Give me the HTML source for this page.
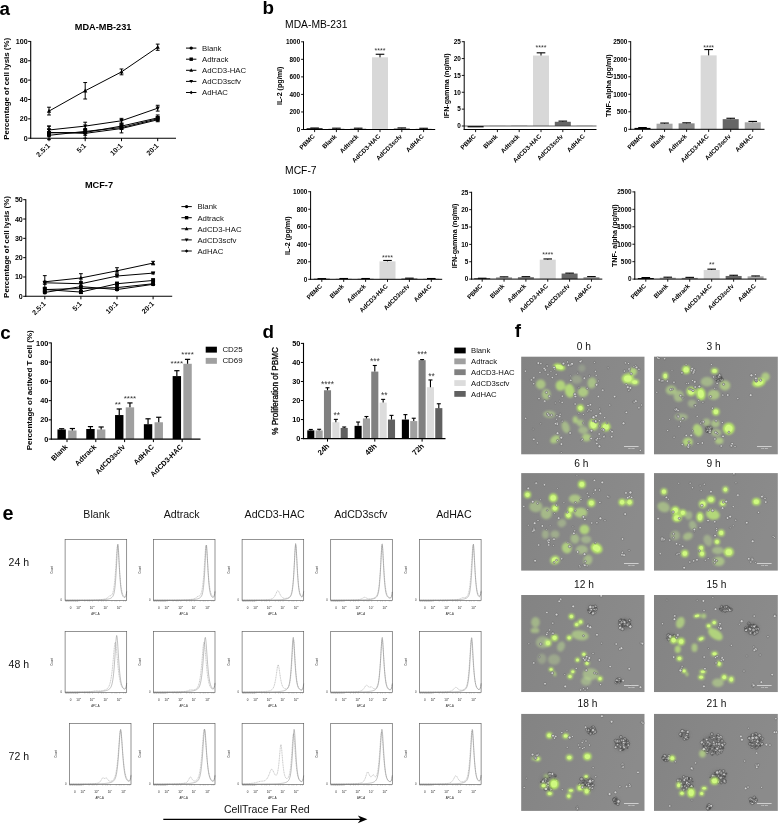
<!DOCTYPE html>
<html lang="en"><head><meta charset="utf-8"><title>Figure</title>
<style>html,body{margin:0;padding:0;background:#fff}body{width:778px;height:824px;overflow:hidden}svg{display:block}text{font-family:"Liberation Sans",Arial,sans-serif}</style>
</head><body>
<svg width="778" height="824" viewBox="0 0 778 824">
<defs>
<filter id="b0" x="-5%" y="-5%" width="110%" height="110%"><feGaussianBlur stdDeviation="0.42"/></filter>
<filter id="b1" x="-5%" y="-5%" width="110%" height="110%"><feGaussianBlur stdDeviation="0.85"/></filter>
<filter id="b3" x="-5%" y="-5%" width="110%" height="110%"><feGaussianBlur stdDeviation="0.55"/></filter>
<filter id="b2" x="-5%" y="-5%" width="110%" height="110%"><feGaussianBlur stdDeviation="1.6"/></filter>
<linearGradient id="bgg" x1="0" y1="0" x2="1" y2="0.3"><stop offset="0" stop-color="#838383"/><stop offset="1" stop-color="#8b8b8b"/></linearGradient>
</defs>
<rect x="0" y="0" width="778" height="824" fill="#fff"/>
<g id="panel-a">
<text x="-0.6" y="15.4" font-size="18.8" font-weight="bold" fill="#000">a</text>
<line x1="30.7" y1="40.9" x2="30.7" y2="138.7" stroke="#000" stroke-width="1.1"/>
<line x1="30.2" y1="138.2" x2="176" y2="138.2" stroke="#000" stroke-width="1.1"/>
<line x1="28.1" y1="138.2" x2="30.7" y2="138.2" stroke="#000" stroke-width="1"/>
<text x="27.6" y="140.7" font-size="7.1" font-weight="bold" text-anchor="end" fill="#000">0</text>
<line x1="28.1" y1="118.84" x2="30.7" y2="118.84" stroke="#000" stroke-width="1"/>
<text x="27.6" y="121.34" font-size="7.1" font-weight="bold" text-anchor="end" fill="#000">20</text>
<line x1="28.1" y1="99.48" x2="30.7" y2="99.48" stroke="#000" stroke-width="1"/>
<text x="27.6" y="101.98" font-size="7.1" font-weight="bold" text-anchor="end" fill="#000">40</text>
<line x1="28.1" y1="80.12" x2="30.7" y2="80.12" stroke="#000" stroke-width="1"/>
<text x="27.6" y="82.62" font-size="7.1" font-weight="bold" text-anchor="end" fill="#000">60</text>
<line x1="28.1" y1="60.76" x2="30.7" y2="60.76" stroke="#000" stroke-width="1"/>
<text x="27.6" y="63.26" font-size="7.1" font-weight="bold" text-anchor="end" fill="#000">80</text>
<line x1="28.1" y1="41.4" x2="30.7" y2="41.4" stroke="#000" stroke-width="1"/>
<text x="27.6" y="43.9" font-size="7.1" font-weight="bold" text-anchor="end" fill="#000">100</text>
<line x1="49" y1="138.2" x2="49" y2="141.2" stroke="#000" stroke-width="1"/>
<text x="0" y="0" transform="translate(50.4,146.2) rotate(-45)" font-size="7" font-weight="bold" text-anchor="end" fill="#000">2.5:1</text>
<line x1="85.2" y1="138.2" x2="85.2" y2="141.2" stroke="#000" stroke-width="1"/>
<text x="0" y="0" transform="translate(86.6,146.2) rotate(-45)" font-size="7" font-weight="bold" text-anchor="end" fill="#000">5:1</text>
<line x1="121.5" y1="138.2" x2="121.5" y2="141.2" stroke="#000" stroke-width="1"/>
<text x="0" y="0" transform="translate(122.9,146.2) rotate(-45)" font-size="7" font-weight="bold" text-anchor="end" fill="#000">10:1</text>
<line x1="157.7" y1="138.2" x2="157.7" y2="141.2" stroke="#000" stroke-width="1"/>
<text x="0" y="0" transform="translate(159.1,146.2) rotate(-45)" font-size="7" font-weight="bold" text-anchor="end" fill="#000">20:1</text>
<text x="103.1" y="30.1" font-size="9.2" font-weight="bold" text-anchor="middle" fill="#000">MDA-MB-231</text>
<text x="0" y="0" transform="translate(8.7,88.8) rotate(-90)" font-size="7.9" font-weight="bold" text-anchor="middle" fill="#000">Percentage of cell lysis (%)</text>
<polyline fill="none" stroke="#000" stroke-width="1" points="49,135.3 85.2,131.42 121.5,127.55 157.7,118.84"/>
<line x1="49" y1="133.84" x2="49" y2="136.75" stroke="#000" stroke-width="1"/>
<line x1="47.1" y1="133.84" x2="50.9" y2="133.84" stroke="#000" stroke-width="1"/>
<line x1="47.1" y1="136.75" x2="50.9" y2="136.75" stroke="#000" stroke-width="1"/>
<circle cx="49" cy="135.3" r="1.95"/>
<line x1="85.2" y1="129.49" x2="85.2" y2="133.36" stroke="#000" stroke-width="1"/>
<line x1="83.3" y1="129.49" x2="87.1" y2="129.49" stroke="#000" stroke-width="1"/>
<line x1="83.3" y1="133.36" x2="87.1" y2="133.36" stroke="#000" stroke-width="1"/>
<circle cx="85.2" cy="131.42" r="1.95"/>
<line x1="121.5" y1="125.62" x2="121.5" y2="129.49" stroke="#000" stroke-width="1"/>
<line x1="119.6" y1="125.62" x2="123.4" y2="125.62" stroke="#000" stroke-width="1"/>
<line x1="119.6" y1="129.49" x2="123.4" y2="129.49" stroke="#000" stroke-width="1"/>
<circle cx="121.5" cy="127.55" r="1.95"/>
<line x1="157.7" y1="116.9" x2="157.7" y2="120.78" stroke="#000" stroke-width="1"/>
<line x1="155.8" y1="116.9" x2="159.6" y2="116.9" stroke="#000" stroke-width="1"/>
<line x1="155.8" y1="120.78" x2="159.6" y2="120.78" stroke="#000" stroke-width="1"/>
<circle cx="157.7" cy="118.84" r="1.95"/>
<polyline fill="none" stroke="#000" stroke-width="1" points="49,132.88 85.2,132.39 121.5,126.1 157.7,117.87"/>
<line x1="49" y1="126.1" x2="49" y2="139.65" stroke="#000" stroke-width="1"/>
<line x1="47.1" y1="126.1" x2="50.9" y2="126.1" stroke="#000" stroke-width="1"/>
<line x1="47.1" y1="139.65" x2="50.9" y2="139.65" stroke="#000" stroke-width="1"/>
<rect x="47.05" y="130.93" width="3.9" height="3.9" fill="#000"/>
<line x1="85.2" y1="129.49" x2="85.2" y2="135.3" stroke="#000" stroke-width="1"/>
<line x1="83.3" y1="129.49" x2="87.1" y2="129.49" stroke="#000" stroke-width="1"/>
<line x1="83.3" y1="135.3" x2="87.1" y2="135.3" stroke="#000" stroke-width="1"/>
<rect x="83.25" y="130.44" width="3.9" height="3.9" fill="#000"/>
<line x1="121.5" y1="123.2" x2="121.5" y2="129" stroke="#000" stroke-width="1"/>
<line x1="119.6" y1="123.2" x2="123.4" y2="123.2" stroke="#000" stroke-width="1"/>
<line x1="119.6" y1="129" x2="123.4" y2="129" stroke="#000" stroke-width="1"/>
<rect x="119.55" y="124.15" width="3.9" height="3.9" fill="#000"/>
<line x1="157.7" y1="114.97" x2="157.7" y2="120.78" stroke="#000" stroke-width="1"/>
<line x1="155.8" y1="114.97" x2="159.6" y2="114.97" stroke="#000" stroke-width="1"/>
<line x1="155.8" y1="120.78" x2="159.6" y2="120.78" stroke="#000" stroke-width="1"/>
<rect x="155.75" y="115.92" width="3.9" height="3.9" fill="#000"/>
<polyline fill="none" stroke="#000" stroke-width="1" points="49,111.1 85.2,90.77 121.5,71.89 157.7,47.21"/>
<line x1="49" y1="107.22" x2="49" y2="114.97" stroke="#000" stroke-width="1"/>
<line x1="47.1" y1="107.22" x2="50.9" y2="107.22" stroke="#000" stroke-width="1"/>
<line x1="47.1" y1="114.97" x2="50.9" y2="114.97" stroke="#000" stroke-width="1"/>
<path d="M49 108.85L51.15 112.75L46.85 112.75Z"/>
<line x1="85.2" y1="82.54" x2="85.2" y2="99" stroke="#000" stroke-width="1"/>
<line x1="83.3" y1="82.54" x2="87.1" y2="82.54" stroke="#000" stroke-width="1"/>
<line x1="83.3" y1="99" x2="87.1" y2="99" stroke="#000" stroke-width="1"/>
<path d="M85.2 88.53L87.34 92.43L83.06 92.43Z"/>
<line x1="121.5" y1="68.99" x2="121.5" y2="74.8" stroke="#000" stroke-width="1"/>
<line x1="119.6" y1="68.99" x2="123.4" y2="68.99" stroke="#000" stroke-width="1"/>
<line x1="119.6" y1="74.8" x2="123.4" y2="74.8" stroke="#000" stroke-width="1"/>
<path d="M121.5 69.65L123.64 73.55L119.36 73.55Z"/>
<line x1="157.7" y1="44.11" x2="157.7" y2="50.31" stroke="#000" stroke-width="1"/>
<line x1="155.8" y1="44.11" x2="159.6" y2="44.11" stroke="#000" stroke-width="1"/>
<line x1="155.8" y1="50.31" x2="159.6" y2="50.31" stroke="#000" stroke-width="1"/>
<path d="M157.7 44.97L159.84 48.87L155.55 48.87Z"/>
<polyline fill="none" stroke="#000" stroke-width="1" points="49,129.97 85.2,126.1 121.5,120.78 157.7,108.19"/>
<line x1="49" y1="126.1" x2="49" y2="133.84" stroke="#000" stroke-width="1"/>
<line x1="47.1" y1="126.1" x2="50.9" y2="126.1" stroke="#000" stroke-width="1"/>
<line x1="47.1" y1="133.84" x2="50.9" y2="133.84" stroke="#000" stroke-width="1"/>
<path d="M49 132.21L51.15 128.31L46.85 128.31Z"/>
<line x1="85.2" y1="122.23" x2="85.2" y2="129.97" stroke="#000" stroke-width="1"/>
<line x1="83.3" y1="122.23" x2="87.1" y2="122.23" stroke="#000" stroke-width="1"/>
<line x1="83.3" y1="129.97" x2="87.1" y2="129.97" stroke="#000" stroke-width="1"/>
<path d="M85.2 128.34L87.34 124.44L83.06 124.44Z"/>
<line x1="121.5" y1="118.36" x2="121.5" y2="123.2" stroke="#000" stroke-width="1"/>
<line x1="119.6" y1="118.36" x2="123.4" y2="118.36" stroke="#000" stroke-width="1"/>
<line x1="119.6" y1="123.2" x2="123.4" y2="123.2" stroke="#000" stroke-width="1"/>
<path d="M121.5 123.02L123.64 119.12L119.36 119.12Z"/>
<line x1="157.7" y1="105.29" x2="157.7" y2="111.1" stroke="#000" stroke-width="1"/>
<line x1="155.8" y1="105.29" x2="159.6" y2="105.29" stroke="#000" stroke-width="1"/>
<line x1="155.8" y1="111.1" x2="159.6" y2="111.1" stroke="#000" stroke-width="1"/>
<path d="M157.7 110.43L159.84 106.53L155.55 106.53Z"/>
<polyline fill="none" stroke="#000" stroke-width="1" points="49,132.39 85.2,133.36 121.5,128.52 157.7,119.81"/>
<line x1="49" y1="129.49" x2="49" y2="135.3" stroke="#000" stroke-width="1"/>
<line x1="47.1" y1="129.49" x2="50.9" y2="129.49" stroke="#000" stroke-width="1"/>
<line x1="47.1" y1="135.3" x2="50.9" y2="135.3" stroke="#000" stroke-width="1"/>
<path d="M49 130.25L50.95 132.39L49 134.54L47.05 132.39Z"/>
<line x1="85.2" y1="128.52" x2="85.2" y2="138.2" stroke="#000" stroke-width="1"/>
<line x1="83.3" y1="128.52" x2="87.1" y2="128.52" stroke="#000" stroke-width="1"/>
<line x1="83.3" y1="138.2" x2="87.1" y2="138.2" stroke="#000" stroke-width="1"/>
<path d="M85.2 131.21L87.15 133.36L85.2 135.5L83.25 133.36Z"/>
<line x1="121.5" y1="124.16" x2="121.5" y2="132.88" stroke="#000" stroke-width="1"/>
<line x1="119.6" y1="124.16" x2="123.4" y2="124.16" stroke="#000" stroke-width="1"/>
<line x1="119.6" y1="132.88" x2="123.4" y2="132.88" stroke="#000" stroke-width="1"/>
<path d="M121.5 126.37L123.45 128.52L121.5 130.66L119.55 128.52Z"/>
<line x1="157.7" y1="117.87" x2="157.7" y2="121.74" stroke="#000" stroke-width="1"/>
<line x1="155.8" y1="117.87" x2="159.6" y2="117.87" stroke="#000" stroke-width="1"/>
<line x1="155.8" y1="121.74" x2="159.6" y2="121.74" stroke="#000" stroke-width="1"/>
<path d="M157.7 117.66L159.65 119.81L157.7 121.95L155.75 119.81Z"/>
<line x1="186" y1="48.1" x2="196.4" y2="48.1" stroke="#000" stroke-width="1"/>
<circle cx="191.2" cy="48.1" r="1.7"/>
<text x="202" y="50.9" font-size="7.8" fill="#111">Blank</text>
<line x1="186" y1="59.2" x2="196.4" y2="59.2" stroke="#000" stroke-width="1"/>
<rect x="189.5" y="57.5" width="3.4" height="3.4" fill="#000"/>
<text x="202" y="62" font-size="7.8" fill="#111">Adtrack</text>
<line x1="186" y1="70.3" x2="196.4" y2="70.3" stroke="#000" stroke-width="1"/>
<path d="M191.2 68.34L193.07 71.74L189.33 71.74Z"/>
<text x="202" y="73.1" font-size="7.8" fill="#111">AdCD3-HAC</text>
<line x1="186" y1="81.4" x2="196.4" y2="81.4" stroke="#000" stroke-width="1"/>
<path d="M191.2 83.36L193.07 79.96L189.33 79.96Z"/>
<text x="202" y="84.2" font-size="7.8" fill="#111">AdCD3scfv</text>
<line x1="186" y1="92.5" x2="196.4" y2="92.5" stroke="#000" stroke-width="1"/>
<path d="M191.2 90.63L192.9 92.5L191.2 94.37L189.5 92.5Z"/>
<text x="202" y="95.3" font-size="7.8" fill="#111">AdHAC</text>
<line x1="25.8" y1="199.2" x2="25.8" y2="296.8" stroke="#000" stroke-width="1.1"/>
<line x1="25.3" y1="296.3" x2="172.2" y2="296.3" stroke="#000" stroke-width="1.1"/>
<line x1="23.2" y1="296.3" x2="25.8" y2="296.3" stroke="#000" stroke-width="1"/>
<text x="22.8" y="298.8" font-size="7.1" font-weight="bold" text-anchor="end" fill="#000">0</text>
<line x1="23.2" y1="276.98" x2="25.8" y2="276.98" stroke="#000" stroke-width="1"/>
<text x="22.8" y="279.48" font-size="7.1" font-weight="bold" text-anchor="end" fill="#000">10</text>
<line x1="23.2" y1="257.66" x2="25.8" y2="257.66" stroke="#000" stroke-width="1"/>
<text x="22.8" y="260.16" font-size="7.1" font-weight="bold" text-anchor="end" fill="#000">20</text>
<line x1="23.2" y1="238.34" x2="25.8" y2="238.34" stroke="#000" stroke-width="1"/>
<text x="22.8" y="240.84" font-size="7.1" font-weight="bold" text-anchor="end" fill="#000">30</text>
<line x1="23.2" y1="219.02" x2="25.8" y2="219.02" stroke="#000" stroke-width="1"/>
<text x="22.8" y="221.52" font-size="7.1" font-weight="bold" text-anchor="end" fill="#000">40</text>
<line x1="23.2" y1="199.7" x2="25.8" y2="199.7" stroke="#000" stroke-width="1"/>
<text x="22.8" y="202.2" font-size="7.1" font-weight="bold" text-anchor="end" fill="#000">50</text>
<line x1="44.8" y1="296.3" x2="44.8" y2="299.3" stroke="#000" stroke-width="1"/>
<text x="0" y="0" transform="translate(46.2,304.3) rotate(-45)" font-size="7" font-weight="bold" text-anchor="end" fill="#000">2.5:1</text>
<line x1="80.9" y1="296.3" x2="80.9" y2="299.3" stroke="#000" stroke-width="1"/>
<text x="0" y="0" transform="translate(82.3,304.3) rotate(-45)" font-size="7" font-weight="bold" text-anchor="end" fill="#000">5:1</text>
<line x1="117" y1="296.3" x2="117" y2="299.3" stroke="#000" stroke-width="1"/>
<text x="0" y="0" transform="translate(118.4,304.3) rotate(-45)" font-size="7" font-weight="bold" text-anchor="end" fill="#000">10:1</text>
<line x1="153.1" y1="296.3" x2="153.1" y2="299.3" stroke="#000" stroke-width="1"/>
<text x="0" y="0" transform="translate(154.5,304.3) rotate(-45)" font-size="7" font-weight="bold" text-anchor="end" fill="#000">20:1</text>
<text x="99" y="188" font-size="9.2" font-weight="bold" text-anchor="middle" fill="#000">MCF-7</text>
<text x="0" y="0" transform="translate(8.7,247) rotate(-90)" font-size="7.9" font-weight="bold" text-anchor="middle" fill="#000">Percentage of cell lysis (%)</text>
<polyline fill="none" stroke="#000" stroke-width="1" points="44.8,292.44 80.9,286.64 117,289.54 153.1,284.32"/>
<line x1="44.8" y1="291.28" x2="44.8" y2="293.6" stroke="#000" stroke-width="1"/>
<line x1="42.9" y1="291.28" x2="46.7" y2="291.28" stroke="#000" stroke-width="1"/>
<line x1="42.9" y1="293.6" x2="46.7" y2="293.6" stroke="#000" stroke-width="1"/>
<circle cx="44.8" cy="292.44" r="1.95"/>
<line x1="80.9" y1="285.09" x2="80.9" y2="288.19" stroke="#000" stroke-width="1"/>
<line x1="79" y1="285.09" x2="82.8" y2="285.09" stroke="#000" stroke-width="1"/>
<line x1="79" y1="288.19" x2="82.8" y2="288.19" stroke="#000" stroke-width="1"/>
<circle cx="80.9" cy="286.64" r="1.95"/>
<line x1="117" y1="288.57" x2="117" y2="290.5" stroke="#000" stroke-width="1"/>
<line x1="115.1" y1="288.57" x2="118.9" y2="288.57" stroke="#000" stroke-width="1"/>
<line x1="115.1" y1="290.5" x2="118.9" y2="290.5" stroke="#000" stroke-width="1"/>
<circle cx="117" cy="289.54" r="1.95"/>
<line x1="153.1" y1="283.36" x2="153.1" y2="285.29" stroke="#000" stroke-width="1"/>
<line x1="151.2" y1="283.36" x2="155" y2="283.36" stroke="#000" stroke-width="1"/>
<line x1="151.2" y1="285.29" x2="155" y2="285.29" stroke="#000" stroke-width="1"/>
<circle cx="153.1" cy="284.32" r="1.95"/>
<polyline fill="none" stroke="#000" stroke-width="1" points="44.8,289.54 80.9,292.05 117,283.74 153.1,280.46"/>
<line x1="44.8" y1="287.22" x2="44.8" y2="291.86" stroke="#000" stroke-width="1"/>
<line x1="42.9" y1="287.22" x2="46.7" y2="287.22" stroke="#000" stroke-width="1"/>
<line x1="42.9" y1="291.86" x2="46.7" y2="291.86" stroke="#000" stroke-width="1"/>
<rect x="42.85" y="287.59" width="3.9" height="3.9" fill="#000"/>
<line x1="80.9" y1="290.5" x2="80.9" y2="293.6" stroke="#000" stroke-width="1"/>
<line x1="79" y1="290.5" x2="82.8" y2="290.5" stroke="#000" stroke-width="1"/>
<line x1="79" y1="293.6" x2="82.8" y2="293.6" stroke="#000" stroke-width="1"/>
<rect x="78.95" y="290.1" width="3.9" height="3.9" fill="#000"/>
<line x1="117" y1="282.2" x2="117" y2="285.29" stroke="#000" stroke-width="1"/>
<line x1="115.1" y1="282.2" x2="118.9" y2="282.2" stroke="#000" stroke-width="1"/>
<line x1="115.1" y1="285.29" x2="118.9" y2="285.29" stroke="#000" stroke-width="1"/>
<rect x="115.05" y="281.79" width="3.9" height="3.9" fill="#000"/>
<line x1="153.1" y1="278.72" x2="153.1" y2="282.2" stroke="#000" stroke-width="1"/>
<line x1="151.2" y1="278.72" x2="155" y2="278.72" stroke="#000" stroke-width="1"/>
<line x1="151.2" y1="282.2" x2="155" y2="282.2" stroke="#000" stroke-width="1"/>
<rect x="151.15" y="278.51" width="3.9" height="3.9" fill="#000"/>
<polyline fill="none" stroke="#000" stroke-width="1" points="44.8,281.81 80.9,277.95 117,270.8 153.1,263.07"/>
<line x1="44.8" y1="275.63" x2="44.8" y2="287.99" stroke="#000" stroke-width="1"/>
<line x1="42.9" y1="275.63" x2="46.7" y2="275.63" stroke="#000" stroke-width="1"/>
<line x1="42.9" y1="287.99" x2="46.7" y2="287.99" stroke="#000" stroke-width="1"/>
<path d="M44.8 279.57L46.95 283.47L42.65 283.47Z"/>
<line x1="80.9" y1="273.7" x2="80.9" y2="282.2" stroke="#000" stroke-width="1"/>
<line x1="79" y1="273.7" x2="82.8" y2="273.7" stroke="#000" stroke-width="1"/>
<line x1="79" y1="282.2" x2="82.8" y2="282.2" stroke="#000" stroke-width="1"/>
<path d="M80.9 275.7L83.05 279.6L78.76 279.6Z"/>
<line x1="117" y1="267.71" x2="117" y2="273.89" stroke="#000" stroke-width="1"/>
<line x1="115.1" y1="267.71" x2="118.9" y2="267.71" stroke="#000" stroke-width="1"/>
<line x1="115.1" y1="273.89" x2="118.9" y2="273.89" stroke="#000" stroke-width="1"/>
<path d="M117 268.56L119.14 272.46L114.86 272.46Z"/>
<line x1="153.1" y1="261.33" x2="153.1" y2="264.81" stroke="#000" stroke-width="1"/>
<line x1="151.2" y1="261.33" x2="155" y2="261.33" stroke="#000" stroke-width="1"/>
<line x1="151.2" y1="264.81" x2="155" y2="264.81" stroke="#000" stroke-width="1"/>
<path d="M153.1 260.83L155.25 264.73L150.95 264.73Z"/>
<polyline fill="none" stroke="#000" stroke-width="1" points="44.8,282.78 80.9,283.74 117,276.01 153.1,273.12"/>
<line x1="44.8" y1="281.23" x2="44.8" y2="284.32" stroke="#000" stroke-width="1"/>
<line x1="42.9" y1="281.23" x2="46.7" y2="281.23" stroke="#000" stroke-width="1"/>
<line x1="42.9" y1="284.32" x2="46.7" y2="284.32" stroke="#000" stroke-width="1"/>
<path d="M44.8 285.02L46.95 281.12L42.65 281.12Z"/>
<line x1="80.9" y1="281.42" x2="80.9" y2="286.06" stroke="#000" stroke-width="1"/>
<line x1="79" y1="281.42" x2="82.8" y2="281.42" stroke="#000" stroke-width="1"/>
<line x1="79" y1="286.06" x2="82.8" y2="286.06" stroke="#000" stroke-width="1"/>
<path d="M80.9 285.98L83.05 282.08L78.76 282.08Z"/>
<line x1="117" y1="275.05" x2="117" y2="276.98" stroke="#000" stroke-width="1"/>
<line x1="115.1" y1="275.05" x2="118.9" y2="275.05" stroke="#000" stroke-width="1"/>
<line x1="115.1" y1="276.98" x2="118.9" y2="276.98" stroke="#000" stroke-width="1"/>
<path d="M117 278.26L119.14 274.36L114.86 274.36Z"/>
<line x1="153.1" y1="272.34" x2="153.1" y2="273.89" stroke="#000" stroke-width="1"/>
<line x1="151.2" y1="272.34" x2="155" y2="272.34" stroke="#000" stroke-width="1"/>
<line x1="151.2" y1="273.89" x2="155" y2="273.89" stroke="#000" stroke-width="1"/>
<path d="M153.1 275.36L155.25 271.46L150.95 271.46Z"/>
<polyline fill="none" stroke="#000" stroke-width="1" points="44.8,289.54 80.9,288.57 117,287.61 153.1,283.74"/>
<line x1="44.8" y1="287.99" x2="44.8" y2="291.08" stroke="#000" stroke-width="1"/>
<line x1="42.9" y1="287.99" x2="46.7" y2="287.99" stroke="#000" stroke-width="1"/>
<line x1="42.9" y1="291.08" x2="46.7" y2="291.08" stroke="#000" stroke-width="1"/>
<path d="M44.8 287.39L46.75 289.54L44.8 291.68L42.85 289.54Z"/>
<line x1="80.9" y1="287.03" x2="80.9" y2="290.12" stroke="#000" stroke-width="1"/>
<line x1="79" y1="287.03" x2="82.8" y2="287.03" stroke="#000" stroke-width="1"/>
<line x1="79" y1="290.12" x2="82.8" y2="290.12" stroke="#000" stroke-width="1"/>
<path d="M80.9 286.43L82.85 288.57L80.9 290.72L78.95 288.57Z"/>
<line x1="117" y1="286.64" x2="117" y2="288.57" stroke="#000" stroke-width="1"/>
<line x1="115.1" y1="286.64" x2="118.9" y2="286.64" stroke="#000" stroke-width="1"/>
<line x1="115.1" y1="288.57" x2="118.9" y2="288.57" stroke="#000" stroke-width="1"/>
<path d="M117 285.46L118.95 287.61L117 289.75L115.05 287.61Z"/>
<line x1="153.1" y1="282.78" x2="153.1" y2="284.71" stroke="#000" stroke-width="1"/>
<line x1="151.2" y1="282.78" x2="155" y2="282.78" stroke="#000" stroke-width="1"/>
<line x1="151.2" y1="284.71" x2="155" y2="284.71" stroke="#000" stroke-width="1"/>
<path d="M153.1 281.6L155.05 283.74L153.1 285.89L151.15 283.74Z"/>
<line x1="181.4" y1="206.6" x2="191.8" y2="206.6" stroke="#000" stroke-width="1"/>
<circle cx="186.6" cy="206.6" r="1.7"/>
<text x="197.4" y="209.4" font-size="7.8" fill="#111">Blank</text>
<line x1="181.4" y1="217.7" x2="191.8" y2="217.7" stroke="#000" stroke-width="1"/>
<rect x="184.9" y="216" width="3.4" height="3.4" fill="#000"/>
<text x="197.4" y="220.5" font-size="7.8" fill="#111">Adtrack</text>
<line x1="181.4" y1="228.8" x2="191.8" y2="228.8" stroke="#000" stroke-width="1"/>
<path d="M186.6 226.84L188.47 230.24L184.73 230.24Z"/>
<text x="197.4" y="231.6" font-size="7.8" fill="#111">AdCD3-HAC</text>
<line x1="181.4" y1="239.9" x2="191.8" y2="239.9" stroke="#000" stroke-width="1"/>
<path d="M186.6 241.85L188.47 238.45L184.73 238.45Z"/>
<text x="197.4" y="242.7" font-size="7.8" fill="#111">AdCD3scfv</text>
<line x1="181.4" y1="251" x2="191.8" y2="251" stroke="#000" stroke-width="1"/>
<path d="M186.6 249.13L188.3 251L186.6 252.87L184.9 251Z"/>
<text x="197.4" y="253.8" font-size="7.8" fill="#111">AdHAC</text>
</g>
<g id="panel-b">
<text x="262.6" y="14.3" font-size="18.8" font-weight="bold" fill="#000">b</text>
<text x="285.1" y="27.7" font-size="10.3" fill="#000">MDA-MB-231</text>
<text x="285.1" y="173.8" font-size="10.3" fill="#000">MCF-7</text>
<rect x="306.6" y="128.27" width="16" height="1.23" fill="#000"/>
<line x1="314.6" y1="128.27" x2="314.6" y2="128.01" stroke="#000" stroke-width="1"/>
<line x1="310.3" y1="128.01" x2="318.9" y2="128.01" stroke="#000" stroke-width="1.1"/>
<rect x="328.4" y="128.62" width="16" height="0.88" fill="#a8a8a8"/>
<line x1="336.4" y1="128.62" x2="336.4" y2="128.18" stroke="#000" stroke-width="1"/>
<line x1="332.1" y1="128.18" x2="340.7" y2="128.18" stroke="#000" stroke-width="1.1"/>
<rect x="350.2" y="128.62" width="16" height="0.88" fill="#8a8a8a"/>
<line x1="358.2" y1="128.62" x2="358.2" y2="128.18" stroke="#000" stroke-width="1"/>
<line x1="353.9" y1="128.18" x2="362.5" y2="128.18" stroke="#000" stroke-width="1.1"/>
<rect x="372" y="57.32" width="16" height="72.18" fill="#d8d8d8"/>
<line x1="380" y1="57.32" x2="380" y2="54.25" stroke="#000" stroke-width="1"/>
<line x1="375.7" y1="54.25" x2="384.3" y2="54.25" stroke="#000" stroke-width="1.1"/>
<text x="380" y="53.05" font-size="7" text-anchor="middle" fill="#333">****</text>
<rect x="393.8" y="128.45" width="16" height="1.05" fill="#666"/>
<line x1="401.8" y1="128.45" x2="401.8" y2="127.92" stroke="#000" stroke-width="1"/>
<line x1="397.5" y1="127.92" x2="406.1" y2="127.92" stroke="#000" stroke-width="1.1"/>
<rect x="415.6" y="128.71" width="16" height="0.79" fill="#a8a8a8"/>
<line x1="423.6" y1="128.71" x2="423.6" y2="128.27" stroke="#000" stroke-width="1"/>
<line x1="419.3" y1="128.27" x2="427.9" y2="128.27" stroke="#000" stroke-width="1.1"/>
<line x1="303.5" y1="41.3" x2="303.5" y2="130" stroke="#000" stroke-width="1"/>
<line x1="303" y1="129.5" x2="435.2" y2="129.5" stroke="#000" stroke-width="1"/>
<line x1="301.1" y1="129.5" x2="303.5" y2="129.5" stroke="#000" stroke-width="0.9"/>
<text x="300.2" y="131.8" font-size="6.4" font-weight="bold" text-anchor="end" fill="#000">0</text>
<line x1="301.1" y1="111.96" x2="303.5" y2="111.96" stroke="#000" stroke-width="0.9"/>
<text x="300.2" y="114.26" font-size="6.4" font-weight="bold" text-anchor="end" fill="#000">200</text>
<line x1="301.1" y1="94.42" x2="303.5" y2="94.42" stroke="#000" stroke-width="0.9"/>
<text x="300.2" y="96.72" font-size="6.4" font-weight="bold" text-anchor="end" fill="#000">400</text>
<line x1="301.1" y1="76.88" x2="303.5" y2="76.88" stroke="#000" stroke-width="0.9"/>
<text x="300.2" y="79.18" font-size="6.4" font-weight="bold" text-anchor="end" fill="#000">600</text>
<line x1="301.1" y1="59.34" x2="303.5" y2="59.34" stroke="#000" stroke-width="0.9"/>
<text x="300.2" y="61.64" font-size="6.4" font-weight="bold" text-anchor="end" fill="#000">800</text>
<line x1="301.1" y1="41.8" x2="303.5" y2="41.8" stroke="#000" stroke-width="0.9"/>
<text x="300.2" y="44.1" font-size="6.4" font-weight="bold" text-anchor="end" fill="#000">1000</text>
<line x1="314.6" y1="129.5" x2="314.6" y2="132.1" stroke="#000" stroke-width="0.9"/>
<text x="0" y="0" transform="translate(315.2,136.9) rotate(-45)" font-size="6.3" font-weight="bold" text-anchor="end" fill="#000">PBMC</text>
<line x1="336.4" y1="129.5" x2="336.4" y2="132.1" stroke="#000" stroke-width="0.9"/>
<text x="0" y="0" transform="translate(337,136.9) rotate(-45)" font-size="6.3" font-weight="bold" text-anchor="end" fill="#000">Blank</text>
<line x1="358.2" y1="129.5" x2="358.2" y2="132.1" stroke="#000" stroke-width="0.9"/>
<text x="0" y="0" transform="translate(358.8,136.9) rotate(-45)" font-size="6.3" font-weight="bold" text-anchor="end" fill="#000">Adtrack</text>
<line x1="380" y1="129.5" x2="380" y2="132.1" stroke="#000" stroke-width="0.9"/>
<text x="0" y="0" transform="translate(380.6,136.9) rotate(-45)" font-size="6.3" font-weight="bold" text-anchor="end" fill="#000">AdCD3-HAC</text>
<line x1="401.8" y1="129.5" x2="401.8" y2="132.1" stroke="#000" stroke-width="0.9"/>
<text x="0" y="0" transform="translate(402.4,136.9) rotate(-45)" font-size="6.3" font-weight="bold" text-anchor="end" fill="#000">AdCD3scfv</text>
<line x1="423.6" y1="129.5" x2="423.6" y2="132.1" stroke="#000" stroke-width="0.9"/>
<text x="0" y="0" transform="translate(424.2,136.9) rotate(-45)" font-size="6.3" font-weight="bold" text-anchor="end" fill="#000">AdHAC</text>
<text x="0" y="0" transform="translate(282.2,85.85) rotate(-90)" font-size="7.15" font-weight="bold" text-anchor="middle" fill="#000">IL-2 (pg/ml)</text>
<rect x="467.6" y="126" width="16" height="1.35" fill="#000"/>
<rect x="489.4" y="125.83" width="16" height="0.17" fill="#a8a8a8"/>
<rect x="511.2" y="125.73" width="16" height="0.27" fill="#8a8a8a"/>
<rect x="533" y="55.53" width="16" height="70.47" fill="#d8d8d8"/>
<line x1="541" y1="55.53" x2="541" y2="52.83" stroke="#000" stroke-width="1"/>
<line x1="536.7" y1="52.83" x2="545.3" y2="52.83" stroke="#000" stroke-width="1.1"/>
<text x="541" y="49.93" font-size="7" text-anchor="middle" fill="#333">****</text>
<rect x="554.8" y="121.78" width="16" height="4.22" fill="#666"/>
<line x1="562.8" y1="121.78" x2="562.8" y2="121.11" stroke="#000" stroke-width="1"/>
<line x1="558.5" y1="121.11" x2="567.1" y2="121.11" stroke="#000" stroke-width="1.1"/>
<rect x="576.6" y="125.73" width="16" height="0.27" fill="#a8a8a8"/>
<line x1="464.2" y1="126" x2="596.5" y2="126" stroke="#3a3a3a" stroke-width="0.8"/>
<line x1="464.2" y1="41.2" x2="464.2" y2="130" stroke="#000" stroke-width="1"/>
<line x1="463.7" y1="129.5" x2="596.5" y2="129.5" stroke="#000" stroke-width="1"/>
<line x1="461.8" y1="126" x2="464.2" y2="126" stroke="#000" stroke-width="0.9"/>
<text x="460.9" y="128.3" font-size="6.4" font-weight="bold" text-anchor="end" fill="#000">0</text>
<line x1="461.8" y1="109.14" x2="464.2" y2="109.14" stroke="#000" stroke-width="0.9"/>
<text x="460.9" y="111.44" font-size="6.4" font-weight="bold" text-anchor="end" fill="#000">5</text>
<line x1="461.8" y1="92.28" x2="464.2" y2="92.28" stroke="#000" stroke-width="0.9"/>
<text x="460.9" y="94.58" font-size="6.4" font-weight="bold" text-anchor="end" fill="#000">10</text>
<line x1="461.8" y1="75.42" x2="464.2" y2="75.42" stroke="#000" stroke-width="0.9"/>
<text x="460.9" y="77.72" font-size="6.4" font-weight="bold" text-anchor="end" fill="#000">15</text>
<line x1="461.8" y1="58.56" x2="464.2" y2="58.56" stroke="#000" stroke-width="0.9"/>
<text x="460.9" y="60.86" font-size="6.4" font-weight="bold" text-anchor="end" fill="#000">20</text>
<line x1="461.8" y1="41.7" x2="464.2" y2="41.7" stroke="#000" stroke-width="0.9"/>
<text x="460.9" y="44" font-size="6.4" font-weight="bold" text-anchor="end" fill="#000">25</text>
<line x1="475.6" y1="129.5" x2="475.6" y2="132.1" stroke="#000" stroke-width="0.9"/>
<text x="0" y="0" transform="translate(476.2,136.9) rotate(-45)" font-size="6.3" font-weight="bold" text-anchor="end" fill="#000">PBMC</text>
<line x1="497.4" y1="129.5" x2="497.4" y2="132.1" stroke="#000" stroke-width="0.9"/>
<text x="0" y="0" transform="translate(498,136.9) rotate(-45)" font-size="6.3" font-weight="bold" text-anchor="end" fill="#000">Blank</text>
<line x1="519.2" y1="129.5" x2="519.2" y2="132.1" stroke="#000" stroke-width="0.9"/>
<text x="0" y="0" transform="translate(519.8,136.9) rotate(-45)" font-size="6.3" font-weight="bold" text-anchor="end" fill="#000">Adtrack</text>
<line x1="541" y1="129.5" x2="541" y2="132.1" stroke="#000" stroke-width="0.9"/>
<text x="0" y="0" transform="translate(541.6,136.9) rotate(-45)" font-size="6.3" font-weight="bold" text-anchor="end" fill="#000">AdCD3-HAC</text>
<line x1="562.8" y1="129.5" x2="562.8" y2="132.1" stroke="#000" stroke-width="0.9"/>
<text x="0" y="0" transform="translate(563.4,136.9) rotate(-45)" font-size="6.3" font-weight="bold" text-anchor="end" fill="#000">AdCD3scfv</text>
<line x1="584.6" y1="129.5" x2="584.6" y2="132.1" stroke="#000" stroke-width="0.9"/>
<text x="0" y="0" transform="translate(585.2,136.9) rotate(-45)" font-size="6.3" font-weight="bold" text-anchor="end" fill="#000">AdHAC</text>
<text x="0" y="0" transform="translate(449.3,85.8) rotate(-90)" font-size="7.15" font-weight="bold" text-anchor="middle" fill="#000">IFN-gamma (ng/ml)</text>
<rect x="634.5" y="127.9" width="16" height="1.4" fill="#000"/>
<line x1="642.5" y1="127.9" x2="642.5" y2="127.55" stroke="#000" stroke-width="1"/>
<line x1="638.2" y1="127.55" x2="646.8" y2="127.55" stroke="#000" stroke-width="1.1"/>
<rect x="656.55" y="123.69" width="16" height="5.61" fill="#a8a8a8"/>
<line x1="664.55" y1="123.69" x2="664.55" y2="123.06" stroke="#000" stroke-width="1"/>
<line x1="660.25" y1="123.06" x2="668.85" y2="123.06" stroke="#000" stroke-width="1.1"/>
<rect x="678.6" y="123.34" width="16" height="5.96" fill="#8a8a8a"/>
<line x1="686.6" y1="123.34" x2="686.6" y2="122.82" stroke="#000" stroke-width="1"/>
<line x1="682.3" y1="122.82" x2="690.9" y2="122.82" stroke="#000" stroke-width="1.1"/>
<rect x="700.65" y="55.37" width="16" height="73.93" fill="#d8d8d8"/>
<line x1="708.65" y1="55.37" x2="708.65" y2="49.58" stroke="#000" stroke-width="1"/>
<line x1="704.35" y1="49.58" x2="712.95" y2="49.58" stroke="#000" stroke-width="1.1"/>
<text x="708.65" y="49.88" font-size="7" text-anchor="middle" fill="#333">****</text>
<rect x="722.7" y="119.14" width="16" height="10.16" fill="#666"/>
<line x1="730.7" y1="119.14" x2="730.7" y2="118.26" stroke="#000" stroke-width="1"/>
<line x1="726.4" y1="118.26" x2="735" y2="118.26" stroke="#000" stroke-width="1.1"/>
<rect x="744.75" y="122.29" width="16" height="7.01" fill="#a8a8a8"/>
<line x1="752.75" y1="122.29" x2="752.75" y2="121.42" stroke="#000" stroke-width="1"/>
<line x1="748.45" y1="121.42" x2="757.05" y2="121.42" stroke="#000" stroke-width="1.1"/>
<line x1="630.7" y1="41.2" x2="630.7" y2="129.8" stroke="#000" stroke-width="1"/>
<line x1="630.2" y1="129.3" x2="764.5" y2="129.3" stroke="#000" stroke-width="1"/>
<line x1="628.3" y1="129.3" x2="630.7" y2="129.3" stroke="#000" stroke-width="0.9"/>
<text x="627.4" y="131.6" font-size="6.4" font-weight="bold" text-anchor="end" fill="#000">0</text>
<line x1="628.3" y1="111.78" x2="630.7" y2="111.78" stroke="#000" stroke-width="0.9"/>
<text x="627.4" y="114.08" font-size="6.4" font-weight="bold" text-anchor="end" fill="#000">500</text>
<line x1="628.3" y1="94.26" x2="630.7" y2="94.26" stroke="#000" stroke-width="0.9"/>
<text x="627.4" y="96.56" font-size="6.4" font-weight="bold" text-anchor="end" fill="#000">1000</text>
<line x1="628.3" y1="76.74" x2="630.7" y2="76.74" stroke="#000" stroke-width="0.9"/>
<text x="627.4" y="79.04" font-size="6.4" font-weight="bold" text-anchor="end" fill="#000">1500</text>
<line x1="628.3" y1="59.22" x2="630.7" y2="59.22" stroke="#000" stroke-width="0.9"/>
<text x="627.4" y="61.52" font-size="6.4" font-weight="bold" text-anchor="end" fill="#000">2000</text>
<line x1="628.3" y1="41.7" x2="630.7" y2="41.7" stroke="#000" stroke-width="0.9"/>
<text x="627.4" y="44" font-size="6.4" font-weight="bold" text-anchor="end" fill="#000">2500</text>
<line x1="642.5" y1="129.3" x2="642.5" y2="131.9" stroke="#000" stroke-width="0.9"/>
<text x="0" y="0" transform="translate(643.1,136.7) rotate(-45)" font-size="6.3" font-weight="bold" text-anchor="end" fill="#000">PBMC</text>
<line x1="664.55" y1="129.3" x2="664.55" y2="131.9" stroke="#000" stroke-width="0.9"/>
<text x="0" y="0" transform="translate(665.15,136.7) rotate(-45)" font-size="6.3" font-weight="bold" text-anchor="end" fill="#000">Blank</text>
<line x1="686.6" y1="129.3" x2="686.6" y2="131.9" stroke="#000" stroke-width="0.9"/>
<text x="0" y="0" transform="translate(687.2,136.7) rotate(-45)" font-size="6.3" font-weight="bold" text-anchor="end" fill="#000">Adtrack</text>
<line x1="708.65" y1="129.3" x2="708.65" y2="131.9" stroke="#000" stroke-width="0.9"/>
<text x="0" y="0" transform="translate(709.25,136.7) rotate(-45)" font-size="6.3" font-weight="bold" text-anchor="end" fill="#000">AdCD3-HAC</text>
<line x1="730.7" y1="129.3" x2="730.7" y2="131.9" stroke="#000" stroke-width="0.9"/>
<text x="0" y="0" transform="translate(731.3,136.7) rotate(-45)" font-size="6.3" font-weight="bold" text-anchor="end" fill="#000">AdCD3scfv</text>
<line x1="752.75" y1="129.3" x2="752.75" y2="131.9" stroke="#000" stroke-width="0.9"/>
<text x="0" y="0" transform="translate(753.35,136.7) rotate(-45)" font-size="6.3" font-weight="bold" text-anchor="end" fill="#000">AdHAC</text>
<text x="0" y="0" transform="translate(610.8,85.7) rotate(-90)" font-size="7.15" font-weight="bold" text-anchor="middle" fill="#000">TNF- alpha (pg/ml)</text>
<rect x="313.8" y="278.77" width="16" height="0.53" fill="#000"/>
<line x1="321.8" y1="278.77" x2="321.8" y2="278.6" stroke="#000" stroke-width="1"/>
<line x1="317.5" y1="278.6" x2="326.1" y2="278.6" stroke="#000" stroke-width="1.1"/>
<rect x="335.7" y="278.69" width="16" height="0.61" fill="#a8a8a8"/>
<line x1="343.7" y1="278.69" x2="343.7" y2="278.51" stroke="#000" stroke-width="1"/>
<line x1="339.4" y1="278.51" x2="348" y2="278.51" stroke="#000" stroke-width="1.1"/>
<rect x="357.6" y="278.69" width="16" height="0.61" fill="#8a8a8a"/>
<line x1="365.6" y1="278.69" x2="365.6" y2="278.51" stroke="#000" stroke-width="1"/>
<line x1="361.3" y1="278.51" x2="369.9" y2="278.51" stroke="#000" stroke-width="1.1"/>
<rect x="379.5" y="261.34" width="16" height="17.96" fill="#d8d8d8"/>
<line x1="387.5" y1="261.34" x2="387.5" y2="260.47" stroke="#000" stroke-width="1"/>
<line x1="383.2" y1="260.47" x2="391.8" y2="260.47" stroke="#000" stroke-width="1.1"/>
<text x="387.5" y="260.17" font-size="7" text-anchor="middle" fill="#333">****</text>
<rect x="401.4" y="278.42" width="16" height="0.88" fill="#666"/>
<line x1="409.4" y1="278.42" x2="409.4" y2="278.16" stroke="#000" stroke-width="1"/>
<line x1="405.1" y1="278.16" x2="413.7" y2="278.16" stroke="#000" stroke-width="1.1"/>
<rect x="423.3" y="278.69" width="16" height="0.61" fill="#a8a8a8"/>
<line x1="431.3" y1="278.69" x2="431.3" y2="278.51" stroke="#000" stroke-width="1"/>
<line x1="427" y1="278.51" x2="435.6" y2="278.51" stroke="#000" stroke-width="1.1"/>
<line x1="310.6" y1="191.2" x2="310.6" y2="279.8" stroke="#000" stroke-width="1"/>
<line x1="310.1" y1="279.3" x2="442.2" y2="279.3" stroke="#000" stroke-width="1"/>
<line x1="308.2" y1="279.3" x2="310.6" y2="279.3" stroke="#000" stroke-width="0.9"/>
<text x="307.3" y="281.6" font-size="6.4" font-weight="bold" text-anchor="end" fill="#000">0</text>
<line x1="308.2" y1="261.78" x2="310.6" y2="261.78" stroke="#000" stroke-width="0.9"/>
<text x="307.3" y="264.08" font-size="6.4" font-weight="bold" text-anchor="end" fill="#000">200</text>
<line x1="308.2" y1="244.26" x2="310.6" y2="244.26" stroke="#000" stroke-width="0.9"/>
<text x="307.3" y="246.56" font-size="6.4" font-weight="bold" text-anchor="end" fill="#000">400</text>
<line x1="308.2" y1="226.74" x2="310.6" y2="226.74" stroke="#000" stroke-width="0.9"/>
<text x="307.3" y="229.04" font-size="6.4" font-weight="bold" text-anchor="end" fill="#000">600</text>
<line x1="308.2" y1="209.22" x2="310.6" y2="209.22" stroke="#000" stroke-width="0.9"/>
<text x="307.3" y="211.52" font-size="6.4" font-weight="bold" text-anchor="end" fill="#000">800</text>
<line x1="308.2" y1="191.7" x2="310.6" y2="191.7" stroke="#000" stroke-width="0.9"/>
<text x="307.3" y="194" font-size="6.4" font-weight="bold" text-anchor="end" fill="#000">1000</text>
<line x1="321.8" y1="279.3" x2="321.8" y2="281.9" stroke="#000" stroke-width="0.9"/>
<text x="0" y="0" transform="translate(322.4,286.7) rotate(-45)" font-size="6.3" font-weight="bold" text-anchor="end" fill="#000">PBMC</text>
<line x1="343.7" y1="279.3" x2="343.7" y2="281.9" stroke="#000" stroke-width="0.9"/>
<text x="0" y="0" transform="translate(344.3,286.7) rotate(-45)" font-size="6.3" font-weight="bold" text-anchor="end" fill="#000">Blank</text>
<line x1="365.6" y1="279.3" x2="365.6" y2="281.9" stroke="#000" stroke-width="0.9"/>
<text x="0" y="0" transform="translate(366.2,286.7) rotate(-45)" font-size="6.3" font-weight="bold" text-anchor="end" fill="#000">Adtrack</text>
<line x1="387.5" y1="279.3" x2="387.5" y2="281.9" stroke="#000" stroke-width="0.9"/>
<text x="0" y="0" transform="translate(388.1,286.7) rotate(-45)" font-size="6.3" font-weight="bold" text-anchor="end" fill="#000">AdCD3-HAC</text>
<line x1="409.4" y1="279.3" x2="409.4" y2="281.9" stroke="#000" stroke-width="0.9"/>
<text x="0" y="0" transform="translate(410,286.7) rotate(-45)" font-size="6.3" font-weight="bold" text-anchor="end" fill="#000">AdCD3scfv</text>
<line x1="431.3" y1="279.3" x2="431.3" y2="281.9" stroke="#000" stroke-width="0.9"/>
<text x="0" y="0" transform="translate(431.9,286.7) rotate(-45)" font-size="6.3" font-weight="bold" text-anchor="end" fill="#000">AdHAC</text>
<text x="0" y="0" transform="translate(290,235.7) rotate(-90)" font-size="7.15" font-weight="bold" text-anchor="middle" fill="#000">IL-2 (pg/ml)</text>
<rect x="474.2" y="278.41" width="16" height="0.69" fill="#000"/>
<line x1="482.2" y1="278.41" x2="482.2" y2="278.23" stroke="#000" stroke-width="1"/>
<line x1="477.9" y1="278.23" x2="486.5" y2="278.23" stroke="#000" stroke-width="1.1"/>
<rect x="496.05" y="277.19" width="16" height="1.91" fill="#a8a8a8"/>
<line x1="504.05" y1="277.19" x2="504.05" y2="276.84" stroke="#000" stroke-width="1"/>
<line x1="499.75" y1="276.84" x2="508.35" y2="276.84" stroke="#000" stroke-width="1.1"/>
<rect x="517.9" y="277.02" width="16" height="2.08" fill="#8a8a8a"/>
<line x1="525.9" y1="277.02" x2="525.9" y2="276.67" stroke="#000" stroke-width="1"/>
<line x1="521.6" y1="276.67" x2="530.2" y2="276.67" stroke="#000" stroke-width="1.1"/>
<rect x="539.75" y="259.66" width="16" height="19.44" fill="#d8d8d8"/>
<line x1="547.75" y1="259.66" x2="547.75" y2="258.96" stroke="#000" stroke-width="1"/>
<line x1="543.45" y1="258.96" x2="552.05" y2="258.96" stroke="#000" stroke-width="1.1"/>
<text x="547.75" y="256.56" font-size="7" text-anchor="middle" fill="#333">****</text>
<rect x="561.6" y="273.54" width="16" height="5.56" fill="#666"/>
<line x1="569.6" y1="273.54" x2="569.6" y2="273.13" stroke="#000" stroke-width="1"/>
<line x1="565.3" y1="273.13" x2="573.9" y2="273.13" stroke="#000" stroke-width="1.1"/>
<rect x="583.45" y="277.02" width="16" height="2.08" fill="#a8a8a8"/>
<line x1="591.45" y1="277.02" x2="591.45" y2="276.6" stroke="#000" stroke-width="1"/>
<line x1="587.15" y1="276.6" x2="595.75" y2="276.6" stroke="#000" stroke-width="1.1"/>
<line x1="471.6" y1="191.8" x2="471.6" y2="279.6" stroke="#000" stroke-width="1"/>
<line x1="471.1" y1="279.1" x2="602.3" y2="279.1" stroke="#000" stroke-width="1"/>
<line x1="469.2" y1="279.1" x2="471.6" y2="279.1" stroke="#000" stroke-width="0.9"/>
<text x="468.3" y="281.4" font-size="6.4" font-weight="bold" text-anchor="end" fill="#000">0</text>
<line x1="469.2" y1="261.74" x2="471.6" y2="261.74" stroke="#000" stroke-width="0.9"/>
<text x="468.3" y="264.04" font-size="6.4" font-weight="bold" text-anchor="end" fill="#000">5</text>
<line x1="469.2" y1="244.38" x2="471.6" y2="244.38" stroke="#000" stroke-width="0.9"/>
<text x="468.3" y="246.68" font-size="6.4" font-weight="bold" text-anchor="end" fill="#000">10</text>
<line x1="469.2" y1="227.02" x2="471.6" y2="227.02" stroke="#000" stroke-width="0.9"/>
<text x="468.3" y="229.32" font-size="6.4" font-weight="bold" text-anchor="end" fill="#000">15</text>
<line x1="469.2" y1="209.66" x2="471.6" y2="209.66" stroke="#000" stroke-width="0.9"/>
<text x="468.3" y="211.96" font-size="6.4" font-weight="bold" text-anchor="end" fill="#000">20</text>
<line x1="469.2" y1="192.3" x2="471.6" y2="192.3" stroke="#000" stroke-width="0.9"/>
<text x="468.3" y="194.6" font-size="6.4" font-weight="bold" text-anchor="end" fill="#000">25</text>
<line x1="482.2" y1="279.1" x2="482.2" y2="281.7" stroke="#000" stroke-width="0.9"/>
<text x="0" y="0" transform="translate(482.8,286.5) rotate(-45)" font-size="6.3" font-weight="bold" text-anchor="end" fill="#000">PBMC</text>
<line x1="504.05" y1="279.1" x2="504.05" y2="281.7" stroke="#000" stroke-width="0.9"/>
<text x="0" y="0" transform="translate(504.65,286.5) rotate(-45)" font-size="6.3" font-weight="bold" text-anchor="end" fill="#000">Blank</text>
<line x1="525.9" y1="279.1" x2="525.9" y2="281.7" stroke="#000" stroke-width="0.9"/>
<text x="0" y="0" transform="translate(526.5,286.5) rotate(-45)" font-size="6.3" font-weight="bold" text-anchor="end" fill="#000">Adtrack</text>
<line x1="547.75" y1="279.1" x2="547.75" y2="281.7" stroke="#000" stroke-width="0.9"/>
<text x="0" y="0" transform="translate(548.35,286.5) rotate(-45)" font-size="6.3" font-weight="bold" text-anchor="end" fill="#000">AdCD3-HAC</text>
<line x1="569.6" y1="279.1" x2="569.6" y2="281.7" stroke="#000" stroke-width="0.9"/>
<text x="0" y="0" transform="translate(570.2,286.5) rotate(-45)" font-size="6.3" font-weight="bold" text-anchor="end" fill="#000">AdCD3scfv</text>
<line x1="591.45" y1="279.1" x2="591.45" y2="281.7" stroke="#000" stroke-width="0.9"/>
<text x="0" y="0" transform="translate(592.05,286.5) rotate(-45)" font-size="6.3" font-weight="bold" text-anchor="end" fill="#000">AdHAC</text>
<text x="0" y="0" transform="translate(457.3,235.9) rotate(-90)" font-size="7.15" font-weight="bold" text-anchor="middle" fill="#000">IFN-gamma (ng/ml)</text>
<rect x="637.8" y="278.05" width="16" height="1.05" fill="#000"/>
<line x1="645.8" y1="278.05" x2="645.8" y2="277.53" stroke="#000" stroke-width="1"/>
<line x1="641.5" y1="277.53" x2="650.1" y2="277.53" stroke="#000" stroke-width="1.1"/>
<rect x="659.76" y="277.7" width="16" height="1.4" fill="#a8a8a8"/>
<line x1="667.76" y1="277.7" x2="667.76" y2="277.18" stroke="#000" stroke-width="1"/>
<line x1="663.46" y1="277.18" x2="672.06" y2="277.18" stroke="#000" stroke-width="1.1"/>
<rect x="681.72" y="277.88" width="16" height="1.22" fill="#8a8a8a"/>
<line x1="689.72" y1="277.88" x2="689.72" y2="277.36" stroke="#000" stroke-width="1"/>
<line x1="685.42" y1="277.36" x2="694.02" y2="277.36" stroke="#000" stroke-width="1.1"/>
<rect x="703.68" y="270.03" width="16" height="9.07" fill="#d8d8d8"/>
<line x1="711.68" y1="270.03" x2="711.68" y2="269.16" stroke="#000" stroke-width="1"/>
<line x1="707.38" y1="269.16" x2="715.98" y2="269.16" stroke="#000" stroke-width="1.1"/>
<text x="711.68" y="267.26" font-size="7" text-anchor="middle" fill="#333">**</text>
<rect x="725.64" y="275.96" width="16" height="3.14" fill="#666"/>
<line x1="733.64" y1="275.96" x2="733.64" y2="275.26" stroke="#000" stroke-width="1"/>
<line x1="729.34" y1="275.26" x2="737.94" y2="275.26" stroke="#000" stroke-width="1.1"/>
<rect x="747.6" y="276.31" width="16" height="2.79" fill="#a8a8a8"/>
<line x1="755.6" y1="276.31" x2="755.6" y2="275.96" stroke="#000" stroke-width="1"/>
<line x1="751.3" y1="275.96" x2="759.9" y2="275.96" stroke="#000" stroke-width="1.1"/>
<line x1="634.8" y1="191.4" x2="634.8" y2="279.6" stroke="#000" stroke-width="1"/>
<line x1="634.3" y1="279.1" x2="766.5" y2="279.1" stroke="#000" stroke-width="1"/>
<line x1="632.4" y1="279.1" x2="634.8" y2="279.1" stroke="#000" stroke-width="0.9"/>
<text x="631.5" y="281.4" font-size="6.4" font-weight="bold" text-anchor="end" fill="#000">0</text>
<line x1="632.4" y1="261.66" x2="634.8" y2="261.66" stroke="#000" stroke-width="0.9"/>
<text x="631.5" y="263.96" font-size="6.4" font-weight="bold" text-anchor="end" fill="#000">500</text>
<line x1="632.4" y1="244.22" x2="634.8" y2="244.22" stroke="#000" stroke-width="0.9"/>
<text x="631.5" y="246.52" font-size="6.4" font-weight="bold" text-anchor="end" fill="#000">1000</text>
<line x1="632.4" y1="226.78" x2="634.8" y2="226.78" stroke="#000" stroke-width="0.9"/>
<text x="631.5" y="229.08" font-size="6.4" font-weight="bold" text-anchor="end" fill="#000">1500</text>
<line x1="632.4" y1="209.34" x2="634.8" y2="209.34" stroke="#000" stroke-width="0.9"/>
<text x="631.5" y="211.64" font-size="6.4" font-weight="bold" text-anchor="end" fill="#000">2000</text>
<line x1="632.4" y1="191.9" x2="634.8" y2="191.9" stroke="#000" stroke-width="0.9"/>
<text x="631.5" y="194.2" font-size="6.4" font-weight="bold" text-anchor="end" fill="#000">2500</text>
<line x1="645.8" y1="279.1" x2="645.8" y2="281.7" stroke="#000" stroke-width="0.9"/>
<text x="0" y="0" transform="translate(646.4,286.5) rotate(-45)" font-size="6.3" font-weight="bold" text-anchor="end" fill="#000">PBMC</text>
<line x1="667.76" y1="279.1" x2="667.76" y2="281.7" stroke="#000" stroke-width="0.9"/>
<text x="0" y="0" transform="translate(668.36,286.5) rotate(-45)" font-size="6.3" font-weight="bold" text-anchor="end" fill="#000">Blank</text>
<line x1="689.72" y1="279.1" x2="689.72" y2="281.7" stroke="#000" stroke-width="0.9"/>
<text x="0" y="0" transform="translate(690.32,286.5) rotate(-45)" font-size="6.3" font-weight="bold" text-anchor="end" fill="#000">Adtrack</text>
<line x1="711.68" y1="279.1" x2="711.68" y2="281.7" stroke="#000" stroke-width="0.9"/>
<text x="0" y="0" transform="translate(712.28,286.5) rotate(-45)" font-size="6.3" font-weight="bold" text-anchor="end" fill="#000">AdCD3-HAC</text>
<line x1="733.64" y1="279.1" x2="733.64" y2="281.7" stroke="#000" stroke-width="0.9"/>
<text x="0" y="0" transform="translate(734.24,286.5) rotate(-45)" font-size="6.3" font-weight="bold" text-anchor="end" fill="#000">AdCD3scfv</text>
<line x1="755.6" y1="279.1" x2="755.6" y2="281.7" stroke="#000" stroke-width="0.9"/>
<text x="0" y="0" transform="translate(756.2,286.5) rotate(-45)" font-size="6.3" font-weight="bold" text-anchor="end" fill="#000">AdHAC</text>
<text x="0" y="0" transform="translate(617.2,235.7) rotate(-90)" font-size="7.15" font-weight="bold" text-anchor="middle" fill="#000">TNF- alpha (pg/ml)</text>
</g>
<g id="panel-c">
<text x="0.3" y="338.5" font-size="18.8" font-weight="bold" fill="#000">c</text>
<rect x="57.45" y="429.48" width="8.4" height="9.62" fill="#000"/>
<line x1="61.65" y1="429.48" x2="61.65" y2="428.71" stroke="#000" stroke-width="1.2"/>
<line x1="59.05" y1="428.71" x2="64.25" y2="428.71" stroke="#000" stroke-width="1.2"/>
<rect x="68.15" y="430.44" width="8.4" height="8.66" fill="#a0a0a0"/>
<line x1="72.35" y1="430.44" x2="72.35" y2="428.52" stroke="#000" stroke-width="1.2"/>
<line x1="69.75" y1="428.52" x2="74.95" y2="428.52" stroke="#000" stroke-width="1.2"/>
<line x1="67" y1="439.1" x2="67" y2="442.1" stroke="#000" stroke-width="1"/>
<text x="0" y="0" transform="translate(68,447.3) rotate(-45)" font-size="7.25" font-weight="bold" text-anchor="end" fill="#000">Blank</text>
<rect x="86.25" y="429" width="8.4" height="10.1" fill="#000"/>
<line x1="90.45" y1="429" x2="90.45" y2="426.59" stroke="#000" stroke-width="1.2"/>
<line x1="87.85" y1="426.59" x2="93.05" y2="426.59" stroke="#000" stroke-width="1.2"/>
<rect x="96.95" y="429.48" width="8.4" height="9.62" fill="#a0a0a0"/>
<line x1="101.15" y1="429.48" x2="101.15" y2="426.98" stroke="#000" stroke-width="1.2"/>
<line x1="98.55" y1="426.98" x2="103.75" y2="426.98" stroke="#000" stroke-width="1.2"/>
<line x1="95.8" y1="439.1" x2="95.8" y2="442.1" stroke="#000" stroke-width="1"/>
<text x="0" y="0" transform="translate(96.8,447.3) rotate(-45)" font-size="7.25" font-weight="bold" text-anchor="end" fill="#000">Adtrack</text>
<rect x="115.05" y="415.05" width="8.4" height="24.05" fill="#000"/>
<line x1="119.25" y1="415.05" x2="119.25" y2="408.99" stroke="#000" stroke-width="1.2"/>
<line x1="116.65" y1="408.99" x2="121.85" y2="408.99" stroke="#000" stroke-width="1.2"/>
<text x="117.75" y="407.09" font-size="8" text-anchor="middle" fill="#333">**</text>
<rect x="125.75" y="407.35" width="8.4" height="31.75" fill="#a0a0a0"/>
<line x1="129.95" y1="407.35" x2="129.95" y2="402.93" stroke="#000" stroke-width="1.2"/>
<line x1="127.35" y1="402.93" x2="132.55" y2="402.93" stroke="#000" stroke-width="1.2"/>
<text x="129.95" y="401.03" font-size="8" text-anchor="middle" fill="#333">****</text>
<line x1="124.6" y1="439.1" x2="124.6" y2="442.1" stroke="#000" stroke-width="1"/>
<text x="0" y="0" transform="translate(125.6,447.3) rotate(-45)" font-size="7.25" font-weight="bold" text-anchor="end" fill="#000">AdCD3scfv</text>
<rect x="143.85" y="424.19" width="8.4" height="14.91" fill="#000"/>
<line x1="148.05" y1="424.19" x2="148.05" y2="418.8" stroke="#000" stroke-width="1.2"/>
<line x1="145.45" y1="418.8" x2="150.65" y2="418.8" stroke="#000" stroke-width="1.2"/>
<rect x="154.55" y="422.26" width="8.4" height="16.84" fill="#a0a0a0"/>
<line x1="158.75" y1="422.26" x2="158.75" y2="417.26" stroke="#000" stroke-width="1.2"/>
<line x1="156.15" y1="417.26" x2="161.35" y2="417.26" stroke="#000" stroke-width="1.2"/>
<line x1="153.4" y1="439.1" x2="153.4" y2="442.1" stroke="#000" stroke-width="1"/>
<text x="0" y="0" transform="translate(154.4,447.3) rotate(-45)" font-size="7.25" font-weight="bold" text-anchor="end" fill="#000">AdHAC</text>
<rect x="172.65" y="376.09" width="8.4" height="63.01" fill="#000"/>
<line x1="176.85" y1="376.09" x2="176.85" y2="370.7" stroke="#000" stroke-width="1.2"/>
<line x1="174.25" y1="370.7" x2="179.45" y2="370.7" stroke="#000" stroke-width="1.2"/>
<text x="176.85" y="366.1" font-size="8" text-anchor="middle" fill="#333">****</text>
<rect x="183.35" y="363.78" width="8.4" height="75.32" fill="#a0a0a0"/>
<line x1="187.55" y1="363.78" x2="187.55" y2="359.35" stroke="#000" stroke-width="1.2"/>
<line x1="184.95" y1="359.35" x2="190.15" y2="359.35" stroke="#000" stroke-width="1.2"/>
<text x="187.55" y="357.45" font-size="8" text-anchor="middle" fill="#333">****</text>
<line x1="182.2" y1="439.1" x2="182.2" y2="442.1" stroke="#000" stroke-width="1"/>
<text x="0" y="0" transform="translate(183.2,447.3) rotate(-45)" font-size="7.25" font-weight="bold" text-anchor="end" fill="#000">AdCD3-HAC</text>
<line x1="51.3" y1="342.4" x2="51.3" y2="439.6" stroke="#000" stroke-width="1.1"/>
<line x1="50.8" y1="439.1" x2="200.5" y2="439.1" stroke="#000" stroke-width="1.1"/>
<line x1="48.7" y1="439.1" x2="51.3" y2="439.1" stroke="#000" stroke-width="1"/>
<text x="48.3" y="441.7" font-size="7.3" font-weight="bold" text-anchor="end" fill="#000">0</text>
<line x1="48.7" y1="419.86" x2="51.3" y2="419.86" stroke="#000" stroke-width="1"/>
<text x="48.3" y="422.46" font-size="7.3" font-weight="bold" text-anchor="end" fill="#000">20</text>
<line x1="48.7" y1="400.62" x2="51.3" y2="400.62" stroke="#000" stroke-width="1"/>
<text x="48.3" y="403.22" font-size="7.3" font-weight="bold" text-anchor="end" fill="#000">40</text>
<line x1="48.7" y1="381.38" x2="51.3" y2="381.38" stroke="#000" stroke-width="1"/>
<text x="48.3" y="383.98" font-size="7.3" font-weight="bold" text-anchor="end" fill="#000">60</text>
<line x1="48.7" y1="362.14" x2="51.3" y2="362.14" stroke="#000" stroke-width="1"/>
<text x="48.3" y="364.74" font-size="7.3" font-weight="bold" text-anchor="end" fill="#000">80</text>
<line x1="48.7" y1="342.9" x2="51.3" y2="342.9" stroke="#000" stroke-width="1"/>
<text x="48.3" y="345.5" font-size="7.3" font-weight="bold" text-anchor="end" fill="#000">100</text>
<text x="0" y="0" transform="translate(31.6,390.3) rotate(-90)" font-size="8" font-weight="bold" text-anchor="middle" fill="#000">Percentage of actived T cell (%)</text>
<rect x="205.7" y="346.7" width="11.2" height="5.9" fill="#000"/>
<rect x="205.7" y="357.9" width="11.2" height="5.9" fill="#a0a0a0"/>
<text x="222.4" y="351.9" font-size="7.9" fill="#111">CD25</text>
<text x="222.4" y="363.1" font-size="7.9" fill="#111">CD69</text>
</g>
<g id="panel-d">
<text x="262.6" y="338.2" font-size="18.8" font-weight="bold" fill="#000">d</text>
<rect x="307.25" y="430.41" width="7.1" height="8.19" fill="#000"/>
<line x1="310.8" y1="430.41" x2="310.8" y2="429.46" stroke="#000" stroke-width="1.1"/>
<line x1="308.8" y1="429.46" x2="312.8" y2="429.46" stroke="#000" stroke-width="1.1"/>
<rect x="315.6" y="430.41" width="7.1" height="8.19" fill="#a0a0a0"/>
<line x1="319.15" y1="430.41" x2="319.15" y2="429.27" stroke="#000" stroke-width="1.1"/>
<line x1="317.15" y1="429.27" x2="321.15" y2="429.27" stroke="#000" stroke-width="1.1"/>
<rect x="323.95" y="390.24" width="7.1" height="48.36" fill="#808080"/>
<line x1="327.5" y1="390.24" x2="327.5" y2="387.76" stroke="#000" stroke-width="1.1"/>
<line x1="325.5" y1="387.76" x2="329.5" y2="387.76" stroke="#000" stroke-width="1.1"/>
<text x="327.5" y="386.56" font-size="8.4" text-anchor="middle" fill="#333">****</text>
<rect x="332.3" y="422.23" width="7.1" height="16.37" fill="#dcdcdc"/>
<line x1="335.85" y1="422.23" x2="335.85" y2="419.37" stroke="#000" stroke-width="1.1"/>
<line x1="333.85" y1="419.37" x2="337.85" y2="419.37" stroke="#000" stroke-width="1.1"/>
<text x="336.85" y="418.17" font-size="8.4" text-anchor="middle" fill="#333">**</text>
<rect x="340.65" y="427.94" width="7.1" height="10.66" fill="#606060"/>
<line x1="344.2" y1="427.94" x2="344.2" y2="426.99" stroke="#000" stroke-width="1.1"/>
<line x1="342.2" y1="426.99" x2="346.2" y2="426.99" stroke="#000" stroke-width="1.1"/>
<line x1="327.5" y1="438.6" x2="327.5" y2="441.6" stroke="#000" stroke-width="1"/>
<text x="0" y="0" transform="translate(329.9,446.6) rotate(-45)" font-size="7.6" font-weight="bold" text-anchor="end" fill="#000">24h</text>
<rect x="354.55" y="425.84" width="7.1" height="12.76" fill="#000"/>
<line x1="358.1" y1="425.84" x2="358.1" y2="422.04" stroke="#000" stroke-width="1.1"/>
<line x1="356.1" y1="422.04" x2="360.1" y2="422.04" stroke="#000" stroke-width="1.1"/>
<rect x="362.9" y="418.42" width="7.1" height="20.18" fill="#a0a0a0"/>
<line x1="366.45" y1="418.42" x2="366.45" y2="416.51" stroke="#000" stroke-width="1.1"/>
<line x1="364.45" y1="416.51" x2="368.45" y2="416.51" stroke="#000" stroke-width="1.1"/>
<rect x="371.25" y="371.58" width="7.1" height="67.02" fill="#808080"/>
<line x1="374.8" y1="371.58" x2="374.8" y2="365.49" stroke="#000" stroke-width="1.1"/>
<line x1="372.8" y1="365.49" x2="376.8" y2="365.49" stroke="#000" stroke-width="1.1"/>
<text x="374.8" y="364.29" font-size="8.4" text-anchor="middle" fill="#333">***</text>
<rect x="379.6" y="402.61" width="7.1" height="35.99" fill="#dcdcdc"/>
<line x1="383.15" y1="402.61" x2="383.15" y2="399.38" stroke="#000" stroke-width="1.1"/>
<line x1="381.15" y1="399.38" x2="385.15" y2="399.38" stroke="#000" stroke-width="1.1"/>
<text x="384.15" y="398.18" font-size="8.4" text-anchor="middle" fill="#333">**</text>
<rect x="387.95" y="419.56" width="7.1" height="19.04" fill="#606060"/>
<line x1="391.5" y1="419.56" x2="391.5" y2="415.37" stroke="#000" stroke-width="1.1"/>
<line x1="389.5" y1="415.37" x2="393.5" y2="415.37" stroke="#000" stroke-width="1.1"/>
<line x1="374.8" y1="438.6" x2="374.8" y2="441.6" stroke="#000" stroke-width="1"/>
<text x="0" y="0" transform="translate(377.2,446.6) rotate(-45)" font-size="7.6" font-weight="bold" text-anchor="end" fill="#000">48h</text>
<rect x="401.85" y="419.56" width="7.1" height="19.04" fill="#000"/>
<line x1="405.4" y1="419.56" x2="405.4" y2="414.61" stroke="#000" stroke-width="1.1"/>
<line x1="403.4" y1="414.61" x2="407.4" y2="414.61" stroke="#000" stroke-width="1.1"/>
<rect x="410.2" y="421.08" width="7.1" height="17.52" fill="#a0a0a0"/>
<line x1="413.75" y1="421.08" x2="413.75" y2="418.23" stroke="#000" stroke-width="1.1"/>
<line x1="411.75" y1="418.23" x2="415.75" y2="418.23" stroke="#000" stroke-width="1.1"/>
<rect x="418.55" y="360.16" width="7.1" height="78.44" fill="#808080"/>
<line x1="422.1" y1="360.16" x2="422.1" y2="359.58" stroke="#000" stroke-width="1.1"/>
<line x1="420.1" y1="359.58" x2="424.1" y2="359.58" stroke="#000" stroke-width="1.1"/>
<text x="422.1" y="356.78" font-size="8.4" text-anchor="middle" fill="#333">***</text>
<rect x="426.9" y="387.19" width="7.1" height="51.41" fill="#dcdcdc"/>
<line x1="430.45" y1="387.19" x2="430.45" y2="379.96" stroke="#000" stroke-width="1.1"/>
<line x1="428.45" y1="379.96" x2="432.45" y2="379.96" stroke="#000" stroke-width="1.1"/>
<text x="431.45" y="378.76" font-size="8.4" text-anchor="middle" fill="#333">**</text>
<rect x="435.25" y="408.14" width="7.1" height="30.46" fill="#606060"/>
<line x1="438.8" y1="408.14" x2="438.8" y2="403.76" stroke="#000" stroke-width="1.1"/>
<line x1="436.8" y1="403.76" x2="440.8" y2="403.76" stroke="#000" stroke-width="1.1"/>
<line x1="422.1" y1="438.6" x2="422.1" y2="441.6" stroke="#000" stroke-width="1"/>
<text x="0" y="0" transform="translate(424.5,446.6) rotate(-45)" font-size="7.6" font-weight="bold" text-anchor="end" fill="#000">72h</text>
<line x1="303.5" y1="342.9" x2="303.5" y2="439.1" stroke="#000" stroke-width="1.1"/>
<line x1="303" y1="438.6" x2="445.5" y2="438.6" stroke="#000" stroke-width="1.1"/>
<line x1="300.9" y1="438.6" x2="303.5" y2="438.6" stroke="#000" stroke-width="1"/>
<text x="300.3" y="441.2" font-size="7.3" font-weight="bold" text-anchor="end" fill="#000">0</text>
<line x1="300.9" y1="419.56" x2="303.5" y2="419.56" stroke="#000" stroke-width="1"/>
<text x="300.3" y="422.16" font-size="7.3" font-weight="bold" text-anchor="end" fill="#000">10</text>
<line x1="300.9" y1="400.52" x2="303.5" y2="400.52" stroke="#000" stroke-width="1"/>
<text x="300.3" y="403.12" font-size="7.3" font-weight="bold" text-anchor="end" fill="#000">20</text>
<line x1="300.9" y1="381.48" x2="303.5" y2="381.48" stroke="#000" stroke-width="1"/>
<text x="300.3" y="384.08" font-size="7.3" font-weight="bold" text-anchor="end" fill="#000">30</text>
<line x1="300.9" y1="362.44" x2="303.5" y2="362.44" stroke="#000" stroke-width="1"/>
<text x="300.3" y="365.04" font-size="7.3" font-weight="bold" text-anchor="end" fill="#000">40</text>
<line x1="300.9" y1="343.4" x2="303.5" y2="343.4" stroke="#000" stroke-width="1"/>
<text x="300.3" y="346" font-size="7.3" font-weight="bold" text-anchor="end" fill="#000">50</text>
<text x="0" y="0" transform="translate(278.4,391) rotate(-90)" font-size="8.15" text-anchor="middle" fill="#000" stroke="#000" stroke-width="0.3">% Proliferation of PBMC</text>
<rect x="454.3" y="347.6" width="11.4" height="5.8" fill="#000"/>
<text x="471" y="353.2" font-size="7.7" fill="#111">Blank</text>
<rect x="454.3" y="358.45" width="11.4" height="5.8" fill="#a0a0a0"/>
<text x="471" y="364.05" font-size="7.7" fill="#111">Adtrack</text>
<rect x="454.3" y="369.3" width="11.4" height="5.8" fill="#808080"/>
<text x="471" y="374.9" font-size="7.7" fill="#111">AdCD3-HAC</text>
<rect x="454.3" y="380.15" width="11.4" height="5.8" fill="#dcdcdc"/>
<text x="471" y="385.75" font-size="7.7" fill="#111">AdCD3scfv</text>
<rect x="454.3" y="391" width="11.4" height="5.8" fill="#606060"/>
<text x="471" y="396.6" font-size="7.7" fill="#111">AdHAC</text>
</g>
<g id="panel-e">
<text x="2.4" y="520.1" font-size="19.8" font-weight="bold" fill="#000">e</text>
<text x="96.6" y="517.7" font-size="10.6" text-anchor="middle" fill="#111">Blank</text>
<text x="181.7" y="517.7" font-size="10.6" text-anchor="middle" fill="#111">Adtrack</text>
<text x="274.6" y="517.7" font-size="10.6" text-anchor="middle" fill="#111">AdCD3-HAC</text>
<text x="360.7" y="517.7" font-size="10.6" text-anchor="middle" fill="#111">AdCD3scfv</text>
<text x="453.9" y="517.7" font-size="10.6" text-anchor="middle" fill="#111">AdHAC</text>
<text x="8.6" y="565.6" font-size="10.5" fill="#111">24 h</text>
<text x="8.6" y="667.6" font-size="10.5" fill="#111">48 h</text>
<text x="8.6" y="759.7" font-size="10.5" fill="#111">72 h</text>
<path d="M65.1 600.1L65.48 600.09L65.87 600.09L66.25 600.09L66.64 600.09L67.02 600.09L67.41 600.09L67.79 600.09L68.18 600.09L68.56 600.09L68.95 600.09L69.33 600.08L69.72 600.08L70.1 600.08L70.49 600.08L70.88 600.08L71.26 600.08L71.64 600.08L72.03 600.08L72.41 600.07L72.8 600.07L73.19 600.07L73.57 600.07L73.95 600.07L74.34 600.07L74.72 600.07L75.11 600.06L75.49 600.06L75.88 600.06L76.26 600.06L76.65 600.06L77.03 600.05L77.42 600.05L77.8 600.05L78.19 600.05L78.57 600.05L78.96 600.04L79.34 600.04L79.73 600.04L80.11 600.04L80.5 600.03L80.88 600.03L81.27 600.03L81.66 600.03L82.04 600.02L82.42 600.02L82.81 600.02L83.19 600.01L83.58 600.01L83.97 600.01L84.35 600L84.73 600L85.12 600L85.5 599.99L85.89 599.99L86.27 599.99L86.66 599.98L87.04 599.98L87.43 599.97L87.81 599.97L88.2 599.96L88.58 599.96L88.97 599.95L89.35 599.95L89.74 599.94L90.12 599.93L90.51 599.93L90.89 599.92L91.28 599.91L91.66 599.91L92.05 599.9L92.44 599.89L92.82 599.88L93.2 599.87L93.59 599.86L93.97 599.85L94.36 599.84L94.75 599.83L95.13 599.82L95.52 599.81L95.9 599.8L96.28 599.78L96.67 599.77L97.05 599.75L97.44 599.74L97.82 599.72L98.21 599.7L98.59 599.68L98.98 599.66L99.36 599.64L99.75 599.61L100.13 599.59L100.52 599.56L100.91 599.53L101.29 599.5L101.67 599.47L102.06 599.43L102.44 599.39L102.83 599.34L103.22 599.29L103.6 599.23L103.98 599.17L104.37 599.1L104.75 599.01L105.14 598.91L105.53 598.8L105.91 598.65L106.29 598.49L106.68 598.28L107.06 598.04L107.45 597.76L107.83 597.44L108.22 597.09L108.6 596.71L108.99 596.36L109.38 596.09L109.76 595.91L110.14 595.81L110.53 595.73L110.91 595.6L111.3 595.37L111.69 595.01L112.07 594.47L112.45 593.7L112.84 592.65L113.22 591.25L113.61 589.41L113.99 587.05L114.38 584.09L114.76 580.45L115.15 576.07L115.53 570.95L115.92 565.15L116.31 558.93L116.69 552.86L117.07 547.93L117.46 545.36L117.84 545.95L118.23 549.52L118.61 555.01L119 561.24L119.38 567.37L119.77 572.95L120.16 577.83L120.54 581.96L120.92 585.38L121.31 588.15L121.69 590.36L122.08 592.1L122.47 593.45L122.85 594.49L123.23 595.28L123.62 595.87L124 596.3L124.39 596.58L124.78 596.7L125.16 596.61L125.54 596.23L125.93 595.39L126.31 593.8L126.7 590.99" fill="none" stroke="#959595" stroke-width="0.5" stroke-dasharray="1.2 0.5"/>
<path d="M65.1 600.12L65.48 600.12L65.87 600.12L66.25 600.12L66.64 600.12L67.02 600.12L67.41 600.11L67.79 600.11L68.18 600.11L68.56 600.11L68.95 600.11L69.33 600.11L69.72 600.11L70.1 600.11L70.49 600.11L70.88 600.11L71.26 600.11L71.64 600.11L72.03 600.11L72.41 600.11L72.8 600.1L73.19 600.1L73.57 600.1L73.95 600.1L74.34 600.1L74.72 600.1L75.11 600.1L75.49 600.1L75.88 600.1L76.26 600.1L76.65 600.09L77.03 600.09L77.42 600.09L77.8 600.09L78.19 600.09L78.57 600.09L78.96 600.09L79.34 600.09L79.73 600.08L80.11 600.08L80.5 600.08L80.88 600.08L81.27 600.08L81.66 600.08L82.04 600.07L82.42 600.07L82.81 600.07L83.19 600.07L83.58 600.07L83.97 600.07L84.35 600.06L84.73 600.06L85.12 600.06L85.5 600.06L85.89 600.05L86.27 600.05L86.66 600.05L87.04 600.05L87.43 600.04L87.81 600.04L88.2 600.04L88.58 600.03L88.97 600.03L89.35 600.03L89.74 600.02L90.12 600.02L90.51 600.02L90.89 600.01L91.28 600.01L91.66 600L92.05 600L92.44 600L92.82 599.99L93.2 599.98L93.59 599.98L93.97 599.97L94.36 599.97L94.75 599.96L95.13 599.95L95.52 599.95L95.9 599.94L96.28 599.93L96.67 599.92L97.05 599.92L97.44 599.91L97.82 599.9L98.21 599.89L98.59 599.88L98.98 599.87L99.36 599.85L99.75 599.84L100.13 599.83L100.52 599.81L100.91 599.8L101.29 599.78L101.67 599.76L102.06 599.74L102.44 599.72L102.83 599.7L103.22 599.68L103.6 599.65L103.98 599.62L104.37 599.59L104.75 599.56L105.14 599.52L105.53 599.48L105.91 599.44L106.29 599.39L106.68 599.34L107.06 599.28L107.45 599.22L107.83 599.15L108.22 599.07L108.6 598.98L108.99 598.88L109.38 598.76L109.76 598.63L110.14 598.49L110.53 598.31L110.91 598.11L111.3 597.88L111.69 597.6L112.07 597.26L112.45 596.84L112.84 596.3L113.22 595.59L113.61 594.63L113.99 593.31L114.38 591.51L114.76 589.05L115.15 585.76L115.53 581.47L115.92 576.05L116.31 569.45L116.69 561.83L117.07 553.87L117.46 547.18L117.84 544.07L118.23 546.02L118.61 552.07L119 559.91L119.38 567.7L119.77 574.58L120.16 580.28L120.54 584.83L120.92 588.34L121.31 590.98L121.69 592.92L122.08 594.34L122.47 595.36L122.85 596.11L123.23 596.66L123.62 597.06L124 597.34L124.39 597.5L124.78 597.52L125.16 597.36L125.54 596.91L125.93 596.02L126.31 594.39L126.7 591.53" fill="none" stroke="#828282" stroke-width="0.5"/>
<rect x="65.1" y="539.4" width="61.6" height="61" fill="none" stroke="#5a5a5a" stroke-width="0.65"/>
<path d="M66.33 600.4v1.1M68.18 600.4v1.1M70.03 600.4v1.1M71.88 600.4v1.1M73.72 600.4v1.1M75.57 600.4v1.1M77.42 600.4v1.1M78.96 600.4v1.1M84.81 600.4v1.1M87.89 600.4v1.1M89.74 600.4v1.1M92.51 600.4v1.1M98.36 600.4v1.1M101.44 600.4v1.1M103.29 600.4v1.1M106.06 600.4v1.1M111.92 600.4v1.1M115 600.4v1.1M116.84 600.4v1.1M119.62 600.4v1.1M123.62 600.4v1.1M125.47 600.4v1.1" stroke="#777" stroke-width="0.4" fill="none"/>
<line x1="65.1" y1="601.1" x2="78.1" y2="601.1" stroke="#888" stroke-width="0.7" stroke-dasharray="0.6 0.5"/>
<text x="70.5" y="608.6" font-size="3" text-anchor="middle" fill="#222">0</text>
<text x="78.56" y="608.6" font-size="3" text-anchor="middle" fill="#222">10<tspan dy="-1.2" font-size="2.2">2</tspan></text>
<text x="92.11" y="608.6" font-size="3" text-anchor="middle" fill="#222">10<tspan dy="-1.2" font-size="2.2">3</tspan></text>
<text x="105.66" y="608.6" font-size="3" text-anchor="middle" fill="#222">10<tspan dy="-1.2" font-size="2.2">4</tspan></text>
<text x="119.22" y="608.6" font-size="3" text-anchor="middle" fill="#222">10<tspan dy="-1.2" font-size="2.2">5</tspan></text>
<text x="95.4" y="615.4" font-size="2.7" text-anchor="middle" fill="#222">APC-A</text>
<text x="0" y="0" transform="translate(52.7,569.9) rotate(-90)" font-size="2.7" text-anchor="middle" fill="#222">Count</text>
<text x="62.1" y="601" font-size="2.7" text-anchor="end" fill="#222">0</text>
<path d="M153.4 600.1L153.78 600.1L154.17 600.09L154.56 600.09L154.94 600.09L155.33 600.09L155.71 600.09L156.09 600.09L156.48 600.09L156.87 600.09L157.25 600.09L157.64 600.09L158.02 600.08L158.41 600.08L158.79 600.08L159.18 600.08L159.56 600.08L159.94 600.08L160.33 600.08L160.72 600.08L161.1 600.07L161.49 600.07L161.87 600.07L162.25 600.07L162.64 600.07L163.03 600.07L163.41 600.07L163.8 600.06L164.18 600.06L164.56 600.06L164.95 600.06L165.34 600.06L165.72 600.05L166.11 600.05L166.49 600.05L166.88 600.05L167.26 600.05L167.65 600.04L168.03 600.04L168.42 600.04L168.8 600.04L169.19 600.03L169.57 600.03L169.96 600.03L170.34 600.03L170.72 600.02L171.11 600.02L171.5 600.02L171.88 600.01L172.27 600.01L172.65 600.01L173.03 600L173.42 600L173.81 600L174.19 599.99L174.58 599.99L174.96 599.98L175.34 599.98L175.73 599.98L176.12 599.97L176.5 599.97L176.88 599.96L177.27 599.96L177.66 599.95L178.04 599.94L178.43 599.94L178.81 599.93L179.19 599.93L179.58 599.92L179.97 599.91L180.35 599.9L180.74 599.9L181.12 599.89L181.5 599.88L181.89 599.87L182.28 599.86L182.66 599.85L183.05 599.84L183.43 599.83L183.81 599.82L184.2 599.8L184.59 599.79L184.97 599.78L185.36 599.76L185.74 599.75L186.12 599.73L186.51 599.71L186.9 599.7L187.28 599.68L187.67 599.65L188.05 599.63L188.44 599.61L188.82 599.58L189.21 599.55L189.59 599.52L189.98 599.49L190.36 599.46L190.75 599.42L191.13 599.37L191.52 599.33L191.9 599.28L192.28 599.22L192.67 599.15L193.06 599.07L193.44 598.98L193.83 598.88L194.21 598.75L194.59 598.6L194.98 598.42L195.37 598.21L195.75 597.96L196.13 597.68L196.52 597.37L196.91 597.05L197.29 596.74L197.68 596.49L198.06 596.32L198.44 596.21L198.83 596.11L199.22 595.98L199.6 595.76L199.99 595.42L200.37 594.93L200.75 594.25L201.14 593.31L201.53 592.06L201.91 590.42L202.3 588.31L202.68 585.63L203.06 582.32L203.45 578.3L203.84 573.53L204.22 568.03L204.61 561.96L204.99 555.72L205.38 550.09L205.76 546.24L206.15 545.27L206.53 547.5L206.92 552.22L207.3 558.23L207.69 564.48L208.07 570.36L208.46 575.59L208.84 580.07L209.23 583.83L209.61 586.9L210 589.37L210.38 591.32L210.77 592.85L211.15 594.02L211.53 594.92L211.92 595.59L212.31 596.08L212.69 596.4L213.08 596.55L213.46 596.49L213.84 596.12L214.23 595.29L214.62 593.72L215 590.92" fill="none" stroke="#959595" stroke-width="0.5" stroke-dasharray="1.2 0.5"/>
<path d="M153.4 600.12L153.78 600.12L154.17 600.12L154.56 600.12L154.94 600.12L155.33 600.12L155.71 600.12L156.09 600.12L156.48 600.11L156.87 600.11L157.25 600.11L157.64 600.11L158.02 600.11L158.41 600.11L158.79 600.11L159.18 600.11L159.56 600.11L159.94 600.11L160.33 600.11L160.72 600.11L161.1 600.11L161.49 600.1L161.87 600.1L162.25 600.1L162.64 600.1L163.03 600.1L163.41 600.1L163.8 600.1L164.18 600.1L164.56 600.1L164.95 600.1L165.34 600.09L165.72 600.09L166.11 600.09L166.49 600.09L166.88 600.09L167.26 600.09L167.65 600.09L168.03 600.09L168.42 600.08L168.8 600.08L169.19 600.08L169.57 600.08L169.96 600.08L170.34 600.08L170.72 600.07L171.11 600.07L171.5 600.07L171.88 600.07L172.27 600.07L172.65 600.07L173.03 600.06L173.42 600.06L173.81 600.06L174.19 600.06L174.58 600.05L174.96 600.05L175.34 600.05L175.73 600.05L176.12 600.04L176.5 600.04L176.88 600.04L177.27 600.03L177.66 600.03L178.04 600.03L178.43 600.02L178.81 600.02L179.19 600.02L179.58 600.01L179.97 600.01L180.35 600L180.74 600L181.12 599.99L181.5 599.99L181.89 599.98L182.28 599.98L182.66 599.97L183.05 599.97L183.43 599.96L183.81 599.95L184.2 599.95L184.59 599.94L184.97 599.93L185.36 599.92L185.74 599.91L186.12 599.91L186.51 599.9L186.9 599.89L187.28 599.87L187.67 599.86L188.05 599.85L188.44 599.84L188.82 599.82L189.21 599.81L189.59 599.79L189.98 599.77L190.36 599.76L190.75 599.74L191.13 599.72L191.52 599.69L191.9 599.67L192.28 599.64L192.67 599.61L193.06 599.58L193.44 599.55L193.83 599.51L194.21 599.47L194.59 599.42L194.98 599.37L195.37 599.32L195.75 599.26L196.13 599.19L196.52 599.12L196.91 599.03L197.29 598.94L197.68 598.83L198.06 598.71L198.44 598.58L198.83 598.42L199.22 598.24L199.6 598.02L199.99 597.77L200.37 597.46L200.75 597.09L201.14 596.62L201.53 596L201.91 595.18L202.3 594.06L202.68 592.53L203.06 590.43L203.45 587.59L203.84 583.85L204.22 579.04L204.61 573.06L204.99 565.96L205.38 558.12L205.76 550.63L206.15 545.57L206.53 545.06L206.92 549.35L207.3 556.54L207.69 564.43L208.07 571.73L208.46 577.93L208.84 582.97L209.23 586.92L209.61 589.92L210 592.15L210.38 593.78L210.77 594.96L211.15 595.82L211.53 596.44L211.92 596.89L212.31 597.2L212.69 597.39L213.08 597.43L213.46 597.28L213.84 596.85L214.23 595.96L214.62 594.34L215 591.49" fill="none" stroke="#828282" stroke-width="0.5"/>
<rect x="153.4" y="539.4" width="61.6" height="61" fill="none" stroke="#5a5a5a" stroke-width="0.65"/>
<path d="M154.63 600.4v1.1M156.48 600.4v1.1M158.33 600.4v1.1M160.18 600.4v1.1M162.02 600.4v1.1M163.87 600.4v1.1M165.72 600.4v1.1M167.26 600.4v1.1M173.11 600.4v1.1M176.19 600.4v1.1M178.04 600.4v1.1M180.81 600.4v1.1M186.66 600.4v1.1M189.74 600.4v1.1M191.59 600.4v1.1M194.36 600.4v1.1M200.22 600.4v1.1M203.3 600.4v1.1M205.14 600.4v1.1M207.92 600.4v1.1M211.92 600.4v1.1M213.77 600.4v1.1" stroke="#777" stroke-width="0.4" fill="none"/>
<line x1="153.4" y1="601.1" x2="166.4" y2="601.1" stroke="#888" stroke-width="0.7" stroke-dasharray="0.6 0.5"/>
<text x="158.8" y="608.6" font-size="3" text-anchor="middle" fill="#222">0</text>
<text x="166.86" y="608.6" font-size="3" text-anchor="middle" fill="#222">10<tspan dy="-1.2" font-size="2.2">2</tspan></text>
<text x="180.41" y="608.6" font-size="3" text-anchor="middle" fill="#222">10<tspan dy="-1.2" font-size="2.2">3</tspan></text>
<text x="193.96" y="608.6" font-size="3" text-anchor="middle" fill="#222">10<tspan dy="-1.2" font-size="2.2">4</tspan></text>
<text x="207.52" y="608.6" font-size="3" text-anchor="middle" fill="#222">10<tspan dy="-1.2" font-size="2.2">5</tspan></text>
<text x="183.7" y="615.4" font-size="2.7" text-anchor="middle" fill="#222">APC-A</text>
<text x="0" y="0" transform="translate(141,569.9) rotate(-90)" font-size="2.7" text-anchor="middle" fill="#222">Count</text>
<text x="150.4" y="601" font-size="2.7" text-anchor="end" fill="#222">0</text>
<path d="M242.1 600.08L242.48 600.08L242.87 600.08L243.25 600.08L243.64 600.08L244.03 600.08L244.41 600.07L244.79 600.07L245.18 600.07L245.56 600.07L245.95 600.07L246.34 600.07L246.72 600.06L247.1 600.06L247.49 600.06L247.88 600.06L248.26 600.06L248.64 600.05L249.03 600.05L249.41 600.05L249.8 600.05L250.19 600.05L250.57 600.04L250.95 600.04L251.34 600.04L251.72 600.04L252.11 600.03L252.5 600.03L252.88 600.03L253.26 600.02L253.65 600.02L254.03 600.02L254.42 600.01L254.81 600.01L255.19 600.01L255.57 600L255.96 600L256.34 599.99L256.73 599.99L257.12 599.98L257.5 599.98L257.88 599.97L258.27 599.97L258.65 599.96L259.04 599.96L259.43 599.95L259.81 599.94L260.19 599.94L260.58 599.93L260.96 599.92L261.35 599.91L261.74 599.9L262.12 599.89L262.5 599.88L262.89 599.87L263.27 599.86L263.66 599.85L264.05 599.83L264.43 599.82L264.81 599.8L265.2 599.79L265.58 599.77L265.97 599.75L266.36 599.73L266.74 599.71L267.12 599.68L267.51 599.65L267.89 599.62L268.28 599.59L268.67 599.55L269.05 599.51L269.44 599.46L269.82 599.4L270.2 599.34L270.59 599.26L270.98 599.16L271.36 599.05L271.75 598.91L272.13 598.74L272.51 598.52L272.9 598.27L273.28 597.95L273.67 597.58L274.06 597.13L274.44 596.6L274.82 595.99L275.21 595.29L275.59 594.51L275.98 593.67L276.37 592.79L276.75 591.94L277.13 591.23L277.52 590.75L277.9 590.63L278.29 590.87L278.68 591.42L279.06 592.17L279.44 593L279.83 593.84L280.21 594.62L280.6 595.33L280.99 595.96L281.37 596.5L281.75 596.95L282.14 597.32L282.52 597.63L282.91 597.87L283.3 598.05L283.68 598.19L284.06 598.28L284.45 598.35L284.83 598.38L285.22 598.39L285.61 598.37L285.99 598.34L286.38 598.28L286.76 598.21L287.14 598.11L287.53 597.99L287.92 597.85L288.3 597.67L288.69 597.47L289.07 597.21L289.45 596.9L289.84 596.51L290.23 596.01L290.61 595.36L291 594.5L291.38 593.35L291.76 591.81L292.15 589.76L292.53 587.08L292.92 583.63L293.31 579.3L293.69 574.03L294.07 567.81L294.46 560.87L294.84 553.85L295.23 548.05L295.62 545.22L296 546.48L296.38 551.31L296.77 558.05L297.15 565.14L297.54 571.69L297.93 577.37L298.31 582.07L298.69 585.87L299.08 588.85L299.46 591.14L299.85 592.87L300.24 594.15L300.62 595.08L301 595.75L301.39 596.19L301.77 596.41L302.16 596.4L302.55 596.08L302.93 595.28L303.31 593.73L303.7 590.94" fill="none" stroke="#959595" stroke-width="0.5" stroke-dasharray="1.2 0.5"/>
<path d="M242.1 600.12L242.48 600.12L242.87 600.12L243.25 600.12L243.64 600.12L244.03 600.12L244.41 600.12L244.79 600.12L245.18 600.11L245.56 600.11L245.95 600.11L246.34 600.11L246.72 600.11L247.1 600.11L247.49 600.11L247.88 600.11L248.26 600.11L248.64 600.11L249.03 600.11L249.41 600.11L249.8 600.11L250.19 600.1L250.57 600.1L250.95 600.1L251.34 600.1L251.72 600.1L252.11 600.1L252.5 600.1L252.88 600.1L253.26 600.1L253.65 600.1L254.03 600.1L254.42 600.09L254.81 600.09L255.19 600.09L255.57 600.09L255.96 600.09L256.34 600.09L256.73 600.09L257.12 600.09L257.5 600.08L257.88 600.08L258.27 600.08L258.65 600.08L259.04 600.08L259.43 600.08L259.81 600.07L260.19 600.07L260.58 600.07L260.96 600.07L261.35 600.07L261.74 600.06L262.12 600.06L262.5 600.06L262.89 600.06L263.27 600.06L263.66 600.05L264.05 600.05L264.43 600.05L264.81 600.05L265.2 600.04L265.58 600.04L265.97 600.04L266.36 600.03L266.74 600.03L267.12 600.03L267.51 600.02L267.89 600.02L268.28 600.02L268.67 600.01L269.05 600.01L269.44 600L269.82 600L270.2 599.99L270.59 599.99L270.98 599.98L271.36 599.98L271.75 599.97L272.13 599.97L272.51 599.96L272.9 599.95L273.28 599.95L273.67 599.94L274.06 599.93L274.44 599.92L274.82 599.91L275.21 599.91L275.59 599.9L275.98 599.89L276.37 599.87L276.75 599.86L277.13 599.85L277.52 599.84L277.9 599.82L278.29 599.81L278.68 599.79L279.06 599.78L279.44 599.76L279.83 599.74L280.21 599.72L280.6 599.7L280.99 599.67L281.37 599.65L281.75 599.62L282.14 599.59L282.52 599.55L282.91 599.52L283.3 599.48L283.68 599.44L284.06 599.39L284.45 599.34L284.83 599.28L285.22 599.21L285.61 599.14L285.99 599.06L286.38 598.97L286.76 598.87L287.14 598.76L287.53 598.63L287.92 598.48L288.3 598.31L288.69 598.11L289.07 597.88L289.45 597.6L289.84 597.26L290.23 596.84L290.61 596.31L291 595.61L291.38 594.66L291.76 593.36L292.15 591.58L292.53 589.16L292.92 585.91L293.31 581.66L293.69 576.27L294.07 569.69L294.46 562.05L294.84 553.99L295.23 547.04L295.62 543.53L296 545.09L296.38 550.96L296.77 558.82L297.15 566.74L297.54 573.78L297.93 579.64L298.31 584.33L298.69 587.96L299.08 590.68L299.46 592.69L299.85 594.15L300.24 595.19L300.62 595.94L301 596.45L301.39 596.78L301.77 596.93L302.16 596.86L302.55 596.49L302.93 595.65L303.31 594.07L303.7 591.25" fill="none" stroke="#828282" stroke-width="0.5"/>
<rect x="242.1" y="539.4" width="61.6" height="61" fill="none" stroke="#5a5a5a" stroke-width="0.65"/>
<path d="M243.33 600.4v1.1M245.18 600.4v1.1M247.03 600.4v1.1M248.88 600.4v1.1M250.72 600.4v1.1M252.57 600.4v1.1M254.42 600.4v1.1M255.96 600.4v1.1M261.81 600.4v1.1M264.89 600.4v1.1M266.74 600.4v1.1M269.51 600.4v1.1M275.36 600.4v1.1M278.44 600.4v1.1M280.29 600.4v1.1M283.06 600.4v1.1M288.92 600.4v1.1M292 600.4v1.1M293.84 600.4v1.1M296.62 600.4v1.1M300.62 600.4v1.1M302.47 600.4v1.1" stroke="#777" stroke-width="0.4" fill="none"/>
<line x1="242.1" y1="601.1" x2="255.1" y2="601.1" stroke="#888" stroke-width="0.7" stroke-dasharray="0.6 0.5"/>
<text x="247.5" y="608.6" font-size="3" text-anchor="middle" fill="#222">0</text>
<text x="255.56" y="608.6" font-size="3" text-anchor="middle" fill="#222">10<tspan dy="-1.2" font-size="2.2">2</tspan></text>
<text x="269.11" y="608.6" font-size="3" text-anchor="middle" fill="#222">10<tspan dy="-1.2" font-size="2.2">3</tspan></text>
<text x="282.66" y="608.6" font-size="3" text-anchor="middle" fill="#222">10<tspan dy="-1.2" font-size="2.2">4</tspan></text>
<text x="296.22" y="608.6" font-size="3" text-anchor="middle" fill="#222">10<tspan dy="-1.2" font-size="2.2">5</tspan></text>
<text x="272.4" y="615.4" font-size="2.7" text-anchor="middle" fill="#222">APC-A</text>
<text x="0" y="0" transform="translate(229.7,569.9) rotate(-90)" font-size="2.7" text-anchor="middle" fill="#222">Count</text>
<text x="239.1" y="601" font-size="2.7" text-anchor="end" fill="#222">0</text>
<path d="M330.7 600.1L331.08 600.09L331.47 600.09L331.85 600.09L332.24 600.09L332.62 600.09L333.01 600.09L333.39 600.09L333.78 600.09L334.16 600.09L334.55 600.08L334.94 600.08L335.32 600.08L335.7 600.08L336.09 600.08L336.47 600.08L336.86 600.08L337.25 600.08L337.63 600.07L338.01 600.07L338.4 600.07L338.78 600.07L339.17 600.07L339.56 600.07L339.94 600.06L340.32 600.06L340.71 600.06L341.09 600.06L341.48 600.06L341.87 600.05L342.25 600.05L342.63 600.05L343.02 600.05L343.4 600.04L343.79 600.04L344.18 600.04L344.56 600.03L344.94 600.03L345.33 600.03L345.71 600.03L346.1 600.02L346.49 600.02L346.87 600.01L347.25 600.01L347.64 600.01L348.02 600L348.41 600L348.8 599.99L349.18 599.99L349.56 599.98L349.95 599.98L350.33 599.97L350.72 599.97L351.11 599.96L351.49 599.95L351.88 599.95L352.26 599.94L352.64 599.93L353.03 599.92L353.41 599.91L353.8 599.9L354.19 599.89L354.57 599.88L354.95 599.87L355.34 599.85L355.72 599.84L356.11 599.82L356.5 599.8L356.88 599.78L357.26 599.76L357.65 599.73L358.03 599.69L358.42 599.65L358.81 599.6L359.19 599.54L359.57 599.47L359.96 599.38L360.34 599.27L360.73 599.15L361.12 599.01L361.5 598.84L361.88 598.65L362.27 598.44L362.65 598.2L363.04 597.96L363.43 597.72L363.81 597.5L364.19 597.35L364.58 597.28L364.96 597.31L365.35 597.43L365.74 597.6L366.12 597.8L366.5 598.01L366.89 598.2L367.27 598.37L367.66 598.52L368.04 598.64L368.43 598.74L368.81 598.81L369.2 598.86L369.58 598.89L369.97 598.9L370.36 598.89L370.74 598.87L371.12 598.84L371.51 598.79L371.89 598.72L372.28 598.65L372.66 598.55L373.05 598.45L373.44 598.32L373.82 598.18L374.2 598.01L374.59 597.81L374.97 597.58L375.36 597.31L375.75 596.97L376.13 596.56L376.51 596.04L376.9 595.38L377.28 594.5L377.67 593.35L378.06 591.84L378.44 589.85L378.82 587.28L379.21 584.01L379.59 579.95L379.98 575.02L380.37 569.23L380.75 562.7L381.13 555.91L381.52 549.82L381.9 545.92L382.29 545.54L382.68 548.82L383.06 554.6L383.44 561.35L383.83 567.98L384.21 573.95L384.6 579.06L384.99 583.29L385.37 586.71L385.75 589.42L386.14 591.51L386.52 593.12L386.91 594.33L387.29 595.26L387.68 595.96L388.06 596.5L388.45 596.92L388.83 597.24L389.22 597.49L389.61 597.66L389.99 597.74L390.38 597.7L390.76 597.49L391.14 597.01L391.53 596.08L391.91 594.43L392.3 591.55" fill="none" stroke="#959595" stroke-width="0.5" stroke-dasharray="1.2 0.5"/>
<path d="M330.7 600.12L331.08 600.12L331.47 600.11L331.85 600.11L332.24 600.11L332.62 600.11L333.01 600.11L333.39 600.11L333.78 600.11L334.16 600.11L334.55 600.11L334.94 600.11L335.32 600.11L335.7 600.11L336.09 600.11L336.47 600.11L336.86 600.1L337.25 600.1L337.63 600.1L338.01 600.1L338.4 600.1L338.78 600.1L339.17 600.1L339.56 600.1L339.94 600.1L340.32 600.1L340.71 600.09L341.09 600.09L341.48 600.09L341.87 600.09L342.25 600.09L342.63 600.09L343.02 600.09L343.4 600.09L343.79 600.08L344.18 600.08L344.56 600.08L344.94 600.08L345.33 600.08L345.71 600.08L346.1 600.07L346.49 600.07L346.87 600.07L347.25 600.07L347.64 600.07L348.02 600.07L348.41 600.06L348.8 600.06L349.18 600.06L349.56 600.06L349.95 600.05L350.33 600.05L350.72 600.05L351.11 600.05L351.49 600.04L351.88 600.04L352.26 600.04L352.64 600.03L353.03 600.03L353.41 600.03L353.8 600.02L354.19 600.02L354.57 600.02L354.95 600.01L355.34 600.01L355.72 600L356.11 600L356.5 600L356.88 599.99L357.26 599.99L357.65 599.98L358.03 599.97L358.42 599.97L358.81 599.96L359.19 599.96L359.57 599.95L359.96 599.94L360.34 599.93L360.73 599.93L361.12 599.92L361.5 599.91L361.88 599.9L362.27 599.89L362.65 599.88L363.04 599.87L363.43 599.86L363.81 599.84L364.19 599.83L364.58 599.82L364.96 599.8L365.35 599.78L365.74 599.77L366.12 599.75L366.5 599.73L366.89 599.71L367.27 599.68L367.66 599.66L368.04 599.63L368.43 599.6L368.81 599.57L369.2 599.53L369.58 599.5L369.97 599.45L370.36 599.41L370.74 599.36L371.12 599.3L371.51 599.24L371.89 599.17L372.28 599.1L372.66 599.01L373.05 598.91L373.44 598.81L373.82 598.68L374.2 598.54L374.59 598.38L374.97 598.19L375.36 597.97L375.75 597.72L376.13 597.4L376.51 597.02L376.9 596.54L377.28 595.91L377.67 595.07L378.06 593.93L378.44 592.36L378.82 590.22L379.21 587.32L379.59 583.49L379.98 578.57L380.37 572.47L380.75 565.21L381.13 557.19L381.52 549.55L381.9 544.38L382.29 543.85L382.68 548.23L383.06 555.58L383.44 563.65L383.83 571.1L384.21 577.45L384.6 582.6L384.99 586.63L385.37 589.7L385.75 591.98L386.14 593.65L386.52 594.87L386.91 595.76L387.29 596.42L387.68 596.92L388.06 597.31L388.45 597.62L388.83 597.86L389.22 598.04L389.61 598.15L389.99 598.19L390.38 598.11L390.76 597.87L391.14 597.36L391.53 596.41L391.91 594.73L392.3 591.84" fill="none" stroke="#828282" stroke-width="0.5"/>
<rect x="330.7" y="539.4" width="61.6" height="61" fill="none" stroke="#5a5a5a" stroke-width="0.65"/>
<path d="M331.93 600.4v1.1M333.78 600.4v1.1M335.63 600.4v1.1M337.48 600.4v1.1M339.32 600.4v1.1M341.17 600.4v1.1M343.02 600.4v1.1M344.56 600.4v1.1M350.41 600.4v1.1M353.49 600.4v1.1M355.34 600.4v1.1M358.11 600.4v1.1M363.96 600.4v1.1M367.04 600.4v1.1M368.89 600.4v1.1M371.66 600.4v1.1M377.52 600.4v1.1M380.6 600.4v1.1M382.44 600.4v1.1M385.22 600.4v1.1M389.22 600.4v1.1M391.07 600.4v1.1" stroke="#777" stroke-width="0.4" fill="none"/>
<line x1="330.7" y1="601.1" x2="343.7" y2="601.1" stroke="#888" stroke-width="0.7" stroke-dasharray="0.6 0.5"/>
<text x="336.1" y="608.6" font-size="3" text-anchor="middle" fill="#222">0</text>
<text x="344.16" y="608.6" font-size="3" text-anchor="middle" fill="#222">10<tspan dy="-1.2" font-size="2.2">2</tspan></text>
<text x="357.71" y="608.6" font-size="3" text-anchor="middle" fill="#222">10<tspan dy="-1.2" font-size="2.2">3</tspan></text>
<text x="371.26" y="608.6" font-size="3" text-anchor="middle" fill="#222">10<tspan dy="-1.2" font-size="2.2">4</tspan></text>
<text x="384.82" y="608.6" font-size="3" text-anchor="middle" fill="#222">10<tspan dy="-1.2" font-size="2.2">5</tspan></text>
<text x="361" y="615.4" font-size="2.7" text-anchor="middle" fill="#222">APC-A</text>
<text x="0" y="0" transform="translate(318.3,569.9) rotate(-90)" font-size="2.7" text-anchor="middle" fill="#222">Count</text>
<text x="327.7" y="601" font-size="2.7" text-anchor="end" fill="#222">0</text>
<path d="M419.5 600.1L419.88 600.1L420.27 600.1L420.65 600.1L421.04 600.1L421.43 600.1L421.81 600.1L422.19 600.1L422.58 600.1L422.96 600.1L423.35 600.09L423.74 600.09L424.12 600.09L424.5 600.09L424.89 600.09L425.27 600.09L425.66 600.09L426.05 600.09L426.43 600.09L426.81 600.08L427.2 600.08L427.58 600.08L427.97 600.08L428.36 600.08L428.74 600.08L429.12 600.08L429.51 600.08L429.89 600.07L430.28 600.07L430.67 600.07L431.05 600.07L431.44 600.07L431.82 600.07L432.2 600.06L432.59 600.06L432.98 600.06L433.36 600.06L433.75 600.06L434.13 600.06L434.51 600.05L434.9 600.05L435.29 600.05L435.67 600.05L436.06 600.04L436.44 600.04L436.82 600.04L437.21 600.04L437.6 600.03L437.98 600.03L438.37 600.03L438.75 600.03L439.13 600.02L439.52 600.02L439.9 600.02L440.29 600.01L440.68 600.01L441.06 600.01L441.44 600L441.83 600L442.22 599.99L442.6 599.99L442.99 599.99L443.37 599.98L443.75 599.98L444.14 599.97L444.52 599.97L444.91 599.96L445.3 599.96L445.68 599.95L446.06 599.94L446.45 599.94L446.83 599.93L447.22 599.92L447.61 599.92L447.99 599.91L448.38 599.9L448.76 599.89L449.14 599.88L449.53 599.88L449.92 599.87L450.3 599.86L450.69 599.84L451.07 599.83L451.45 599.82L451.84 599.81L452.23 599.79L452.61 599.78L453 599.76L453.38 599.75L453.76 599.73L454.15 599.71L454.53 599.69L454.92 599.67L455.31 599.64L455.69 599.62L456.07 599.59L456.46 599.56L456.85 599.52L457.23 599.48L457.62 599.44L458 599.39L458.38 599.32L458.77 599.25L459.15 599.16L459.54 599.05L459.93 598.92L460.31 598.77L460.69 598.6L461.08 598.4L461.47 598.18L461.85 597.96L462.24 597.77L462.62 597.64L463 597.58L463.39 597.59L463.77 597.61L464.16 597.63L464.55 597.61L464.93 597.56L465.31 597.46L465.7 597.3L466.08 597.09L466.47 596.81L466.86 596.44L467.24 595.96L467.62 595.34L468.01 594.52L468.39 593.45L468.78 592.05L469.17 590.23L469.55 587.89L469.94 584.93L470.32 581.26L470.7 576.81L471.09 571.55L471.48 565.55L471.86 559.07L472.25 552.75L472.63 547.7L473.01 545.3L473.4 546.36L473.78 550.51L474.17 556.48L474.56 563L474.94 569.25L475.32 574.82L475.71 579.6L476.1 583.57L476.48 586.81L476.87 589.38L477.25 591.39L477.63 592.93L478.02 594.09L478.4 594.94L478.79 595.52L479.18 595.86L479.56 595.94L479.94 595.67L480.33 594.92L480.72 593.41L481.1 590.65" fill="none" stroke="#959595" stroke-width="0.5" stroke-dasharray="1.2 0.5"/>
<path d="M419.5 600.12L419.88 600.12L420.27 600.12L420.65 600.12L421.04 600.12L421.43 600.12L421.81 600.12L422.19 600.12L422.58 600.12L422.96 600.11L423.35 600.11L423.74 600.11L424.12 600.11L424.5 600.11L424.89 600.11L425.27 600.11L425.66 600.11L426.05 600.11L426.43 600.11L426.81 600.11L427.2 600.11L427.58 600.11L427.97 600.11L428.36 600.1L428.74 600.1L429.12 600.1L429.51 600.1L429.89 600.1L430.28 600.1L430.67 600.1L431.05 600.1L431.44 600.1L431.82 600.1L432.2 600.09L432.59 600.09L432.98 600.09L433.36 600.09L433.75 600.09L434.13 600.09L434.51 600.09L434.9 600.09L435.29 600.08L435.67 600.08L436.06 600.08L436.44 600.08L436.82 600.08L437.21 600.08L437.6 600.07L437.98 600.07L438.37 600.07L438.75 600.07L439.13 600.07L439.52 600.07L439.9 600.06L440.29 600.06L440.68 600.06L441.06 600.06L441.44 600.05L441.83 600.05L442.22 600.05L442.6 600.05L442.99 600.04L443.37 600.04L443.75 600.04L444.14 600.03L444.52 600.03L444.91 600.03L445.3 600.02L445.68 600.02L446.06 600.02L446.45 600.01L446.83 600.01L447.22 600L447.61 600L447.99 599.99L448.38 599.99L448.76 599.98L449.14 599.98L449.53 599.97L449.92 599.97L450.3 599.96L450.69 599.95L451.07 599.95L451.45 599.94L451.84 599.93L452.23 599.92L452.61 599.92L453 599.91L453.38 599.9L453.76 599.89L454.15 599.88L454.53 599.86L454.92 599.85L455.31 599.84L455.69 599.83L456.07 599.81L456.46 599.79L456.85 599.78L457.23 599.76L457.62 599.74L458 599.72L458.38 599.7L458.77 599.67L459.15 599.65L459.54 599.62L459.93 599.59L460.31 599.55L460.69 599.52L461.08 599.48L461.47 599.43L461.85 599.39L462.24 599.33L462.62 599.28L463 599.21L463.39 599.14L463.77 599.06L464.16 598.97L464.55 598.86L464.93 598.75L465.31 598.62L465.7 598.47L466.08 598.29L466.47 598.09L466.86 597.85L467.24 597.56L467.62 597.22L468.01 596.78L468.39 596.23L468.78 595.49L469.17 594.49L469.55 593.13L469.94 591.25L470.32 588.7L470.7 585.3L471.09 580.89L471.48 575.32L471.86 568.58L472.25 560.87L472.63 552.96L473.01 546.57L473.4 544.04L473.78 546.57L474.17 552.96L474.56 560.87L474.94 568.58L475.32 575.32L475.71 580.88L476.1 585.29L476.48 588.69L476.87 591.23L477.25 593.09L477.63 594.43L478.02 595.38L478.4 596.03L478.79 596.46L479.18 596.68L479.56 596.65L479.94 596.32L480.33 595.51L480.72 593.94L481.1 591.15" fill="none" stroke="#828282" stroke-width="0.5"/>
<rect x="419.5" y="539.4" width="61.6" height="61" fill="none" stroke="#5a5a5a" stroke-width="0.65"/>
<path d="M420.73 600.4v1.1M422.58 600.4v1.1M424.43 600.4v1.1M426.28 600.4v1.1M428.12 600.4v1.1M429.97 600.4v1.1M431.82 600.4v1.1M433.36 600.4v1.1M439.21 600.4v1.1M442.29 600.4v1.1M444.14 600.4v1.1M446.91 600.4v1.1M452.76 600.4v1.1M455.84 600.4v1.1M457.69 600.4v1.1M460.46 600.4v1.1M466.32 600.4v1.1M469.4 600.4v1.1M471.24 600.4v1.1M474.02 600.4v1.1M478.02 600.4v1.1M479.87 600.4v1.1" stroke="#777" stroke-width="0.4" fill="none"/>
<line x1="419.5" y1="601.1" x2="432.5" y2="601.1" stroke="#888" stroke-width="0.7" stroke-dasharray="0.6 0.5"/>
<text x="424.9" y="608.6" font-size="3" text-anchor="middle" fill="#222">0</text>
<text x="432.96" y="608.6" font-size="3" text-anchor="middle" fill="#222">10<tspan dy="-1.2" font-size="2.2">2</tspan></text>
<text x="446.51" y="608.6" font-size="3" text-anchor="middle" fill="#222">10<tspan dy="-1.2" font-size="2.2">3</tspan></text>
<text x="460.06" y="608.6" font-size="3" text-anchor="middle" fill="#222">10<tspan dy="-1.2" font-size="2.2">4</tspan></text>
<text x="473.62" y="608.6" font-size="3" text-anchor="middle" fill="#222">10<tspan dy="-1.2" font-size="2.2">5</tspan></text>
<text x="449.8" y="615.4" font-size="2.7" text-anchor="middle" fill="#222">APC-A</text>
<text x="0" y="0" transform="translate(407.1,569.9) rotate(-90)" font-size="2.7" text-anchor="middle" fill="#222">Count</text>
<text x="416.5" y="601" font-size="2.7" text-anchor="end" fill="#222">0</text>
<path d="M65.1 692.06L65.48 692.05L65.87 692.05L66.25 692.05L66.64 692.05L67.02 692.05L67.41 692.05L67.79 692.04L68.18 692.04L68.56 692.04L68.95 692.04L69.33 692.04L69.72 692.03L70.1 692.03L70.49 692.03L70.88 692.03L71.26 692.03L71.64 692.02L72.03 692.02L72.41 692.02L72.8 692.02L73.19 692.01L73.57 692.01L73.95 692.01L74.34 692L74.72 692L75.11 692L75.49 691.99L75.88 691.99L76.26 691.99L76.65 691.98L77.03 691.98L77.42 691.98L77.8 691.97L78.19 691.97L78.57 691.96L78.96 691.96L79.34 691.96L79.73 691.95L80.11 691.95L80.5 691.94L80.88 691.93L81.27 691.93L81.66 691.92L82.04 691.92L82.42 691.91L82.81 691.9L83.19 691.9L83.58 691.89L83.97 691.88L84.35 691.87L84.73 691.87L85.12 691.86L85.5 691.85L85.89 691.84L86.27 691.83L86.66 691.81L87.04 691.8L87.43 691.79L87.81 691.77L88.2 691.75L88.58 691.73L88.97 691.71L89.35 691.69L89.74 691.66L90.12 691.63L90.51 691.6L90.89 691.56L91.28 691.52L91.66 691.47L92.05 691.42L92.44 691.36L92.82 691.3L93.2 691.23L93.59 691.16L93.97 691.09L94.36 691.02L94.75 690.95L95.13 690.88L95.52 690.83L95.9 690.8L96.28 690.79L96.67 690.79L97.05 690.8L97.44 690.82L97.82 690.84L98.21 690.86L98.59 690.88L98.98 690.89L99.36 690.9L99.75 690.9L100.13 690.89L100.52 690.87L100.91 690.84L101.29 690.81L101.67 690.76L102.06 690.71L102.44 690.65L102.83 690.58L103.22 690.5L103.6 690.41L103.98 690.31L104.37 690.2L104.75 690.07L105.14 689.93L105.53 689.76L105.91 689.57L106.29 689.36L106.68 689.11L107.06 688.82L107.45 688.47L107.83 688.06L108.22 687.56L108.6 686.95L108.99 686.21L109.38 685.3L109.76 684.19L110.14 682.86L110.53 681.24L110.91 679.32L111.3 677.05L111.69 674.4L112.07 671.34L112.45 667.87L112.84 664L113.22 659.78L113.61 655.34L113.99 650.92L114.38 646.93L114.76 643.87L115.15 642.27L115.53 642.45L115.92 644.38L116.31 647.67L116.69 651.79L117.07 656.24L117.46 660.65L117.84 664.81L118.23 668.61L118.61 672L119 674.97L119.38 677.55L119.77 679.75L120.16 681.6L120.54 683.16L120.92 684.45L121.31 685.51L121.69 686.38L122.08 687.09L122.47 687.66L122.85 688.13L123.23 688.51L123.62 688.8L124 689.01L124.39 689.12L124.78 689.11L125.16 688.93L125.54 688.47L125.93 687.57L126.31 685.94L126.7 683.08" fill="none" stroke="#959595" stroke-width="0.5" stroke-dasharray="1.2 0.5"/>
<path d="M65.1 692.09L65.48 692.09L65.87 692.09L66.25 692.09L66.64 692.08L67.02 692.08L67.41 692.08L67.79 692.08L68.18 692.08L68.56 692.08L68.95 692.08L69.33 692.08L69.72 692.08L70.1 692.07L70.49 692.07L70.88 692.07L71.26 692.07L71.64 692.07L72.03 692.07L72.41 692.07L72.8 692.06L73.19 692.06L73.57 692.06L73.95 692.06L74.34 692.06L74.72 692.05L75.11 692.05L75.49 692.05L75.88 692.05L76.26 692.05L76.65 692.04L77.03 692.04L77.42 692.04L77.8 692.04L78.19 692.04L78.57 692.03L78.96 692.03L79.34 692.03L79.73 692.03L80.11 692.02L80.5 692.02L80.88 692.02L81.27 692.01L81.66 692.01L82.04 692.01L82.42 692L82.81 692L83.19 692L83.58 691.99L83.97 691.99L84.35 691.99L84.73 691.98L85.12 691.98L85.5 691.97L85.89 691.97L86.27 691.96L86.66 691.96L87.04 691.95L87.43 691.95L87.81 691.94L88.2 691.94L88.58 691.93L88.97 691.93L89.35 691.92L89.74 691.91L90.12 691.9L90.51 691.9L90.89 691.89L91.28 691.88L91.66 691.87L92.05 691.86L92.44 691.86L92.82 691.85L93.2 691.84L93.59 691.82L93.97 691.81L94.36 691.8L94.75 691.79L95.13 691.78L95.52 691.76L95.9 691.75L96.28 691.73L96.67 691.72L97.05 691.7L97.44 691.68L97.82 691.66L98.21 691.64L98.59 691.62L98.98 691.6L99.36 691.57L99.75 691.54L100.13 691.52L100.52 691.49L100.91 691.45L101.29 691.42L101.67 691.38L102.06 691.34L102.44 691.3L102.83 691.25L103.22 691.2L103.6 691.14L103.98 691.08L104.37 691.02L104.75 690.95L105.14 690.87L105.53 690.78L105.91 690.68L106.29 690.58L106.68 690.46L107.06 690.33L107.45 690.18L107.83 690.01L108.22 689.82L108.6 689.6L108.99 689.35L109.38 689.05L109.76 688.7L110.14 688.27L110.53 687.74L110.91 687.07L111.3 686.23L111.69 685.15L112.07 683.77L112.45 682.02L112.84 679.82L113.22 677.08L113.61 673.73L113.99 669.71L114.38 664.98L114.76 659.55L115.15 653.56L115.53 647.33L115.92 641.55L116.31 637.22L116.69 635.44L117.07 636.74L117.46 640.72L117.84 646.36L118.23 652.57L118.61 658.63L119 664.16L119.38 669L119.77 673.14L120.16 676.59L120.54 679.42L120.92 681.7L121.31 683.51L121.69 684.94L122.08 686.06L122.47 686.93L122.85 687.6L123.23 688.13L123.62 688.52L124 688.81L124.39 688.99L124.78 689.02L125.16 688.88L125.54 688.45L125.93 687.57L126.31 685.95L126.7 683.12" fill="none" stroke="#828282" stroke-width="0.5"/>
<rect x="65.1" y="631.4" width="61.6" height="61" fill="none" stroke="#5a5a5a" stroke-width="0.65"/>
<path d="M66.33 692.4v1.1M68.18 692.4v1.1M70.03 692.4v1.1M71.88 692.4v1.1M73.72 692.4v1.1M75.57 692.4v1.1M77.42 692.4v1.1M78.96 692.4v1.1M84.81 692.4v1.1M87.89 692.4v1.1M89.74 692.4v1.1M92.51 692.4v1.1M98.36 692.4v1.1M101.44 692.4v1.1M103.29 692.4v1.1M106.06 692.4v1.1M111.92 692.4v1.1M115 692.4v1.1M116.84 692.4v1.1M119.62 692.4v1.1M123.62 692.4v1.1M125.47 692.4v1.1" stroke="#777" stroke-width="0.4" fill="none"/>
<line x1="65.1" y1="693.1" x2="78.1" y2="693.1" stroke="#888" stroke-width="0.7" stroke-dasharray="0.6 0.5"/>
<text x="70.5" y="700.6" font-size="3" text-anchor="middle" fill="#222">0</text>
<text x="78.56" y="700.6" font-size="3" text-anchor="middle" fill="#222">10<tspan dy="-1.2" font-size="2.2">2</tspan></text>
<text x="92.11" y="700.6" font-size="3" text-anchor="middle" fill="#222">10<tspan dy="-1.2" font-size="2.2">3</tspan></text>
<text x="105.66" y="700.6" font-size="3" text-anchor="middle" fill="#222">10<tspan dy="-1.2" font-size="2.2">4</tspan></text>
<text x="119.22" y="700.6" font-size="3" text-anchor="middle" fill="#222">10<tspan dy="-1.2" font-size="2.2">5</tspan></text>
<text x="95.4" y="707.4" font-size="2.7" text-anchor="middle" fill="#222">APC-A</text>
<text x="0" y="0" transform="translate(52.7,661.9) rotate(-90)" font-size="2.7" text-anchor="middle" fill="#222">Count</text>
<text x="62.1" y="693" font-size="2.7" text-anchor="end" fill="#222">0</text>
<path d="M153.4 692.07L153.78 692.07L154.17 692.07L154.56 692.07L154.94 692.07L155.33 692.06L155.71 692.06L156.09 692.06L156.48 692.06L156.87 692.06L157.25 692.06L157.64 692.05L158.02 692.05L158.41 692.05L158.79 692.05L159.18 692.05L159.56 692.04L159.94 692.04L160.33 692.04L160.72 692.04L161.1 692.04L161.49 692.03L161.87 692.03L162.25 692.03L162.64 692.03L163.03 692.02L163.41 692.02L163.8 692.02L164.18 692.02L164.56 692.01L164.95 692.01L165.34 692.01L165.72 692.01L166.11 692L166.49 692L166.88 692L167.26 691.99L167.65 691.99L168.03 691.98L168.42 691.98L168.8 691.98L169.19 691.97L169.57 691.97L169.96 691.96L170.34 691.96L170.72 691.95L171.11 691.95L171.5 691.94L171.88 691.94L172.27 691.93L172.65 691.93L173.03 691.92L173.42 691.92L173.81 691.91L174.19 691.9L174.58 691.9L174.96 691.89L175.34 691.88L175.73 691.87L176.12 691.86L176.5 691.86L176.88 691.85L177.27 691.84L177.66 691.83L178.04 691.82L178.43 691.8L178.81 691.79L179.19 691.78L179.58 691.77L179.97 691.75L180.35 691.74L180.74 691.72L181.12 691.7L181.5 691.69L181.89 691.67L182.28 691.64L182.66 691.62L183.05 691.59L183.43 691.57L183.81 691.53L184.2 691.5L184.59 691.45L184.97 691.41L185.36 691.35L185.74 691.29L186.12 691.21L186.51 691.13L186.9 691.03L187.28 690.92L187.67 690.8L188.05 690.66L188.44 690.51L188.82 690.36L189.21 690.2L189.59 690.05L189.98 689.93L190.36 689.85L190.75 689.81L191.13 689.81L191.52 689.84L191.9 689.87L192.28 689.9L192.67 689.91L193.06 689.91L193.44 689.88L193.83 689.83L194.21 689.75L194.59 689.64L194.98 689.5L195.37 689.33L195.75 689.11L196.13 688.85L196.52 688.53L196.91 688.13L197.29 687.64L197.68 687.03L198.06 686.28L198.44 685.34L198.83 684.18L199.22 682.75L199.6 681.01L199.99 678.91L200.37 676.41L200.75 673.46L201.14 670.05L201.53 666.17L201.91 661.85L202.3 657.2L202.68 652.44L203.06 647.99L203.45 644.42L203.84 642.39L204.22 642.35L204.61 644.31L204.99 647.83L205.38 652.27L205.76 657.02L206.15 661.69L206.53 666.03L206.92 669.93L207.3 673.36L207.69 676.33L208.07 678.85L208.46 680.97L208.84 682.73L209.23 684.18L209.61 685.35L210 686.3L210.38 687.07L210.77 687.68L211.15 688.18L211.53 688.57L211.92 688.87L212.31 689.08L212.69 689.2L213.08 689.19L213.46 689.01L213.84 688.55L214.23 687.65L214.62 686.02L215 683.16" fill="none" stroke="#959595" stroke-width="0.5" stroke-dasharray="1.2 0.5"/>
<path d="M153.4 692.08L153.78 692.08L154.17 692.08L154.56 692.08L154.94 692.08L155.33 692.08L155.71 692.07L156.09 692.07L156.48 692.07L156.87 692.07L157.25 692.07L157.64 692.07L158.02 692.07L158.41 692.06L158.79 692.06L159.18 692.06L159.56 692.06L159.94 692.06L160.33 692.06L160.72 692.06L161.1 692.05L161.49 692.05L161.87 692.05L162.25 692.05L162.64 692.05L163.03 692.04L163.41 692.04L163.8 692.04L164.18 692.04L164.56 692.04L164.95 692.03L165.34 692.03L165.72 692.03L166.11 692.03L166.49 692.02L166.88 692.02L167.26 692.02L167.65 692.01L168.03 692.01L168.42 692.01L168.8 692.01L169.19 692L169.57 692L169.96 692L170.34 691.99L170.72 691.99L171.11 691.98L171.5 691.98L171.88 691.98L172.27 691.97L172.65 691.97L173.03 691.96L173.42 691.96L173.81 691.95L174.19 691.95L174.58 691.94L174.96 691.94L175.34 691.93L175.73 691.93L176.12 691.92L176.5 691.91L176.88 691.91L177.27 691.9L177.66 691.89L178.04 691.89L178.43 691.88L178.81 691.87L179.19 691.86L179.58 691.85L179.97 691.85L180.35 691.84L180.74 691.83L181.12 691.81L181.5 691.8L181.89 691.79L182.28 691.78L182.66 691.77L183.05 691.75L183.43 691.74L183.81 691.72L184.2 691.71L184.59 691.69L184.97 691.67L185.36 691.66L185.74 691.64L186.12 691.62L186.51 691.59L186.9 691.57L187.28 691.55L187.67 691.52L188.05 691.49L188.44 691.46L188.82 691.43L189.21 691.39L189.59 691.36L189.98 691.32L190.36 691.27L190.75 691.23L191.13 691.18L191.52 691.12L191.9 691.06L192.28 691L192.67 690.93L193.06 690.86L193.44 690.77L193.83 690.68L194.21 690.58L194.59 690.47L194.98 690.35L195.37 690.21L195.75 690.06L196.13 689.89L196.52 689.69L196.91 689.46L197.29 689.2L197.68 688.9L198.06 688.53L198.44 688.09L198.83 687.54L199.22 686.87L199.6 686.02L199.99 684.96L200.37 683.63L200.75 681.96L201.14 679.91L201.53 677.41L201.91 674.39L202.3 670.81L202.68 666.63L203.06 661.88L203.45 656.61L203.84 651.03L204.22 645.57L204.61 640.91L204.99 637.93L205.38 637.36L205.76 639.34L206.15 643.37L206.53 648.58L206.92 654.17L207.3 659.61L207.69 664.61L208.07 669.04L208.46 672.88L208.84 676.14L209.23 678.87L209.61 681.11L210 682.93L210.38 684.39L210.77 685.56L211.15 686.48L211.53 687.2L211.92 687.75L212.31 688.16L212.69 688.42L213.08 688.53L213.46 688.44L213.84 688.06L214.23 687.22L214.62 685.64L215 682.83" fill="none" stroke="#828282" stroke-width="0.5"/>
<rect x="153.4" y="631.4" width="61.6" height="61" fill="none" stroke="#5a5a5a" stroke-width="0.65"/>
<path d="M154.63 692.4v1.1M156.48 692.4v1.1M158.33 692.4v1.1M160.18 692.4v1.1M162.02 692.4v1.1M163.87 692.4v1.1M165.72 692.4v1.1M167.26 692.4v1.1M173.11 692.4v1.1M176.19 692.4v1.1M178.04 692.4v1.1M180.81 692.4v1.1M186.66 692.4v1.1M189.74 692.4v1.1M191.59 692.4v1.1M194.36 692.4v1.1M200.22 692.4v1.1M203.3 692.4v1.1M205.14 692.4v1.1M207.92 692.4v1.1M211.92 692.4v1.1M213.77 692.4v1.1" stroke="#777" stroke-width="0.4" fill="none"/>
<line x1="153.4" y1="693.1" x2="166.4" y2="693.1" stroke="#888" stroke-width="0.7" stroke-dasharray="0.6 0.5"/>
<text x="158.8" y="700.6" font-size="3" text-anchor="middle" fill="#222">0</text>
<text x="166.86" y="700.6" font-size="3" text-anchor="middle" fill="#222">10<tspan dy="-1.2" font-size="2.2">2</tspan></text>
<text x="180.41" y="700.6" font-size="3" text-anchor="middle" fill="#222">10<tspan dy="-1.2" font-size="2.2">3</tspan></text>
<text x="193.96" y="700.6" font-size="3" text-anchor="middle" fill="#222">10<tspan dy="-1.2" font-size="2.2">4</tspan></text>
<text x="207.52" y="700.6" font-size="3" text-anchor="middle" fill="#222">10<tspan dy="-1.2" font-size="2.2">5</tspan></text>
<text x="183.7" y="707.4" font-size="2.7" text-anchor="middle" fill="#222">APC-A</text>
<text x="0" y="0" transform="translate(141,661.9) rotate(-90)" font-size="2.7" text-anchor="middle" fill="#222">Count</text>
<text x="150.4" y="693" font-size="2.7" text-anchor="end" fill="#222">0</text>
<path d="M242.1 692.04L242.48 692.04L242.87 692.04L243.25 692.03L243.64 692.03L244.03 692.03L244.41 692.03L244.79 692.02L245.18 692.02L245.56 692.02L245.95 692.02L246.34 692.01L246.72 692.01L247.1 692.01L247.49 692L247.88 692L248.26 692L248.64 691.99L249.03 691.99L249.41 691.98L249.8 691.98L250.19 691.98L250.57 691.97L250.95 691.97L251.34 691.96L251.72 691.96L252.11 691.95L252.5 691.95L252.88 691.94L253.26 691.93L253.65 691.93L254.03 691.92L254.42 691.92L254.81 691.91L255.19 691.9L255.57 691.89L255.96 691.89L256.34 691.88L256.73 691.87L257.12 691.86L257.5 691.85L257.88 691.84L258.27 691.83L258.65 691.82L259.04 691.81L259.43 691.79L259.81 691.78L260.19 691.77L260.58 691.75L260.96 691.74L261.35 691.72L261.74 691.7L262.12 691.68L262.5 691.66L262.89 691.64L263.27 691.62L263.66 691.59L264.05 691.57L264.43 691.54L264.81 691.51L265.2 691.47L265.58 691.44L265.97 691.4L266.36 691.35L266.74 691.31L267.12 691.25L267.51 691.2L267.89 691.14L268.28 691.07L268.67 690.99L269.05 690.9L269.44 690.8L269.82 690.69L270.2 690.56L270.59 690.41L270.98 690.24L271.36 690.02L271.75 689.76L272.13 689.44L272.51 689.04L272.9 688.53L273.28 687.89L273.67 687.08L274.06 686.08L274.44 684.85L274.82 683.36L275.21 681.58L275.59 679.49L275.98 677.1L276.37 674.43L276.75 671.61L277.13 668.84L277.52 666.51L277.9 665.08L278.29 664.92L278.68 666.07L279.06 668.21L279.44 670.87L279.83 673.66L280.21 676.31L280.6 678.71L280.99 680.8L281.37 682.58L281.75 684.07L282.14 685.28L282.52 686.25L282.91 687.01L283.3 687.59L283.68 688.03L284.06 688.35L284.45 688.57L284.83 688.72L285.22 688.79L285.61 688.81L285.99 688.78L286.38 688.7L286.76 688.56L287.14 688.37L287.53 688.09L287.92 687.72L288.3 687.21L288.69 686.53L289.07 685.59L289.45 684.32L289.84 682.6L290.23 680.32L290.61 677.36L291 673.6L291.38 668.95L291.76 663.38L292.15 657L292.53 650.23L292.92 644.05L293.31 640.03L293.69 639.65L294.07 643.07L294.46 649L294.84 655.79L295.23 662.33L295.62 668.12L296 672.99L296.38 676.97L296.77 680.13L297.15 682.58L297.54 684.45L297.93 685.86L298.31 686.92L298.69 687.71L299.08 688.31L299.46 688.78L299.85 689.14L300.24 689.42L300.62 689.64L301 689.78L301.39 689.84L301.77 689.79L302.16 689.56L302.55 689.06L302.93 688.13L303.31 686.47L303.7 683.58" fill="none" stroke="#959595" stroke-width="0.5" stroke-dasharray="1.2 0.5"/>
<path d="M242.1 692.11L242.48 692.11L242.87 692.11L243.25 692.11L243.64 692.11L244.03 692.1L244.41 692.1L244.79 692.1L245.18 692.1L245.56 692.1L245.95 692.1L246.34 692.1L246.72 692.1L247.1 692.1L247.49 692.1L247.88 692.1L248.26 692.09L248.64 692.09L249.03 692.09L249.41 692.09L249.8 692.09L250.19 692.09L250.57 692.09L250.95 692.09L251.34 692.09L251.72 692.08L252.11 692.08L252.5 692.08L252.88 692.08L253.26 692.08L253.65 692.08L254.03 692.08L254.42 692.07L254.81 692.07L255.19 692.07L255.57 692.07L255.96 692.07L256.34 692.07L256.73 692.06L257.12 692.06L257.5 692.06L257.88 692.06L258.27 692.05L258.65 692.05L259.04 692.05L259.43 692.05L259.81 692.05L260.19 692.04L260.58 692.04L260.96 692.04L261.35 692.03L261.74 692.03L262.12 692.03L262.5 692.03L262.89 692.02L263.27 692.02L263.66 692.01L264.05 692.01L264.43 692.01L264.81 692L265.2 692L265.58 691.99L265.97 691.99L266.36 691.99L266.74 691.98L267.12 691.98L267.51 691.97L267.89 691.96L268.28 691.96L268.67 691.95L269.05 691.95L269.44 691.94L269.82 691.93L270.2 691.92L270.59 691.92L270.98 691.91L271.36 691.9L271.75 691.89L272.13 691.88L272.51 691.87L272.9 691.86L273.28 691.85L273.67 691.83L274.06 691.82L274.44 691.81L274.82 691.79L275.21 691.78L275.59 691.76L275.98 691.74L276.37 691.73L276.75 691.71L277.13 691.68L277.52 691.66L277.9 691.64L278.29 691.61L278.68 691.58L279.06 691.55L279.44 691.51L279.83 691.48L280.21 691.44L280.6 691.39L280.99 691.35L281.37 691.29L281.75 691.24L282.14 691.17L282.52 691.1L282.91 691.03L283.3 690.94L283.68 690.84L284.06 690.73L284.45 690.61L284.83 690.47L285.22 690.32L285.61 690.13L285.99 689.92L286.38 689.68L286.76 689.38L287.14 689.02L287.53 688.58L287.92 688.01L288.3 687.27L288.69 686.29L289.07 684.99L289.45 683.25L289.84 680.95L290.23 677.97L290.61 674.17L291 669.46L291.38 663.79L291.76 657.24L292.15 650.15L292.53 643.42L292.92 638.59L293.31 637.34L293.69 640.18L294.07 645.98L294.46 653.01L294.84 659.95L295.23 666.18L295.62 671.46L296 675.79L296.38 679.25L296.77 681.94L297.15 684L297.54 685.55L297.93 686.71L298.31 687.59L298.69 688.25L299.08 688.75L299.46 689.15L299.85 689.47L300.24 689.71L300.62 689.9L301 690.02L301.39 690.06L301.77 689.99L302.16 689.75L302.55 689.25L302.93 688.3L303.31 686.63L303.7 683.74" fill="none" stroke="#828282" stroke-width="0.5"/>
<rect x="242.1" y="631.4" width="61.6" height="61" fill="none" stroke="#5a5a5a" stroke-width="0.65"/>
<path d="M243.33 692.4v1.1M245.18 692.4v1.1M247.03 692.4v1.1M248.88 692.4v1.1M250.72 692.4v1.1M252.57 692.4v1.1M254.42 692.4v1.1M255.96 692.4v1.1M261.81 692.4v1.1M264.89 692.4v1.1M266.74 692.4v1.1M269.51 692.4v1.1M275.36 692.4v1.1M278.44 692.4v1.1M280.29 692.4v1.1M283.06 692.4v1.1M288.92 692.4v1.1M292 692.4v1.1M293.84 692.4v1.1M296.62 692.4v1.1M300.62 692.4v1.1M302.47 692.4v1.1" stroke="#777" stroke-width="0.4" fill="none"/>
<line x1="242.1" y1="693.1" x2="255.1" y2="693.1" stroke="#888" stroke-width="0.7" stroke-dasharray="0.6 0.5"/>
<text x="247.5" y="700.6" font-size="3" text-anchor="middle" fill="#222">0</text>
<text x="255.56" y="700.6" font-size="3" text-anchor="middle" fill="#222">10<tspan dy="-1.2" font-size="2.2">2</tspan></text>
<text x="269.11" y="700.6" font-size="3" text-anchor="middle" fill="#222">10<tspan dy="-1.2" font-size="2.2">3</tspan></text>
<text x="282.66" y="700.6" font-size="3" text-anchor="middle" fill="#222">10<tspan dy="-1.2" font-size="2.2">4</tspan></text>
<text x="296.22" y="700.6" font-size="3" text-anchor="middle" fill="#222">10<tspan dy="-1.2" font-size="2.2">5</tspan></text>
<text x="272.4" y="707.4" font-size="2.7" text-anchor="middle" fill="#222">APC-A</text>
<text x="0" y="0" transform="translate(229.7,661.9) rotate(-90)" font-size="2.7" text-anchor="middle" fill="#222">Count</text>
<text x="239.1" y="693" font-size="2.7" text-anchor="end" fill="#222">0</text>
<path d="M330.7 692.08L331.08 692.08L331.47 692.08L331.85 692.07L332.24 692.07L332.62 692.07L333.01 692.07L333.39 692.07L333.78 692.07L334.16 692.07L334.55 692.06L334.94 692.06L335.32 692.06L335.7 692.06L336.09 692.06L336.47 692.05L336.86 692.05L337.25 692.05L337.63 692.05L338.01 692.05L338.4 692.04L338.78 692.04L339.17 692.04L339.56 692.04L339.94 692.03L340.32 692.03L340.71 692.03L341.09 692.02L341.48 692.02L341.87 692.02L342.25 692.02L342.63 692.01L343.02 692.01L343.4 692L343.79 692L344.18 692L344.56 691.99L344.94 691.99L345.33 691.98L345.71 691.98L346.1 691.97L346.49 691.97L346.87 691.96L347.25 691.96L347.64 691.95L348.02 691.95L348.41 691.94L348.8 691.93L349.18 691.93L349.56 691.92L349.95 691.91L350.33 691.9L350.72 691.89L351.11 691.89L351.49 691.88L351.88 691.87L352.26 691.85L352.64 691.84L353.03 691.83L353.41 691.82L353.8 691.8L354.19 691.79L354.57 691.77L354.95 691.75L355.34 691.73L355.72 691.71L356.11 691.69L356.5 691.66L356.88 691.64L357.26 691.6L357.65 691.57L358.03 691.53L358.42 691.49L358.81 691.44L359.19 691.38L359.57 691.3L359.96 691.22L360.34 691.12L360.73 690.99L361.12 690.84L361.5 690.66L361.88 690.43L362.27 690.17L362.65 689.86L363.04 689.49L363.43 689.06L363.81 688.58L364.19 688.03L364.58 687.44L364.96 686.83L365.35 686.23L365.74 685.71L366.12 685.35L366.5 685.2L366.89 685.28L367.27 685.55L367.66 685.92L368.04 686.31L368.43 686.67L368.81 686.94L369.2 687.12L369.58 687.18L369.97 687.14L370.36 687.02L370.74 686.88L371.12 686.81L371.51 686.9L371.89 687.15L372.28 687.51L372.66 687.88L373.05 688.22L373.44 688.48L373.82 688.66L374.2 688.76L374.59 688.78L374.97 688.71L375.36 688.57L375.75 688.33L376.13 687.99L376.51 687.52L376.9 686.88L377.28 686.04L377.67 684.91L378.06 683.43L378.44 681.5L378.82 679.03L379.21 675.93L379.59 672.12L379.98 667.54L380.37 662.2L380.75 656.23L381.13 650.01L381.52 644.36L381.9 640.5L382.29 639.64L382.68 642.06L383.06 646.97L383.44 653.04L383.83 659.23L384.21 664.95L384.6 669.95L384.99 674.18L385.37 677.67L385.75 680.48L386.14 682.71L386.52 684.44L386.91 685.78L387.29 686.8L387.68 687.59L388.06 688.19L388.45 688.66L388.83 689.02L389.22 689.29L389.61 689.48L389.99 689.58L390.38 689.55L390.76 689.35L391.14 688.88L391.53 687.96L391.91 686.32L392.3 683.45" fill="none" stroke="#959595" stroke-width="0.5" stroke-dasharray="1.2 0.5"/>
<path d="M330.7 692.11L331.08 692.11L331.47 692.11L331.85 692.11L332.24 692.11L332.62 692.11L333.01 692.1L333.39 692.1L333.78 692.1L334.16 692.1L334.55 692.1L334.94 692.1L335.32 692.1L335.7 692.1L336.09 692.1L336.47 692.1L336.86 692.1L337.25 692.09L337.63 692.09L338.01 692.09L338.4 692.09L338.78 692.09L339.17 692.09L339.56 692.09L339.94 692.09L340.32 692.09L340.71 692.08L341.09 692.08L341.48 692.08L341.87 692.08L342.25 692.08L342.63 692.08L343.02 692.08L343.4 692.07L343.79 692.07L344.18 692.07L344.56 692.07L344.94 692.07L345.33 692.07L345.71 692.06L346.1 692.06L346.49 692.06L346.87 692.06L347.25 692.05L347.64 692.05L348.02 692.05L348.41 692.05L348.8 692.05L349.18 692.04L349.56 692.04L349.95 692.04L350.33 692.03L350.72 692.03L351.11 692.03L351.49 692.03L351.88 692.02L352.26 692.02L352.64 692.01L353.03 692.01L353.41 692.01L353.8 692L354.19 692L354.57 691.99L354.95 691.99L355.34 691.98L355.72 691.98L356.11 691.97L356.5 691.97L356.88 691.96L357.26 691.96L357.65 691.95L358.03 691.94L358.42 691.94L358.81 691.93L359.19 691.92L359.57 691.92L359.96 691.91L360.34 691.9L360.73 691.89L361.12 691.88L361.5 691.87L361.88 691.86L362.27 691.85L362.65 691.83L363.04 691.82L363.43 691.81L363.81 691.79L364.19 691.78L364.58 691.76L364.96 691.74L365.35 691.72L365.74 691.7L366.12 691.68L366.5 691.66L366.89 691.63L367.27 691.61L367.66 691.58L368.04 691.55L368.43 691.51L368.81 691.48L369.2 691.44L369.58 691.39L369.97 691.34L370.36 691.29L370.74 691.23L371.12 691.17L371.51 691.1L371.89 691.02L372.28 690.94L372.66 690.84L373.05 690.73L373.44 690.61L373.82 690.47L374.2 690.31L374.59 690.13L374.97 689.91L375.36 689.66L375.75 689.37L376.13 689.01L376.51 688.56L376.9 687.98L377.28 687.24L377.67 686.25L378.06 684.93L378.44 683.17L378.82 680.85L379.21 677.83L379.59 674L379.98 669.25L380.37 663.55L380.75 656.96L381.13 649.87L381.52 643.18L381.9 638.47L382.29 637.38L382.68 640.36L383.06 646.25L383.44 653.3L383.83 660.22L384.21 666.41L384.6 671.65L384.99 675.95L385.37 679.37L385.75 682.04L386.14 684.07L386.52 685.61L386.91 686.75L387.29 687.61L387.68 688.26L388.06 688.76L388.45 689.15L388.83 689.45L389.22 689.68L389.61 689.83L389.99 689.9L390.38 689.85L390.76 689.63L391.14 689.13L391.53 688.2L391.91 686.54L392.3 683.66" fill="none" stroke="#828282" stroke-width="0.5"/>
<rect x="330.7" y="631.4" width="61.6" height="61" fill="none" stroke="#5a5a5a" stroke-width="0.65"/>
<path d="M331.93 692.4v1.1M333.78 692.4v1.1M335.63 692.4v1.1M337.48 692.4v1.1M339.32 692.4v1.1M341.17 692.4v1.1M343.02 692.4v1.1M344.56 692.4v1.1M350.41 692.4v1.1M353.49 692.4v1.1M355.34 692.4v1.1M358.11 692.4v1.1M363.96 692.4v1.1M367.04 692.4v1.1M368.89 692.4v1.1M371.66 692.4v1.1M377.52 692.4v1.1M380.6 692.4v1.1M382.44 692.4v1.1M385.22 692.4v1.1M389.22 692.4v1.1M391.07 692.4v1.1" stroke="#777" stroke-width="0.4" fill="none"/>
<line x1="330.7" y1="693.1" x2="343.7" y2="693.1" stroke="#888" stroke-width="0.7" stroke-dasharray="0.6 0.5"/>
<text x="336.1" y="700.6" font-size="3" text-anchor="middle" fill="#222">0</text>
<text x="344.16" y="700.6" font-size="3" text-anchor="middle" fill="#222">10<tspan dy="-1.2" font-size="2.2">2</tspan></text>
<text x="357.71" y="700.6" font-size="3" text-anchor="middle" fill="#222">10<tspan dy="-1.2" font-size="2.2">3</tspan></text>
<text x="371.26" y="700.6" font-size="3" text-anchor="middle" fill="#222">10<tspan dy="-1.2" font-size="2.2">4</tspan></text>
<text x="384.82" y="700.6" font-size="3" text-anchor="middle" fill="#222">10<tspan dy="-1.2" font-size="2.2">5</tspan></text>
<text x="361" y="707.4" font-size="2.7" text-anchor="middle" fill="#222">APC-A</text>
<text x="0" y="0" transform="translate(318.3,661.9) rotate(-90)" font-size="2.7" text-anchor="middle" fill="#222">Count</text>
<text x="327.7" y="693" font-size="2.7" text-anchor="end" fill="#222">0</text>
<path d="M419.5 692.09L419.88 692.09L420.27 692.09L420.65 692.09L421.04 692.09L421.43 692.08L421.81 692.08L422.19 692.08L422.58 692.08L422.96 692.08L423.35 692.08L423.74 692.08L424.12 692.08L424.5 692.07L424.89 692.07L425.27 692.07L425.66 692.07L426.05 692.07L426.43 692.07L426.81 692.06L427.2 692.06L427.58 692.06L427.97 692.06L428.36 692.06L428.74 692.05L429.12 692.05L429.51 692.05L429.89 692.05L430.28 692.05L430.67 692.04L431.05 692.04L431.44 692.04L431.82 692.04L432.2 692.03L432.59 692.03L432.98 692.03L433.36 692.02L433.75 692.02L434.13 692.02L434.51 692.01L434.9 692.01L435.29 692.01L435.67 692L436.06 692L436.44 691.99L436.82 691.99L437.21 691.98L437.6 691.98L437.98 691.97L438.37 691.97L438.75 691.96L439.13 691.96L439.52 691.95L439.9 691.94L440.29 691.94L440.68 691.93L441.06 691.92L441.44 691.91L441.83 691.91L442.22 691.9L442.6 691.89L442.99 691.88L443.37 691.86L443.75 691.85L444.14 691.84L444.52 691.83L444.91 691.81L445.3 691.8L445.68 691.78L446.06 691.76L446.45 691.74L446.83 691.71L447.22 691.69L447.61 691.66L447.99 691.62L448.38 691.59L448.76 691.54L449.14 691.48L449.53 691.42L449.92 691.34L450.3 691.25L450.69 691.13L451.07 690.99L451.45 690.83L451.84 690.63L452.23 690.39L452.61 690.12L453 689.81L453.38 689.45L453.76 689.06L454.15 688.65L454.53 688.22L454.92 687.83L455.31 687.51L455.69 687.34L456.07 687.32L456.46 687.48L456.85 687.75L457.23 688.1L457.62 688.47L458 688.82L458.38 689.14L458.77 689.42L459.15 689.65L459.54 689.84L459.93 689.99L460.31 690.09L460.69 690.16L461.08 690.2L461.47 690.2L461.85 690.17L462.24 690.11L462.62 690.02L463 689.91L463.39 689.76L463.77 689.59L464.16 689.37L464.55 689.1L464.93 688.77L465.31 688.35L465.7 687.82L466.08 687.14L466.47 686.25L466.86 685.08L467.24 683.56L467.62 681.59L468.01 679.09L468.39 675.95L468.78 672.09L469.17 667.47L469.55 662.09L469.94 656.09L470.32 649.87L470.7 644.26L471.09 640.5L471.48 639.76L471.86 642.3L472.25 647.27L472.63 653.37L473.01 659.54L473.4 665.23L473.78 670.2L474.17 674.4L474.56 677.85L474.94 680.64L475.32 682.84L475.71 684.55L476.1 685.87L476.48 686.88L476.87 687.65L477.25 688.24L477.63 688.69L478.02 689.03L478.4 689.26L478.79 689.4L479.18 689.4L479.56 689.22L479.94 688.77L480.33 687.87L480.72 686.23L481.1 683.38" fill="none" stroke="#959595" stroke-width="0.5" stroke-dasharray="1.2 0.5"/>
<path d="M419.5 692.11L419.88 692.11L420.27 692.11L420.65 692.11L421.04 692.11L421.43 692.11L421.81 692.11L422.19 692.11L422.58 692.1L422.96 692.1L423.35 692.1L423.74 692.1L424.12 692.1L424.5 692.1L424.89 692.1L425.27 692.1L425.66 692.1L426.05 692.1L426.43 692.1L426.81 692.09L427.2 692.09L427.58 692.09L427.97 692.09L428.36 692.09L428.74 692.09L429.12 692.09L429.51 692.09L429.89 692.09L430.28 692.08L430.67 692.08L431.05 692.08L431.44 692.08L431.82 692.08L432.2 692.08L432.59 692.08L432.98 692.07L433.36 692.07L433.75 692.07L434.13 692.07L434.51 692.07L434.9 692.06L435.29 692.06L435.67 692.06L436.06 692.06L436.44 692.06L436.82 692.05L437.21 692.05L437.6 692.05L437.98 692.05L438.37 692.04L438.75 692.04L439.13 692.04L439.52 692.04L439.9 692.03L440.29 692.03L440.68 692.03L441.06 692.02L441.44 692.02L441.83 692.02L442.22 692.01L442.6 692.01L442.99 692.01L443.37 692L443.75 692L444.14 691.99L444.52 691.99L444.91 691.98L445.3 691.98L445.68 691.97L446.06 691.97L446.45 691.96L446.83 691.96L447.22 691.95L447.61 691.94L447.99 691.94L448.38 691.93L448.76 691.92L449.14 691.91L449.53 691.9L449.92 691.9L450.3 691.89L450.69 691.88L451.07 691.87L451.45 691.86L451.84 691.84L452.23 691.83L452.61 691.82L453 691.8L453.38 691.79L453.76 691.77L454.15 691.76L454.53 691.74L454.92 691.72L455.31 691.7L455.69 691.68L456.07 691.65L456.46 691.63L456.85 691.6L457.23 691.57L457.62 691.54L458 691.5L458.38 691.47L458.77 691.43L459.15 691.38L459.54 691.33L459.93 691.28L460.31 691.22L460.69 691.16L461.08 691.08L461.47 691L461.85 690.91L462.24 690.81L462.62 690.7L463 690.58L463.39 690.43L463.77 690.27L464.16 690.08L464.55 689.86L464.93 689.6L465.31 689.29L465.7 688.91L466.08 688.43L466.47 687.82L466.86 687.02L467.24 685.96L467.62 684.55L468.01 682.67L468.39 680.19L468.78 676.99L469.17 672.95L469.55 667.97L469.94 662.04L470.32 655.28L470.7 648.18L471.09 641.8L471.48 637.83L471.86 637.75L472.25 641.58L472.63 647.9L473.01 655L473.4 661.78L473.78 667.75L474.17 672.77L474.56 676.84L474.94 680.08L475.32 682.58L475.71 684.48L476.1 685.91L476.48 686.97L476.87 687.77L477.25 688.37L477.63 688.82L478.02 689.16L478.4 689.4L478.79 689.53L479.18 689.53L479.56 689.35L479.94 688.89L480.33 687.99L480.72 686.35L481.1 683.49" fill="none" stroke="#828282" stroke-width="0.5"/>
<rect x="419.5" y="631.4" width="61.6" height="61" fill="none" stroke="#5a5a5a" stroke-width="0.65"/>
<path d="M420.73 692.4v1.1M422.58 692.4v1.1M424.43 692.4v1.1M426.28 692.4v1.1M428.12 692.4v1.1M429.97 692.4v1.1M431.82 692.4v1.1M433.36 692.4v1.1M439.21 692.4v1.1M442.29 692.4v1.1M444.14 692.4v1.1M446.91 692.4v1.1M452.76 692.4v1.1M455.84 692.4v1.1M457.69 692.4v1.1M460.46 692.4v1.1M466.32 692.4v1.1M469.4 692.4v1.1M471.24 692.4v1.1M474.02 692.4v1.1M478.02 692.4v1.1M479.87 692.4v1.1" stroke="#777" stroke-width="0.4" fill="none"/>
<line x1="419.5" y1="693.1" x2="432.5" y2="693.1" stroke="#888" stroke-width="0.7" stroke-dasharray="0.6 0.5"/>
<text x="424.9" y="700.6" font-size="3" text-anchor="middle" fill="#222">0</text>
<text x="432.96" y="700.6" font-size="3" text-anchor="middle" fill="#222">10<tspan dy="-1.2" font-size="2.2">2</tspan></text>
<text x="446.51" y="700.6" font-size="3" text-anchor="middle" fill="#222">10<tspan dy="-1.2" font-size="2.2">3</tspan></text>
<text x="460.06" y="700.6" font-size="3" text-anchor="middle" fill="#222">10<tspan dy="-1.2" font-size="2.2">4</tspan></text>
<text x="473.62" y="700.6" font-size="3" text-anchor="middle" fill="#222">10<tspan dy="-1.2" font-size="2.2">5</tspan></text>
<text x="449.8" y="707.4" font-size="2.7" text-anchor="middle" fill="#222">APC-A</text>
<text x="0" y="0" transform="translate(407.1,661.9) rotate(-90)" font-size="2.7" text-anchor="middle" fill="#222">Count</text>
<text x="416.5" y="693" font-size="2.7" text-anchor="end" fill="#222">0</text>
<path d="M69.4 784.05L69.79 784.05L70.17 784.05L70.56 784.05L70.94 784.04L71.33 784.04L71.71 784.04L72.09 784.04L72.48 784.04L72.87 784.03L73.25 784.03L73.64 784.03L74.02 784.03L74.41 784.03L74.79 784.02L75.18 784.02L75.56 784.02L75.95 784.02L76.33 784.01L76.72 784.01L77.1 784.01L77.49 784L77.87 784L78.26 784L78.64 783.99L79.03 783.99L79.41 783.99L79.8 783.98L80.18 783.98L80.56 783.98L80.95 783.97L81.34 783.97L81.72 783.96L82.11 783.96L82.49 783.95L82.88 783.95L83.26 783.94L83.65 783.94L84.03 783.93L84.42 783.93L84.8 783.92L85.19 783.92L85.57 783.91L85.96 783.9L86.34 783.9L86.73 783.89L87.11 783.88L87.5 783.87L87.88 783.86L88.27 783.85L88.65 783.85L89.03 783.83L89.42 783.82L89.81 783.81L90.19 783.8L90.58 783.79L90.96 783.77L91.34 783.76L91.73 783.74L92.12 783.73L92.5 783.71L92.89 783.69L93.27 783.67L93.66 783.65L94.04 783.62L94.43 783.59L94.81 783.56L95.2 783.53L95.58 783.49L95.97 783.45L96.35 783.4L96.74 783.34L97.12 783.28L97.51 783.19L97.89 783.09L98.28 782.96L98.66 782.79L99.05 782.57L99.43 782.3L99.82 781.96L100.2 781.54L100.59 781.03L100.97 780.43L101.36 779.75L101.74 779.04L102.12 778.38L102.51 777.92L102.9 777.75L103.28 777.84L103.67 778.08L104.05 778.3L104.44 778.42L104.82 778.41L105.21 778.27L105.59 778.06L105.98 777.9L106.36 777.91L106.75 778.18L107.13 778.64L107.52 779.19L107.9 779.72L108.28 780.19L108.67 780.56L109.06 780.85L109.44 781.06L109.83 781.19L110.21 781.25L110.59 781.25L110.98 781.2L111.37 781.1L111.75 780.95L112.14 780.75L112.52 780.5L112.91 780.18L113.29 779.79L113.68 779.31L114.06 778.7L114.45 777.95L114.83 777.01L115.22 775.85L115.6 774.41L115.99 772.65L116.37 770.51L116.76 767.96L117.14 764.94L117.53 761.43L117.91 757.41L118.3 752.9L118.68 747.99L119.06 742.89L119.45 737.96L119.84 733.8L120.22 731.1L120.61 730.44L120.99 731.97L121.38 735.35L121.76 739.91L122.15 744.97L122.53 750.04L122.92 754.81L123.3 759.14L123.69 762.97L124.07 766.29L124.46 769.13L124.84 771.52L125.23 773.51L125.61 775.15L126 776.49L126.38 777.57L126.77 778.44L127.15 779.14L127.53 779.69L127.92 780.12L128.31 780.43L128.69 780.63L129.08 780.69L129.46 780.56L129.84 780.15L130.23 779.28L130.62 777.68L131 774.86" fill="none" stroke="#959595" stroke-width="0.5" stroke-dasharray="1.2 0.5"/>
<path d="M69.4 784.09L69.79 784.09L70.17 784.09L70.56 784.09L70.94 784.09L71.33 784.09L71.71 784.08L72.09 784.08L72.48 784.08L72.87 784.08L73.25 784.08L73.64 784.08L74.02 784.08L74.41 784.08L74.79 784.07L75.18 784.07L75.56 784.07L75.95 784.07L76.33 784.07L76.72 784.07L77.1 784.06L77.49 784.06L77.87 784.06L78.26 784.06L78.64 784.06L79.03 784.06L79.41 784.05L79.8 784.05L80.18 784.05L80.56 784.05L80.95 784.05L81.34 784.04L81.72 784.04L82.11 784.04L82.49 784.04L82.88 784.04L83.26 784.03L83.65 784.03L84.03 784.03L84.42 784.02L84.8 784.02L85.19 784.02L85.57 784.02L85.96 784.01L86.34 784.01L86.73 784.01L87.11 784L87.5 784L87.88 784L88.27 783.99L88.65 783.99L89.03 783.98L89.42 783.98L89.81 783.97L90.19 783.97L90.58 783.97L90.96 783.96L91.34 783.96L91.73 783.95L92.12 783.94L92.5 783.94L92.89 783.93L93.27 783.93L93.66 783.92L94.04 783.91L94.43 783.91L94.81 783.9L95.2 783.89L95.58 783.88L95.97 783.87L96.35 783.87L96.74 783.86L97.12 783.85L97.51 783.84L97.89 783.82L98.28 783.81L98.66 783.8L99.05 783.79L99.43 783.78L99.82 783.76L100.2 783.75L100.59 783.73L100.97 783.71L101.36 783.7L101.74 783.68L102.12 783.66L102.51 783.64L102.9 783.61L103.28 783.59L103.67 783.57L104.05 783.54L104.44 783.51L104.82 783.48L105.21 783.44L105.59 783.41L105.98 783.37L106.36 783.33L106.75 783.28L107.13 783.23L107.52 783.18L107.9 783.12L108.28 783.06L108.67 782.99L109.06 782.91L109.44 782.83L109.83 782.73L110.21 782.63L110.59 782.52L110.98 782.39L111.37 782.25L111.75 782.09L112.14 781.9L112.52 781.69L112.91 781.45L113.29 781.17L113.68 780.83L114.06 780.41L114.45 779.9L114.83 779.27L115.22 778.46L115.6 777.42L115.99 776.1L116.37 774.42L116.76 772.31L117.14 769.68L117.53 766.47L117.91 762.6L118.3 758.05L118.68 752.83L119.06 747.04L119.45 741.02L119.84 735.38L120.22 731.12L120.61 729.28L120.99 730.42L121.38 734.19L121.76 739.6L122.15 745.6L122.53 751.48L122.92 756.86L123.3 761.57L123.69 765.6L124.07 768.97L124.46 771.73L124.84 773.96L125.23 775.73L125.61 777.13L126 778.22L126.38 779.07L126.77 779.74L127.15 780.26L127.53 780.67L127.92 780.98L128.31 781.2L128.69 781.32L129.08 781.31L129.46 781.13L129.84 780.68L130.23 779.77L130.62 778.14L131 775.29" fill="none" stroke="#828282" stroke-width="0.5"/>
<rect x="69.4" y="723.4" width="61.6" height="61" fill="none" stroke="#5a5a5a" stroke-width="0.65"/>
<path d="M70.63 784.4v1.1M72.48 784.4v1.1M74.33 784.4v1.1M76.18 784.4v1.1M78.02 784.4v1.1M79.87 784.4v1.1M81.72 784.4v1.1M83.26 784.4v1.1M89.11 784.4v1.1M92.19 784.4v1.1M94.04 784.4v1.1M96.81 784.4v1.1M102.66 784.4v1.1M105.74 784.4v1.1M107.59 784.4v1.1M110.36 784.4v1.1M116.22 784.4v1.1M119.3 784.4v1.1M121.14 784.4v1.1M123.92 784.4v1.1M127.92 784.4v1.1M129.77 784.4v1.1" stroke="#777" stroke-width="0.4" fill="none"/>
<line x1="69.4" y1="785.1" x2="82.4" y2="785.1" stroke="#888" stroke-width="0.7" stroke-dasharray="0.6 0.5"/>
<text x="74.8" y="792.6" font-size="3" text-anchor="middle" fill="#222">0</text>
<text x="82.86" y="792.6" font-size="3" text-anchor="middle" fill="#222">10<tspan dy="-1.2" font-size="2.2">2</tspan></text>
<text x="96.41" y="792.6" font-size="3" text-anchor="middle" fill="#222">10<tspan dy="-1.2" font-size="2.2">3</tspan></text>
<text x="109.96" y="792.6" font-size="3" text-anchor="middle" fill="#222">10<tspan dy="-1.2" font-size="2.2">4</tspan></text>
<text x="123.52" y="792.6" font-size="3" text-anchor="middle" fill="#222">10<tspan dy="-1.2" font-size="2.2">5</tspan></text>
<text x="99.7" y="799.4" font-size="2.7" text-anchor="middle" fill="#222">APC-A</text>
<text x="0" y="0" transform="translate(57,753.9) rotate(-90)" font-size="2.7" text-anchor="middle" fill="#222">Count</text>
<text x="66.4" y="785" font-size="2.7" text-anchor="end" fill="#222">0</text>
<path d="M153.4 784.06L153.78 784.05L154.17 784.05L154.56 784.05L154.94 784.05L155.33 784.05L155.71 784.05L156.09 784.04L156.48 784.04L156.87 784.04L157.25 784.04L157.64 784.04L158.02 784.03L158.41 784.03L158.79 784.03L159.18 784.03L159.56 784.03L159.94 784.02L160.33 784.02L160.72 784.02L161.1 784.02L161.49 784.01L161.87 784.01L162.25 784.01L162.64 784L163.03 784L163.41 784L163.8 783.99L164.18 783.99L164.56 783.99L164.95 783.98L165.34 783.98L165.72 783.98L166.11 783.97L166.49 783.97L166.88 783.97L167.26 783.96L167.65 783.96L168.03 783.95L168.42 783.95L168.8 783.94L169.19 783.94L169.57 783.93L169.96 783.93L170.34 783.92L170.72 783.91L171.11 783.91L171.5 783.9L171.88 783.89L172.27 783.89L172.65 783.88L173.03 783.87L173.42 783.86L173.81 783.86L174.19 783.85L174.58 783.84L174.96 783.83L175.34 783.82L175.73 783.81L176.12 783.8L176.5 783.78L176.88 783.77L177.27 783.76L177.66 783.74L178.04 783.73L178.43 783.71L178.81 783.7L179.19 783.68L179.58 783.66L179.97 783.64L180.35 783.62L180.74 783.59L181.12 783.56L181.5 783.54L181.89 783.51L182.28 783.47L182.66 783.43L183.05 783.39L183.43 783.35L183.81 783.29L184.2 783.23L184.59 783.16L184.97 783.07L185.36 782.96L185.74 782.82L186.12 782.65L186.51 782.43L186.9 782.14L187.28 781.78L187.67 781.34L188.05 780.79L188.44 780.14L188.82 779.4L189.21 778.58L189.59 777.79L189.98 777.17L190.36 776.89L190.75 777.04L191.13 777.54L191.52 778.2L191.9 778.88L192.28 779.49L192.67 780L193.06 780.39L193.44 780.68L193.83 780.87L194.21 780.97L194.59 781L194.98 780.95L195.37 780.84L195.75 780.68L196.13 780.45L196.52 780.15L196.91 779.78L197.29 779.31L197.68 778.72L198.06 777.98L198.44 777.07L198.83 775.93L199.22 774.52L199.6 772.79L199.99 770.69L200.37 768.16L200.75 765.17L201.14 761.68L201.53 757.68L201.91 753.16L202.3 748.21L202.68 743.01L203.06 737.9L203.45 733.43L203.84 730.31L204.22 729.18L204.61 730.31L204.99 733.44L205.38 737.92L205.76 743.04L206.15 748.26L206.53 753.21L206.92 757.74L207.3 761.76L207.69 765.26L208.07 768.26L208.46 770.79L208.84 772.91L209.23 774.65L209.61 776.08L210 777.23L210.38 778.17L210.77 778.92L211.15 779.52L211.53 779.99L211.92 780.36L212.31 780.64L212.69 780.8L213.08 780.83L213.46 780.68L213.84 780.25L214.23 779.37L214.62 777.76L215 774.93" fill="none" stroke="#959595" stroke-width="0.5" stroke-dasharray="1.2 0.5"/>
<path d="M153.4 784.09L153.78 784.09L154.17 784.09L154.56 784.09L154.94 784.09L155.33 784.09L155.71 784.08L156.09 784.08L156.48 784.08L156.87 784.08L157.25 784.08L157.64 784.08L158.02 784.08L158.41 784.08L158.79 784.07L159.18 784.07L159.56 784.07L159.94 784.07L160.33 784.07L160.72 784.07L161.1 784.06L161.49 784.06L161.87 784.06L162.25 784.06L162.64 784.06L163.03 784.06L163.41 784.05L163.8 784.05L164.18 784.05L164.56 784.05L164.95 784.05L165.34 784.04L165.72 784.04L166.11 784.04L166.49 784.04L166.88 784.04L167.26 784.03L167.65 784.03L168.03 784.03L168.42 784.02L168.8 784.02L169.19 784.02L169.57 784.02L169.96 784.01L170.34 784.01L170.72 784.01L171.11 784L171.5 784L171.88 784L172.27 783.99L172.65 783.99L173.03 783.98L173.42 783.98L173.81 783.97L174.19 783.97L174.58 783.97L174.96 783.96L175.34 783.96L175.73 783.95L176.12 783.94L176.5 783.94L176.88 783.93L177.27 783.93L177.66 783.92L178.04 783.91L178.43 783.91L178.81 783.9L179.19 783.89L179.58 783.88L179.97 783.87L180.35 783.87L180.74 783.86L181.12 783.85L181.5 783.84L181.89 783.82L182.28 783.81L182.66 783.8L183.05 783.79L183.43 783.78L183.81 783.76L184.2 783.75L184.59 783.73L184.97 783.71L185.36 783.7L185.74 783.68L186.12 783.66L186.51 783.64L186.9 783.61L187.28 783.59L187.67 783.57L188.05 783.54L188.44 783.51L188.82 783.48L189.21 783.44L189.59 783.41L189.98 783.37L190.36 783.33L190.75 783.28L191.13 783.23L191.52 783.18L191.9 783.12L192.28 783.06L192.67 782.99L193.06 782.91L193.44 782.83L193.83 782.73L194.21 782.63L194.59 782.52L194.98 782.39L195.37 782.25L195.75 782.09L196.13 781.9L196.52 781.69L196.91 781.45L197.29 781.17L197.68 780.83L198.06 780.41L198.44 779.9L198.83 779.27L199.22 778.46L199.6 777.42L199.99 776.1L200.37 774.42L200.75 772.31L201.14 769.68L201.53 766.47L201.91 762.6L202.3 758.05L202.68 752.83L203.06 747.04L203.45 741.02L203.84 735.38L204.22 731.12L204.61 729.28L204.99 730.42L205.38 734.19L205.76 739.6L206.15 745.6L206.53 751.48L206.92 756.86L207.3 761.57L207.69 765.6L208.07 768.97L208.46 771.73L208.84 773.96L209.23 775.73L209.61 777.13L210 778.22L210.38 779.07L210.77 779.74L211.15 780.26L211.53 780.67L211.92 780.98L212.31 781.2L212.69 781.32L213.08 781.31L213.46 781.13L213.84 780.68L214.23 779.77L214.62 778.14L215 775.29" fill="none" stroke="#828282" stroke-width="0.5"/>
<rect x="153.4" y="723.4" width="61.6" height="61" fill="none" stroke="#5a5a5a" stroke-width="0.65"/>
<path d="M154.63 784.4v1.1M156.48 784.4v1.1M158.33 784.4v1.1M160.18 784.4v1.1M162.02 784.4v1.1M163.87 784.4v1.1M165.72 784.4v1.1M167.26 784.4v1.1M173.11 784.4v1.1M176.19 784.4v1.1M178.04 784.4v1.1M180.81 784.4v1.1M186.66 784.4v1.1M189.74 784.4v1.1M191.59 784.4v1.1M194.36 784.4v1.1M200.22 784.4v1.1M203.3 784.4v1.1M205.14 784.4v1.1M207.92 784.4v1.1M211.92 784.4v1.1M213.77 784.4v1.1" stroke="#777" stroke-width="0.4" fill="none"/>
<line x1="153.4" y1="785.1" x2="166.4" y2="785.1" stroke="#888" stroke-width="0.7" stroke-dasharray="0.6 0.5"/>
<text x="158.8" y="792.6" font-size="3" text-anchor="middle" fill="#222">0</text>
<text x="166.86" y="792.6" font-size="3" text-anchor="middle" fill="#222">10<tspan dy="-1.2" font-size="2.2">2</tspan></text>
<text x="180.41" y="792.6" font-size="3" text-anchor="middle" fill="#222">10<tspan dy="-1.2" font-size="2.2">3</tspan></text>
<text x="193.96" y="792.6" font-size="3" text-anchor="middle" fill="#222">10<tspan dy="-1.2" font-size="2.2">4</tspan></text>
<text x="207.52" y="792.6" font-size="3" text-anchor="middle" fill="#222">10<tspan dy="-1.2" font-size="2.2">5</tspan></text>
<text x="183.7" y="799.4" font-size="2.7" text-anchor="middle" fill="#222">APC-A</text>
<text x="0" y="0" transform="translate(141,753.9) rotate(-90)" font-size="2.7" text-anchor="middle" fill="#222">Count</text>
<text x="150.4" y="785" font-size="2.7" text-anchor="end" fill="#222">0</text>
<path d="M242.1 783.86L242.48 783.85L242.87 783.84L243.25 783.83L243.64 783.82L244.03 783.81L244.41 783.8L244.79 783.79L245.18 783.78L245.56 783.77L245.95 783.75L246.34 783.74L246.72 783.72L247.1 783.71L247.49 783.69L247.88 783.67L248.26 783.65L248.64 783.62L249.03 783.6L249.41 783.57L249.8 783.54L250.19 783.51L250.57 783.47L250.95 783.43L251.34 783.39L251.72 783.34L252.11 783.29L252.5 783.24L252.88 783.18L253.26 783.12L253.65 783.05L254.03 782.98L254.42 782.9L254.81 782.82L255.19 782.73L255.57 782.63L255.96 782.53L256.34 782.43L256.73 782.32L257.12 782.21L257.5 782.09L257.88 781.98L258.27 781.86L258.65 781.75L259.04 781.64L259.43 781.54L259.81 781.45L260.19 781.37L260.58 781.31L260.96 781.26L261.35 781.22L261.74 781.19L262.12 781.16L262.5 781.13L262.89 781.1L263.27 781.05L263.66 780.99L264.05 780.9L264.43 780.77L264.81 780.62L265.2 780.41L265.58 780.16L265.97 779.84L266.36 779.47L266.74 779.02L267.12 778.49L267.51 777.88L267.89 777.19L268.28 776.41L268.67 775.54L269.05 774.6L269.44 773.59L269.82 772.55L270.2 771.54L270.59 770.6L270.98 769.85L271.36 769.35L271.75 769.18L272.13 769.34L272.51 769.8L272.9 770.49L273.28 771.3L273.67 772.16L274.06 772.98L274.44 773.74L274.82 774.38L275.21 774.88L275.59 775.21L275.98 775.33L276.37 775.19L276.75 774.75L277.13 773.93L277.52 772.65L277.9 770.86L278.29 768.46L278.68 765.42L279.06 761.71L279.44 757.4L279.83 752.76L280.21 748.39L280.6 745.29L280.99 744.52L281.37 746.4L281.75 750.24L282.14 754.91L282.52 759.58L282.91 763.8L283.3 767.4L283.68 770.36L284.06 772.72L284.45 774.56L284.83 775.94L285.22 776.95L285.61 777.66L285.99 778.12L286.38 778.4L286.76 778.52L287.14 778.5L287.53 778.34L287.92 778.02L288.3 777.52L288.69 776.8L289.07 775.78L289.45 774.39L289.84 772.56L290.23 770.19L290.61 767.2L291 763.51L291.38 759.08L291.76 753.93L292.15 748.21L292.53 742.34L292.92 737.18L293.31 733.93L293.69 733.65L294.07 736.45L294.46 741.41L294.84 747.3L295.23 753.18L295.62 758.56L296 763.23L296.38 767.17L296.77 770.4L297.15 773L297.54 775.06L297.93 776.66L298.31 777.89L298.69 778.84L299.08 779.57L299.46 780.14L299.85 780.58L300.24 780.92L300.62 781.18L301 781.36L301.39 781.45L301.77 781.42L302.16 781.21L302.55 780.74L302.93 779.82L303.31 778.17L303.7 775.31" fill="none" stroke="#959595" stroke-width="0.5" stroke-dasharray="1.2 0.5"/>
<path d="M242.1 784.11L242.48 784.11L242.87 784.11L243.25 784.11L243.64 784.11L244.03 784.11L244.41 784.11L244.79 784.11L245.18 784.1L245.56 784.1L245.95 784.1L246.34 784.1L246.72 784.1L247.1 784.1L247.49 784.1L247.88 784.1L248.26 784.1L248.64 784.1L249.03 784.1L249.41 784.09L249.8 784.09L250.19 784.09L250.57 784.09L250.95 784.09L251.34 784.09L251.72 784.09L252.11 784.09L252.5 784.08L252.88 784.08L253.26 784.08L253.65 784.08L254.03 784.08L254.42 784.08L254.81 784.08L255.19 784.07L255.57 784.07L255.96 784.07L256.34 784.07L256.73 784.07L257.12 784.07L257.5 784.06L257.88 784.06L258.27 784.06L258.65 784.06L259.04 784.06L259.43 784.05L259.81 784.05L260.19 784.05L260.58 784.05L260.96 784.04L261.35 784.04L261.74 784.04L262.12 784.04L262.5 784.03L262.89 784.03L263.27 784.03L263.66 784.02L264.05 784.02L264.43 784.02L264.81 784.01L265.2 784.01L265.58 784L265.97 784L266.36 784L266.74 783.99L267.12 783.99L267.51 783.98L267.89 783.98L268.28 783.97L268.67 783.97L269.05 783.96L269.44 783.95L269.82 783.95L270.2 783.94L270.59 783.93L270.98 783.93L271.36 783.92L271.75 783.91L272.13 783.9L272.51 783.89L272.9 783.88L273.28 783.87L273.67 783.86L274.06 783.85L274.44 783.84L274.82 783.83L275.21 783.81L275.59 783.8L275.98 783.78L276.37 783.77L276.75 783.75L277.13 783.73L277.52 783.71L277.9 783.69L278.29 783.67L278.68 783.65L279.06 783.62L279.44 783.59L279.83 783.56L280.21 783.53L280.6 783.49L280.99 783.45L281.37 783.41L281.75 783.37L282.14 783.32L282.52 783.26L282.91 783.2L283.3 783.13L283.68 783.06L284.06 782.98L284.45 782.88L284.83 782.78L285.22 782.66L285.61 782.53L285.99 782.38L286.38 782.21L286.76 782.01L287.14 781.78L287.53 781.51L287.92 781.17L288.3 780.77L288.69 780.25L289.07 779.59L289.45 778.72L289.84 777.56L290.23 776L290.61 773.94L291 771.25L291.38 767.79L291.76 763.46L292.15 758.18L292.53 751.95L292.92 745.01L293.31 737.98L293.69 732.18L294.07 729.34L294.46 730.59L294.84 735.42L295.23 742.15L295.62 749.24L296 755.79L296.38 761.46L296.77 766.17L297.15 769.97L297.54 772.95L297.93 775.24L298.31 776.98L298.69 778.28L299.08 779.26L299.46 779.99L299.85 780.54L300.24 780.96L300.62 781.27L301 781.48L301.39 781.6L301.77 781.59L302.16 781.4L302.55 780.94L302.93 780.03L303.31 778.39L303.7 775.52" fill="none" stroke="#828282" stroke-width="0.5"/>
<rect x="242.1" y="723.4" width="61.6" height="61" fill="none" stroke="#5a5a5a" stroke-width="0.65"/>
<path d="M243.33 784.4v1.1M245.18 784.4v1.1M247.03 784.4v1.1M248.88 784.4v1.1M250.72 784.4v1.1M252.57 784.4v1.1M254.42 784.4v1.1M255.96 784.4v1.1M261.81 784.4v1.1M264.89 784.4v1.1M266.74 784.4v1.1M269.51 784.4v1.1M275.36 784.4v1.1M278.44 784.4v1.1M280.29 784.4v1.1M283.06 784.4v1.1M288.92 784.4v1.1M292 784.4v1.1M293.84 784.4v1.1M296.62 784.4v1.1M300.62 784.4v1.1M302.47 784.4v1.1" stroke="#777" stroke-width="0.4" fill="none"/>
<line x1="242.1" y1="785.1" x2="255.1" y2="785.1" stroke="#888" stroke-width="0.7" stroke-dasharray="0.6 0.5"/>
<text x="247.5" y="792.6" font-size="3" text-anchor="middle" fill="#222">0</text>
<text x="255.56" y="792.6" font-size="3" text-anchor="middle" fill="#222">10<tspan dy="-1.2" font-size="2.2">2</tspan></text>
<text x="269.11" y="792.6" font-size="3" text-anchor="middle" fill="#222">10<tspan dy="-1.2" font-size="2.2">3</tspan></text>
<text x="282.66" y="792.6" font-size="3" text-anchor="middle" fill="#222">10<tspan dy="-1.2" font-size="2.2">4</tspan></text>
<text x="296.22" y="792.6" font-size="3" text-anchor="middle" fill="#222">10<tspan dy="-1.2" font-size="2.2">5</tspan></text>
<text x="272.4" y="799.4" font-size="2.7" text-anchor="middle" fill="#222">APC-A</text>
<text x="0" y="0" transform="translate(229.7,753.9) rotate(-90)" font-size="2.7" text-anchor="middle" fill="#222">Count</text>
<text x="239.1" y="785" font-size="2.7" text-anchor="end" fill="#222">0</text>
<path d="M330.7 784.06L331.08 784.06L331.47 784.06L331.85 784.05L332.24 784.05L332.62 784.05L333.01 784.05L333.39 784.05L333.78 784.04L334.16 784.04L334.55 784.04L334.94 784.04L335.32 784.04L335.7 784.03L336.09 784.03L336.47 784.03L336.86 784.03L337.25 784.02L337.63 784.02L338.01 784.02L338.4 784.01L338.78 784.01L339.17 784.01L339.56 784.01L339.94 784L340.32 784L340.71 784L341.09 783.99L341.48 783.99L341.87 783.98L342.25 783.98L342.63 783.98L343.02 783.97L343.4 783.97L343.79 783.96L344.18 783.96L344.56 783.95L344.94 783.95L345.33 783.94L345.71 783.94L346.1 783.93L346.49 783.92L346.87 783.92L347.25 783.91L347.64 783.9L348.02 783.9L348.41 783.89L348.8 783.88L349.18 783.87L349.56 783.86L349.95 783.85L350.33 783.84L350.72 783.83L351.11 783.82L351.49 783.81L351.88 783.8L352.26 783.79L352.64 783.77L353.03 783.76L353.41 783.74L353.8 783.72L354.19 783.71L354.57 783.69L354.95 783.67L355.34 783.65L355.72 783.62L356.11 783.6L356.5 783.57L356.88 783.54L357.26 783.51L357.65 783.47L358.03 783.43L358.42 783.39L358.81 783.34L359.19 783.29L359.57 783.23L359.96 783.16L360.34 783.08L360.73 782.99L361.12 782.88L361.5 782.75L361.88 782.59L362.27 782.4L362.65 782.15L363.04 781.84L363.43 781.46L363.81 780.98L364.19 780.4L364.58 779.69L364.96 778.86L365.35 777.88L365.74 776.78L366.12 775.56L366.5 774.31L366.89 773.16L367.27 772.29L367.66 771.9L368.04 772.06L368.43 772.7L368.81 773.59L369.2 774.54L369.58 775.4L369.97 776.09L370.36 776.56L370.74 776.8L371.12 776.8L371.51 776.57L371.89 776.15L372.28 775.6L372.66 775.07L373.05 774.74L373.44 774.75L373.82 775.1L374.2 775.63L374.59 776.16L374.97 776.56L375.36 776.78L375.75 776.75L376.13 776.46L376.51 775.85L376.9 774.88L377.28 773.49L377.67 771.63L378.06 769.24L378.44 766.25L378.82 762.61L379.21 758.31L379.59 753.36L379.98 747.9L380.37 742.26L380.75 737.07L381.13 733.3L381.52 731.92L381.9 733.36L382.29 737.19L382.68 742.43L383.06 748.13L383.44 753.66L383.83 758.68L384.21 763.07L384.6 766.81L384.99 769.93L385.37 772.49L385.75 774.55L386.14 776.19L386.52 777.48L386.91 778.49L387.29 779.28L387.68 779.9L388.06 780.4L388.45 780.79L388.83 781.09L389.22 781.33L389.61 781.49L389.99 781.56L390.38 781.52L390.76 781.31L391.14 780.83L391.53 779.91L391.91 778.25L392.3 775.38" fill="none" stroke="#959595" stroke-width="0.5" stroke-dasharray="1.2 0.5"/>
<path d="M330.7 784.1L331.08 784.1L331.47 784.1L331.85 784.1L332.24 784.1L332.62 784.1L333.01 784.09L333.39 784.09L333.78 784.09L334.16 784.09L334.55 784.09L334.94 784.09L335.32 784.09L335.7 784.09L336.09 784.09L336.47 784.08L336.86 784.08L337.25 784.08L337.63 784.08L338.01 784.08L338.4 784.08L338.78 784.08L339.17 784.08L339.56 784.07L339.94 784.07L340.32 784.07L340.71 784.07L341.09 784.07L341.48 784.07L341.87 784.06L342.25 784.06L342.63 784.06L343.02 784.06L343.4 784.06L343.79 784.06L344.18 784.05L344.56 784.05L344.94 784.05L345.33 784.05L345.71 784.04L346.1 784.04L346.49 784.04L346.87 784.04L347.25 784.03L347.64 784.03L348.02 784.03L348.41 784.03L348.8 784.02L349.18 784.02L349.56 784.02L349.95 784.01L350.33 784.01L350.72 784.01L351.11 784L351.49 784L351.88 783.99L352.26 783.99L352.64 783.99L353.03 783.98L353.41 783.98L353.8 783.97L354.19 783.97L354.57 783.96L354.95 783.95L355.34 783.95L355.72 783.94L356.11 783.94L356.5 783.93L356.88 783.92L357.26 783.92L357.65 783.91L358.03 783.9L358.42 783.89L358.81 783.88L359.19 783.87L359.57 783.86L359.96 783.85L360.34 783.84L360.73 783.83L361.12 783.82L361.5 783.81L361.88 783.79L362.27 783.78L362.65 783.76L363.04 783.75L363.43 783.73L363.81 783.71L364.19 783.69L364.58 783.67L364.96 783.65L365.35 783.63L365.74 783.6L366.12 783.58L366.5 783.55L366.89 783.52L367.27 783.48L367.66 783.45L368.04 783.41L368.43 783.37L368.81 783.32L369.2 783.27L369.58 783.22L369.97 783.16L370.36 783.09L370.74 783.02L371.12 782.94L371.51 782.85L371.89 782.75L372.28 782.64L372.66 782.52L373.05 782.38L373.44 782.22L373.82 782.04L374.2 781.84L374.59 781.6L374.97 781.32L375.36 780.98L375.75 780.57L376.13 780.05L376.51 779.39L376.9 778.54L377.28 777.43L377.67 775.99L378.06 774.12L378.44 771.73L378.82 768.71L379.21 764.98L379.59 760.46L379.98 755.13L380.37 749.08L380.75 742.58L381.13 736.31L381.52 731.43L381.9 729.28L382.29 730.62L382.68 734.96L383.06 741.02L383.44 747.54L383.83 753.74L384.21 759.25L384.6 763.97L384.99 767.88L385.37 771.07L385.75 773.6L386.14 775.58L386.52 777.12L386.91 778.29L387.29 779.2L387.68 779.89L388.06 780.43L388.45 780.85L388.83 781.18L389.22 781.42L389.61 781.59L389.99 781.68L390.38 781.64L390.76 781.43L391.14 780.95L391.53 780.03L391.91 778.38L392.3 775.51" fill="none" stroke="#828282" stroke-width="0.5"/>
<rect x="330.7" y="723.4" width="61.6" height="61" fill="none" stroke="#5a5a5a" stroke-width="0.65"/>
<path d="M331.93 784.4v1.1M333.78 784.4v1.1M335.63 784.4v1.1M337.48 784.4v1.1M339.32 784.4v1.1M341.17 784.4v1.1M343.02 784.4v1.1M344.56 784.4v1.1M350.41 784.4v1.1M353.49 784.4v1.1M355.34 784.4v1.1M358.11 784.4v1.1M363.96 784.4v1.1M367.04 784.4v1.1M368.89 784.4v1.1M371.66 784.4v1.1M377.52 784.4v1.1M380.6 784.4v1.1M382.44 784.4v1.1M385.22 784.4v1.1M389.22 784.4v1.1M391.07 784.4v1.1" stroke="#777" stroke-width="0.4" fill="none"/>
<line x1="330.7" y1="785.1" x2="343.7" y2="785.1" stroke="#888" stroke-width="0.7" stroke-dasharray="0.6 0.5"/>
<text x="336.1" y="792.6" font-size="3" text-anchor="middle" fill="#222">0</text>
<text x="344.16" y="792.6" font-size="3" text-anchor="middle" fill="#222">10<tspan dy="-1.2" font-size="2.2">2</tspan></text>
<text x="357.71" y="792.6" font-size="3" text-anchor="middle" fill="#222">10<tspan dy="-1.2" font-size="2.2">3</tspan></text>
<text x="371.26" y="792.6" font-size="3" text-anchor="middle" fill="#222">10<tspan dy="-1.2" font-size="2.2">4</tspan></text>
<text x="384.82" y="792.6" font-size="3" text-anchor="middle" fill="#222">10<tspan dy="-1.2" font-size="2.2">5</tspan></text>
<text x="361" y="799.4" font-size="2.7" text-anchor="middle" fill="#222">APC-A</text>
<text x="0" y="0" transform="translate(318.3,753.9) rotate(-90)" font-size="2.7" text-anchor="middle" fill="#222">Count</text>
<text x="327.7" y="785" font-size="2.7" text-anchor="end" fill="#222">0</text>
<path d="M419.5 784.07L419.88 784.07L420.27 784.07L420.65 784.07L421.04 784.07L421.43 784.07L421.81 784.07L422.19 784.06L422.58 784.06L422.96 784.06L423.35 784.06L423.74 784.06L424.12 784.05L424.5 784.05L424.89 784.05L425.27 784.05L425.66 784.05L426.05 784.04L426.43 784.04L426.81 784.04L427.2 784.04L427.58 784.04L427.97 784.03L428.36 784.03L428.74 784.03L429.12 784.02L429.51 784.02L429.89 784.02L430.28 784.02L430.67 784.01L431.05 784.01L431.44 784.01L431.82 784L432.2 784L432.59 783.99L432.98 783.99L433.36 783.99L433.75 783.98L434.13 783.98L434.51 783.97L434.9 783.97L435.29 783.96L435.67 783.96L436.06 783.95L436.44 783.94L436.82 783.94L437.21 783.93L437.6 783.93L437.98 783.92L438.37 783.91L438.75 783.9L439.13 783.89L439.52 783.89L439.9 783.88L440.29 783.87L440.68 783.85L441.06 783.84L441.44 783.83L441.83 783.82L442.22 783.81L442.6 783.79L442.99 783.78L443.37 783.76L443.75 783.74L444.14 783.72L444.52 783.7L444.91 783.68L445.3 783.65L445.68 783.62L446.06 783.59L446.45 783.56L446.83 783.52L447.22 783.48L447.61 783.43L447.99 783.38L448.38 783.31L448.76 783.23L449.14 783.14L449.53 783.03L449.92 782.89L450.3 782.72L450.69 782.52L451.07 782.27L451.45 781.97L451.84 781.62L452.23 781.19L452.61 780.7L453 780.14L453.38 779.49L453.76 778.78L454.15 778.03L454.53 777.26L454.92 776.55L455.31 775.99L455.69 775.68L456.07 775.68L456.46 775.99L456.85 776.54L457.23 777.21L457.62 777.92L458 778.61L458.38 779.25L458.77 779.81L459.15 780.29L459.54 780.7L459.93 781.03L460.31 781.3L460.69 781.5L461.08 781.64L461.47 781.74L461.85 781.79L462.24 781.8L462.62 781.77L463 781.71L463.39 781.62L463.77 781.49L464.16 781.33L464.55 781.13L464.93 780.88L465.31 780.57L465.7 780.18L466.08 779.68L466.47 779.05L466.86 778.23L467.24 777.16L467.62 775.78L468.01 774L468.39 771.75L468.78 768.93L469.17 765.46L469.55 761.29L469.94 756.39L470.32 750.82L470.7 744.77L471.09 738.75L471.48 733.68L471.86 730.72L472.25 730.79L472.63 733.86L473.01 739.01L473.4 745.06L473.78 751.1L474.17 756.67L474.56 761.55L474.94 765.71L475.32 769.16L475.71 771.97L476.1 774.21L476.48 775.98L476.87 777.36L477.25 778.42L477.63 779.22L478.02 779.83L478.4 780.27L478.79 780.55L479.18 780.67L479.56 780.59L479.94 780.21L480.33 779.36L480.72 777.78L481.1 774.97" fill="none" stroke="#959595" stroke-width="0.5" stroke-dasharray="1.2 0.5"/>
<path d="M419.5 784.11L419.88 784.11L420.27 784.11L420.65 784.11L421.04 784.11L421.43 784.11L421.81 784.11L422.19 784.11L422.58 784.11L422.96 784.11L423.35 784.1L423.74 784.1L424.12 784.1L424.5 784.1L424.89 784.1L425.27 784.1L425.66 784.1L426.05 784.1L426.43 784.1L426.81 784.1L427.2 784.1L427.58 784.09L427.97 784.09L428.36 784.09L428.74 784.09L429.12 784.09L429.51 784.09L429.89 784.09L430.28 784.09L430.67 784.08L431.05 784.08L431.44 784.08L431.82 784.08L432.2 784.08L432.59 784.08L432.98 784.08L433.36 784.07L433.75 784.07L434.13 784.07L434.51 784.07L434.9 784.07L435.29 784.07L435.67 784.06L436.06 784.06L436.44 784.06L436.82 784.06L437.21 784.06L437.6 784.05L437.98 784.05L438.37 784.05L438.75 784.05L439.13 784.04L439.52 784.04L439.9 784.04L440.29 784.04L440.68 784.03L441.06 784.03L441.44 784.03L441.83 784.02L442.22 784.02L442.6 784.02L442.99 784.01L443.37 784.01L443.75 784.01L444.14 784L444.52 784L444.91 783.99L445.3 783.99L445.68 783.98L446.06 783.98L446.45 783.97L446.83 783.97L447.22 783.96L447.61 783.95L447.99 783.95L448.38 783.94L448.76 783.93L449.14 783.93L449.53 783.92L449.92 783.91L450.3 783.9L450.69 783.89L451.07 783.88L451.45 783.87L451.84 783.86L452.23 783.85L452.61 783.84L453 783.83L453.38 783.81L453.76 783.8L454.15 783.79L454.53 783.77L454.92 783.75L455.31 783.73L455.69 783.71L456.07 783.69L456.46 783.67L456.85 783.65L457.23 783.62L457.62 783.59L458 783.56L458.38 783.53L458.77 783.5L459.15 783.46L459.54 783.42L459.93 783.37L460.31 783.32L460.69 783.27L461.08 783.21L461.47 783.14L461.85 783.06L462.24 782.98L462.62 782.89L463 782.79L463.39 782.67L463.77 782.54L464.16 782.39L464.55 782.22L464.93 782.03L465.31 781.8L465.7 781.53L466.08 781.2L466.47 780.8L466.86 780.3L467.24 779.65L467.62 778.8L468.01 777.66L468.39 776.14L468.78 774.13L469.17 771.49L469.55 768.1L469.94 763.84L470.32 758.63L470.7 752.48L471.09 745.58L471.48 738.52L471.86 732.56L472.25 729.42L472.63 730.35L473.01 734.94L473.4 741.58L473.78 748.69L474.17 755.3L474.56 761.04L474.94 765.83L475.32 769.69L475.71 772.73L476.1 775.08L476.48 776.85L476.87 778.18L477.25 779.16L477.63 779.89L478.02 780.42L478.4 780.8L478.79 781.03L479.18 781.11L479.56 780.99L479.94 780.58L480.33 779.72L480.72 778.11L481.1 775.28" fill="none" stroke="#828282" stroke-width="0.5"/>
<rect x="419.5" y="723.4" width="61.6" height="61" fill="none" stroke="#5a5a5a" stroke-width="0.65"/>
<path d="M420.73 784.4v1.1M422.58 784.4v1.1M424.43 784.4v1.1M426.28 784.4v1.1M428.12 784.4v1.1M429.97 784.4v1.1M431.82 784.4v1.1M433.36 784.4v1.1M439.21 784.4v1.1M442.29 784.4v1.1M444.14 784.4v1.1M446.91 784.4v1.1M452.76 784.4v1.1M455.84 784.4v1.1M457.69 784.4v1.1M460.46 784.4v1.1M466.32 784.4v1.1M469.4 784.4v1.1M471.24 784.4v1.1M474.02 784.4v1.1M478.02 784.4v1.1M479.87 784.4v1.1" stroke="#777" stroke-width="0.4" fill="none"/>
<line x1="419.5" y1="785.1" x2="432.5" y2="785.1" stroke="#888" stroke-width="0.7" stroke-dasharray="0.6 0.5"/>
<text x="424.9" y="792.6" font-size="3" text-anchor="middle" fill="#222">0</text>
<text x="432.96" y="792.6" font-size="3" text-anchor="middle" fill="#222">10<tspan dy="-1.2" font-size="2.2">2</tspan></text>
<text x="446.51" y="792.6" font-size="3" text-anchor="middle" fill="#222">10<tspan dy="-1.2" font-size="2.2">3</tspan></text>
<text x="460.06" y="792.6" font-size="3" text-anchor="middle" fill="#222">10<tspan dy="-1.2" font-size="2.2">4</tspan></text>
<text x="473.62" y="792.6" font-size="3" text-anchor="middle" fill="#222">10<tspan dy="-1.2" font-size="2.2">5</tspan></text>
<text x="449.8" y="799.4" font-size="2.7" text-anchor="middle" fill="#222">APC-A</text>
<text x="0" y="0" transform="translate(407.1,753.9) rotate(-90)" font-size="2.7" text-anchor="middle" fill="#222">Count</text>
<text x="416.5" y="785" font-size="2.7" text-anchor="end" fill="#222">0</text>
<text x="223.9" y="813.1" font-size="10.55" fill="#111">CellTrace Far Red</text>
<line x1="163.3" y1="819.3" x2="362" y2="819.3" stroke="#000" stroke-width="1.2"/>
<path d="M367.4 819.3L357.8 815.4L360.6 819.3L357.8 823.2Z" fill="#000"/>
</g>
<g id="panel-f">
<text x="514.8" y="337.2" font-size="18.8" font-weight="bold" fill="#000">f</text>
<text x="583.9" y="350.2" font-size="10.2" text-anchor="middle" fill="#111">0 h</text>
<text x="713.5" y="350.2" font-size="10.2" text-anchor="middle" fill="#111">3 h</text>
<text x="581.3" y="467.3" font-size="10.2" text-anchor="middle" fill="#111">6 h</text>
<text x="713.5" y="467.3" font-size="10.2" text-anchor="middle" fill="#111">9 h</text>
<text x="583.9" y="588" font-size="10.2" text-anchor="middle" fill="#111">12 h</text>
<text x="716.4" y="588" font-size="10.2" text-anchor="middle" fill="#111">15 h</text>
<text x="587.5" y="706.6" font-size="10.2" text-anchor="middle" fill="#111">18 h</text>
<text x="716.4" y="706.6" font-size="10.2" text-anchor="middle" fill="#111">21 h</text>
<g clip-path="url(#c0)">
<clipPath id="c0"><rect x="521.1" y="356.4" width="123.6" height="98.2"/></clipPath>
<rect x="521.1" y="356.4" width="123.6" height="98.2" fill="url(#bgg)"/>
<g filter="url(#b2)">
</g>
<g filter="url(#b3)">
</g>
<g filter="url(#b1)">
<ellipse cx="559.27" cy="366.98" rx="6.07" ry="3.12" fill="#baee64" opacity="1" transform="rotate(15 559.27 366.98)"/>
<ellipse cx="540.71" cy="384.34" rx="4.86" ry="4.86" fill="#c2ec84" opacity="0.61"/>
<ellipse cx="546.26" cy="394.23" rx="4.34" ry="5.21" fill="#c3ec88" opacity="0.56"/>
<ellipse cx="560.49" cy="385.55" rx="4.86" ry="5.21" fill="#bfed7a" opacity="0.74"/>
<ellipse cx="569.69" cy="390.76" rx="4.86" ry="6.94" fill="#beed76" opacity="0.79" transform="rotate(-10 569.69 390.76)"/>
<ellipse cx="583.05" cy="392.15" rx="5.21" ry="4.86" fill="#c1ec81" opacity="0.65"/>
<ellipse cx="591.9" cy="382.95" rx="4.34" ry="5.55" fill="#c3ec88" opacity="0.56" transform="rotate(10 591.9 382.95)"/>
<ellipse cx="576.63" cy="379.48" rx="5.21" ry="4.34" fill="#c8eb9e" opacity="0.28"/>
<ellipse cx="581.83" cy="368.2" rx="3.47" ry="3.47" fill="#caeaa3" opacity="0.21"/>
<ellipse cx="580.44" cy="408.11" rx="3.47" ry="3.47" fill="#baee64" opacity="1" transform="rotate(-20 580.44 408.11)"/>
<ellipse cx="627.82" cy="378.61" rx="6.07" ry="5.21" fill="#bcee6b" opacity="0.93"/>
<ellipse cx="633.02" cy="371.67" rx="3.82" ry="3.82" fill="#bfed7a" opacity="0.74"/>
<ellipse cx="634.76" cy="382.08" rx="4.34" ry="3.12" fill="#beed72" opacity="0.84"/>
<ellipse cx="549.38" cy="414.18" rx="6.07" ry="3.47" fill="#c5ec8f" opacity="0.47"/>
<ellipse cx="575.24" cy="419.74" rx="2.6" ry="3.47" fill="#c1ec81" opacity="0.65"/>
<ellipse cx="580.1" cy="422.86" rx="3.47" ry="3.47" fill="#c3ec88" opacity="0.56"/>
<ellipse cx="593.46" cy="424.59" rx="4.86" ry="5.73" fill="#bded6f" opacity="0.88" transform="rotate(-10 593.46 424.59)"/>
<ellipse cx="605.78" cy="426.85" rx="4.69" ry="4.34" fill="#baee64" opacity="1"/>
<ellipse cx="565.69" cy="427.2" rx="3.82" ry="6.07" fill="#c4ec8c" opacity="0.51" transform="rotate(-20 565.69 427.2)"/>
<ellipse cx="583.22" cy="430.15" rx="4.86" ry="3.82" fill="#c5ec8f" opacity="0.47"/>
<ellipse cx="586.52" cy="437.61" rx="4.34" ry="3.82" fill="#c1ec81" opacity="0.65"/>
<ellipse cx="554.94" cy="439.34" rx="5.21" ry="3.47" fill="#c1ec81" opacity="0.65" transform="rotate(-35 554.94 439.34)"/>
</g>
<g filter="url(#b3)"><ellipse cx="559.27" cy="366.98" rx="3.77" ry="1.94" fill="#d2fa82" opacity="0.95" transform="rotate(15 559.27 366.98)"/><ellipse cx="580.44" cy="408.11" rx="2.15" ry="2.15" fill="#d2fa82" opacity="0.95" transform="rotate(-20 580.44 408.11)"/><ellipse cx="627.82" cy="378.61" rx="3.77" ry="3.23" fill="#d2fa82" opacity="0.95"/><ellipse cx="634.76" cy="382.08" rx="2.69" ry="1.94" fill="#d2fa82" opacity="0.95"/><ellipse cx="593.46" cy="424.59" rx="3.01" ry="3.55" fill="#d2fa82" opacity="0.95" transform="rotate(-10 593.46 424.59)"/><ellipse cx="605.78" cy="426.85" rx="2.9" ry="2.69" fill="#d2fa82" opacity="0.95"/></g>
<g filter="url(#b0)">
<circle cx="563.36" cy="363.76" r="1.45" fill="#d2d2d2" stroke="#5c5c5c" stroke-width="0.55"/>
<circle cx="563.46" cy="363.52" r="1.25" fill="#d2d2d2" stroke="#5c5c5c" stroke-width="0.55"/>
<circle cx="568.57" cy="365.27" r="1.28" fill="#d2d2d2" stroke="#5c5c5c" stroke-width="0.55"/>
<circle cx="567.51" cy="361.97" r="1.08" fill="#d2d2d2" stroke="#5c5c5c" stroke-width="0.55"/>
<circle cx="571.03" cy="364.68" r="1.32" fill="#d2d2d2" stroke="#5c5c5c" stroke-width="0.55"/>
<circle cx="572.06" cy="363.89" r="1.48" fill="#d2d2d2" stroke="#5c5c5c" stroke-width="0.55"/>
<circle cx="546.64" cy="365.7" r="0.99" fill="#d2d2d2" stroke="#5c5c5c" stroke-width="0.55"/>
<circle cx="554.75" cy="369.42" r="0.94" fill="#d2d2d2" stroke="#5c5c5c" stroke-width="0.55"/>
<circle cx="550.98" cy="371.45" r="0.92" fill="#d2d2d2" stroke="#5c5c5c" stroke-width="0.55"/>
<circle cx="545.24" cy="369.84" r="1.41" fill="#d2d2d2" stroke="#5c5c5c" stroke-width="0.55"/>
<circle cx="544.22" cy="368.57" r="1.2" fill="#d2d2d2" stroke="#5c5c5c" stroke-width="0.55"/>
<circle cx="547.28" cy="366.07" r="1.07" fill="#d2d2d2" stroke="#5c5c5c" stroke-width="0.55"/>
<circle cx="636.48" cy="367.23" r="1.4" fill="#d2d2d2" stroke="#5c5c5c" stroke-width="0.55"/>
<circle cx="628.53" cy="363.57" r="1.04" fill="#d2d2d2" stroke="#5c5c5c" stroke-width="0.55"/>
<circle cx="629.1" cy="369.12" r="1.36" fill="#d2d2d2" stroke="#5c5c5c" stroke-width="0.55"/>
<circle cx="624.37" cy="371.07" r="1.13" fill="#d2d2d2" stroke="#5c5c5c" stroke-width="0.55"/>
<circle cx="635.72" cy="365.67" r="0.9" fill="#d2d2d2" stroke="#5c5c5c" stroke-width="0.55"/>
<circle cx="631.21" cy="373.74" r="1.18" fill="#d2d2d2" stroke="#5c5c5c" stroke-width="0.55"/>
<circle cx="633.89" cy="366.79" r="0.94" fill="#d2d2d2" stroke="#5c5c5c" stroke-width="0.55"/>
<circle cx="625.34" cy="362.88" r="1.06" fill="#d2d2d2" stroke="#5c5c5c" stroke-width="0.55"/>
<circle cx="630.35" cy="387.98" r="1.48" fill="#d2d2d2" stroke="#5c5c5c" stroke-width="0.55"/>
<circle cx="626.23" cy="384.63" r="1.05" fill="#d2d2d2" stroke="#5c5c5c" stroke-width="0.55"/>
<circle cx="627.79" cy="387.17" r="1.38" fill="#d2d2d2" stroke="#5c5c5c" stroke-width="0.55"/>
<circle cx="628.93" cy="389.92" r="1.17" fill="#d2d2d2" stroke="#5c5c5c" stroke-width="0.55"/>
<circle cx="628.78" cy="390.57" r="0.98" fill="#d2d2d2" stroke="#5c5c5c" stroke-width="0.55"/>
<circle cx="593.38" cy="417.13" r="1.15" fill="#d2d2d2" stroke="#5c5c5c" stroke-width="0.55"/>
<circle cx="595.68" cy="421.15" r="1.48" fill="#d2d2d2" stroke="#5c5c5c" stroke-width="0.55"/>
<circle cx="596.11" cy="415.81" r="1.43" fill="#d2d2d2" stroke="#5c5c5c" stroke-width="0.55"/>
<circle cx="595.91" cy="421.69" r="1.41" fill="#d2d2d2" stroke="#5c5c5c" stroke-width="0.55"/>
<circle cx="593.46" cy="417.24" r="1.49" fill="#d2d2d2" stroke="#5c5c5c" stroke-width="0.55"/>
<circle cx="595.65" cy="421.1" r="1.36" fill="#d2d2d2" stroke="#5c5c5c" stroke-width="0.55"/>
<circle cx="593.05" cy="421.01" r="0.94" fill="#d2d2d2" stroke="#5c5c5c" stroke-width="0.55"/>
<circle cx="599.32" cy="420.65" r="1.05" fill="#d2d2d2" stroke="#5c5c5c" stroke-width="0.55"/>
<circle cx="551.53" cy="415.14" r="1.17" fill="#d2d2d2" stroke="#5c5c5c" stroke-width="0.55"/>
<circle cx="559.61" cy="416.43" r="1.24" fill="#d2d2d2" stroke="#5c5c5c" stroke-width="0.55"/>
<circle cx="556.92" cy="415.45" r="0.99" fill="#d2d2d2" stroke="#5c5c5c" stroke-width="0.55"/>
<circle cx="560.2" cy="414.24" r="1.05" fill="#d2d2d2" stroke="#5c5c5c" stroke-width="0.55"/>
<circle cx="557.14" cy="423.2" r="1.46" fill="#d2d2d2" stroke="#5c5c5c" stroke-width="0.55"/>
<circle cx="557.16" cy="424.04" r="1.43" fill="#d2d2d2" stroke="#5c5c5c" stroke-width="0.55"/>
<circle cx="633.8" cy="401.72" r="0.96" fill="#d2d2d2" stroke="#5c5c5c" stroke-width="0.55"/>
<circle cx="641.45" cy="405" r="1.04" fill="#d2d2d2" stroke="#5c5c5c" stroke-width="0.55"/>
<circle cx="635.75" cy="401.24" r="1.39" fill="#d2d2d2" stroke="#5c5c5c" stroke-width="0.55"/>
<circle cx="634.17" cy="402.16" r="1.01" fill="#d2d2d2" stroke="#5c5c5c" stroke-width="0.55"/>
<circle cx="531.33" cy="379.91" r="1.16" fill="#d2d2d2" stroke="#5c5c5c" stroke-width="0.55"/>
<circle cx="596.57" cy="384.8" r="1.35" fill="#d2d2d2" stroke="#5c5c5c" stroke-width="0.55"/>
<circle cx="533.7" cy="383.75" r="1.1" fill="#d2d2d2" stroke="#5c5c5c" stroke-width="0.55"/>
<circle cx="546.45" cy="392.39" r="1.16" fill="#d2d2d2" stroke="#5c5c5c" stroke-width="0.55"/>
<circle cx="561.29" cy="437.69" r="1.39" fill="#d2d2d2" stroke="#5c5c5c" stroke-width="0.55"/>
<circle cx="587.55" cy="411.1" r="0.93" fill="#d2d2d2" stroke="#5c5c5c" stroke-width="0.55"/>
<circle cx="533.81" cy="439.36" r="1.24" fill="#d2d2d2" stroke="#5c5c5c" stroke-width="0.55"/>
<circle cx="525.64" cy="418.33" r="1.12" fill="#d2d2d2" stroke="#5c5c5c" stroke-width="0.55"/>
<circle cx="561.24" cy="452.54" r="0.89" fill="#d2d2d2" stroke="#5c5c5c" stroke-width="0.55"/>
<circle cx="591.21" cy="438.49" r="1.26" fill="#d2d2d2" stroke="#5c5c5c" stroke-width="0.55"/>
<circle cx="595.7" cy="439.78" r="1.04" fill="#d2d2d2" stroke="#5c5c5c" stroke-width="0.55"/>
<circle cx="604.28" cy="435.97" r="1.08" fill="#d2d2d2" stroke="#5c5c5c" stroke-width="0.55"/>
<circle cx="626.37" cy="412.36" r="1.19" fill="#d2d2d2" stroke="#5c5c5c" stroke-width="0.55"/>
<circle cx="578.89" cy="413.22" r="0.89" fill="#d2d2d2" stroke="#5c5c5c" stroke-width="0.55"/>
<circle cx="611.67" cy="436.72" r="1.25" fill="#d2d2d2" stroke="#5c5c5c" stroke-width="0.55"/>
<circle cx="591.05" cy="410.79" r="1.09" fill="#d2d2d2" stroke="#5c5c5c" stroke-width="0.55"/>
<circle cx="533.12" cy="429.07" r="0.87" fill="#d2d2d2" stroke="#5c5c5c" stroke-width="0.55"/>
<circle cx="570.77" cy="380.37" r="1.23" fill="#d2d2d2" stroke="#5c5c5c" stroke-width="0.55"/>
<circle cx="581.43" cy="440.25" r="0.99" fill="#d2d2d2" stroke="#5c5c5c" stroke-width="0.55"/>
<circle cx="556.41" cy="419.23" r="0.96" fill="#d2d2d2" stroke="#5c5c5c" stroke-width="0.55"/>
<circle cx="604.67" cy="417.65" r="1.09" fill="#d2d2d2" stroke="#5c5c5c" stroke-width="0.55"/>
<circle cx="562.2" cy="421.13" r="0.96" fill="#d2d2d2" stroke="#5c5c5c" stroke-width="0.55"/>
<circle cx="596.71" cy="439.71" r="1.33" fill="#d2d2d2" stroke="#5c5c5c" stroke-width="0.55"/>
<circle cx="578.92" cy="387.85" r="0.92" fill="#d2d2d2" stroke="#5c5c5c" stroke-width="0.55"/>
<circle cx="599.2" cy="434.03" r="1.24" fill="#d2d2d2" stroke="#5c5c5c" stroke-width="0.55"/>
<circle cx="556.2" cy="374.33" r="1.1" fill="#d2d2d2" stroke="#5c5c5c" stroke-width="0.55"/>
<circle cx="549.47" cy="396.31" r="1.19" fill="#d2d2d2" stroke="#5c5c5c" stroke-width="0.55"/>
<circle cx="557.55" cy="433.19" r="1.39" fill="#d2d2d2" stroke="#5c5c5c" stroke-width="0.55"/>
<circle cx="538.34" cy="363.12" r="1.33" fill="#d2d2d2" stroke="#5c5c5c" stroke-width="0.55"/>
<circle cx="588.94" cy="409.89" r="1.02" fill="#d2d2d2" stroke="#5c5c5c" stroke-width="0.55"/>
<circle cx="525.39" cy="371.2" r="1.1" fill="#d2d2d2" stroke="#5c5c5c" stroke-width="0.55"/>
<circle cx="598.6" cy="380.99" r="0.93" fill="#d2d2d2" stroke="#5c5c5c" stroke-width="0.55"/>
<circle cx="582.6" cy="399.13" r="1.2" fill="#d2d2d2" stroke="#5c5c5c" stroke-width="0.55"/>
<circle cx="596.82" cy="443.55" r="1.23" fill="#d2d2d2" stroke="#5c5c5c" stroke-width="0.55"/>
<circle cx="570.3" cy="375.89" r="0.86" fill="#d2d2d2" stroke="#5c5c5c" stroke-width="0.55"/>
<circle cx="589.38" cy="375.93" r="1" fill="#d2d2d2" stroke="#5c5c5c" stroke-width="0.55"/>
<circle cx="588.04" cy="405.54" r="1.19" fill="#d2d2d2" stroke="#5c5c5c" stroke-width="0.55"/>
<circle cx="570.16" cy="433" r="1.35" fill="#d2d2d2" stroke="#5c5c5c" stroke-width="0.55"/>
<circle cx="606.82" cy="423.06" r="0.92" fill="#d2d2d2" stroke="#5c5c5c" stroke-width="0.55"/>
<circle cx="582.31" cy="439.34" r="1.06" fill="#d2d2d2" stroke="#5c5c5c" stroke-width="0.55"/>
<circle cx="602.57" cy="429.52" r="1.37" fill="#d2d2d2" stroke="#5c5c5c" stroke-width="0.55"/>
<circle cx="584.37" cy="378.17" r="1.25" fill="#d2d2d2" stroke="#5c5c5c" stroke-width="0.55"/>
<circle cx="599.84" cy="426" r="0.97" fill="#d2d2d2" stroke="#5c5c5c" stroke-width="0.55"/>
<circle cx="640.37" cy="450.47" r="1.15" fill="#d2d2d2" stroke="#5c5c5c" stroke-width="0.55"/>
<circle cx="561.42" cy="444.12" r="1.32" fill="#d2d2d2" stroke="#5c5c5c" stroke-width="0.55"/>
<circle cx="538.99" cy="398.64" r="1.15" fill="#d2d2d2" stroke="#5c5c5c" stroke-width="0.55"/>
<circle cx="581.4" cy="361.08" r="1.3" fill="#d2d2d2" stroke="#5c5c5c" stroke-width="0.55"/>
<circle cx="596.22" cy="375.39" r="1.03" fill="#d2d2d2" stroke="#5c5c5c" stroke-width="0.55"/>
<circle cx="539.9" cy="372.41" r="1.13" fill="#d2d2d2" stroke="#5c5c5c" stroke-width="0.55"/>
<circle cx="623.56" cy="423.34" r="1.37" fill="#d2d2d2" stroke="#5c5c5c" stroke-width="0.55"/>
<circle cx="608.14" cy="367.85" r="0.97" fill="#d2d2d2" stroke="#5c5c5c" stroke-width="0.55"/>
<circle cx="555.54" cy="423.63" r="1.2" fill="#d2d2d2" stroke="#5c5c5c" stroke-width="0.55"/>
<circle cx="599.72" cy="408.97" r="1.02" fill="#d2d2d2" stroke="#5c5c5c" stroke-width="0.55"/>
<circle cx="599.85" cy="438.52" r="0.96" fill="#d2d2d2" stroke="#5c5c5c" stroke-width="0.55"/>
<circle cx="638.93" cy="407.78" r="1.17" fill="#d2d2d2" stroke="#5c5c5c" stroke-width="0.55"/>
<circle cx="575.15" cy="404.05" r="1.18" fill="#d2d2d2" stroke="#5c5c5c" stroke-width="0.55"/>
<circle cx="609.76" cy="405.16" r="1.07" fill="#d2d2d2" stroke="#5c5c5c" stroke-width="0.55"/>
<circle cx="590.42" cy="404.66" r="1.23" fill="#d2d2d2" stroke="#5c5c5c" stroke-width="0.55"/>
<circle cx="575.38" cy="396.29" r="1.38" fill="#d2d2d2" stroke="#5c5c5c" stroke-width="0.55"/>
<circle cx="555.3" cy="402.97" r="0.92" fill="#d2d2d2" stroke="#5c5c5c" stroke-width="0.55"/>
<circle cx="597.49" cy="438.52" r="1.11" fill="#d2d2d2" stroke="#5c5c5c" stroke-width="0.55"/>
<circle cx="547.66" cy="414" r="1.36" fill="#d2d2d2" stroke="#5c5c5c" stroke-width="0.55"/>
<circle cx="594.58" cy="362.37" r="0.96" fill="#d2d2d2" stroke="#5c5c5c" stroke-width="0.55"/>
<circle cx="587.22" cy="388.33" r="1.05" fill="#d2d2d2" stroke="#5c5c5c" stroke-width="0.55"/>
<circle cx="540.75" cy="423.8" r="0.92" fill="#d2d2d2" stroke="#5c5c5c" stroke-width="0.55"/>
<circle cx="552.38" cy="377.55" r="1.14" fill="#d2d2d2" stroke="#5c5c5c" stroke-width="0.55"/>
<circle cx="562.37" cy="396.26" r="1.14" fill="#d2d2d2" stroke="#5c5c5c" stroke-width="0.55"/>
<circle cx="548.68" cy="415.16" r="1.2" fill="#d2d2d2" stroke="#5c5c5c" stroke-width="0.55"/>
<circle cx="600.33" cy="413.46" r="1.32" fill="#d2d2d2" stroke="#5c5c5c" stroke-width="0.55"/>
<circle cx="591.51" cy="430.71" r="1.35" fill="#d2d2d2" stroke="#5c5c5c" stroke-width="0.55"/>
<circle cx="557.52" cy="440.45" r="0.97" fill="#d2d2d2" stroke="#5c5c5c" stroke-width="0.55"/>
<circle cx="629.25" cy="371.02" r="0.98" fill="#d2d2d2" stroke="#5c5c5c" stroke-width="0.55"/>
<circle cx="554.14" cy="367.54" r="1.31" fill="#d2d2d2" stroke="#5c5c5c" stroke-width="0.55"/>
<circle cx="595.43" cy="371.32" r="1.07" fill="#d2d2d2" stroke="#5c5c5c" stroke-width="0.55"/>
<circle cx="533.8" cy="377.82" r="1.23" fill="#d2d2d2" stroke="#5c5c5c" stroke-width="0.55"/>
<circle cx="638.92" cy="369.27" r="1.13" fill="#d2d2d2" stroke="#5c5c5c" stroke-width="0.55"/>
<circle cx="583.23" cy="422.99" r="0.95" fill="#d2d2d2" stroke="#5c5c5c" stroke-width="0.55"/>
<circle cx="540.85" cy="363.64" r="1.15" fill="#d2d2d2" stroke="#5c5c5c" stroke-width="0.55"/>
<circle cx="577.78" cy="373.11" r="0.95" fill="#d2d2d2" stroke="#5c5c5c" stroke-width="0.55"/>
<circle cx="599.44" cy="446.31" r="1.36" fill="#d2d2d2" stroke="#5c5c5c" stroke-width="0.55"/>
<circle cx="537.32" cy="442.94" r="1.1" fill="#d2d2d2" stroke="#5c5c5c" stroke-width="0.55"/>
<circle cx="562.19" cy="402.39" r="1.13" fill="#d2d2d2" stroke="#5c5c5c" stroke-width="0.55"/>
<circle cx="580.34" cy="361.54" r="1.24" fill="#d2d2d2" stroke="#5c5c5c" stroke-width="0.55"/>
<circle cx="544.78" cy="401.16" r="1.26" fill="#d2d2d2" stroke="#5c5c5c" stroke-width="0.55"/>
<circle cx="547.95" cy="374.71" r="1.13" fill="#d2d2d2" stroke="#5c5c5c" stroke-width="0.55"/>
<circle cx="603.67" cy="429.95" r="1.24" fill="#d2d2d2" stroke="#5c5c5c" stroke-width="0.55"/>
<circle cx="598.37" cy="396.5" r="1.18" fill="#d2d2d2" stroke="#5c5c5c" stroke-width="0.55"/>
<circle cx="610.82" cy="430.22" r="0.99" fill="#d2d2d2" stroke="#5c5c5c" stroke-width="0.55"/>
<circle cx="612.13" cy="431.69" r="1.3" fill="#d2d2d2" stroke="#5c5c5c" stroke-width="0.55"/>
<circle cx="603.94" cy="436.73" r="1.23" fill="#d2d2d2" stroke="#5c5c5c" stroke-width="0.55"/>
<circle cx="614.62" cy="396.62" r="1.25" fill="#d2d2d2" stroke="#5c5c5c" stroke-width="0.55"/>
<circle cx="559.65" cy="401.07" r="0.86" fill="#d2d2d2" stroke="#5c5c5c" stroke-width="0.55"/>
<circle cx="583.36" cy="414.53" r="0.98" fill="#d2d2d2" stroke="#5c5c5c" stroke-width="0.55"/>
<circle cx="602.76" cy="390.22" r="1.21" fill="#d2d2d2" stroke="#5c5c5c" stroke-width="0.55"/>
<circle cx="574.93" cy="394.19" r="1.4" fill="#d2d2d2" stroke="#5c5c5c" stroke-width="0.55"/>
</g>
<line x1="624" y1="446.5" x2="638.6" y2="446.5" stroke="#e6e6e6" stroke-width="0.75"/>
<text x="631.5" y="449.4" font-size="2.4" text-anchor="middle" fill="#eee">50 µm</text>
</g>
<g clip-path="url(#c1)">
<clipPath id="c1"><rect x="653.9" y="356.4" width="124" height="98.2"/></clipPath>
<rect x="653.9" y="356.4" width="124" height="98.2" fill="url(#bgg)"/>
<g filter="url(#b2)">
<ellipse cx="718.73" cy="377.62" rx="3.17" ry="3.97" fill="#5a5a5a" opacity="0.35"/>
<ellipse cx="708.7" cy="428.58" rx="3.17" ry="3.97" fill="#5a5a5a" opacity="0.35"/>
</g>
<g filter="url(#b3)">
<circle cx="720.08" cy="379.81" r="1.21" fill="#b4b4b4" stroke="#4a4a4a" stroke-width="0.6"/>
<circle cx="719.4" cy="377.06" r="1.67" fill="#c4c4c4" stroke="#4a4a4a" stroke-width="0.6"/>
<circle cx="721.2" cy="379.18" r="1.34" fill="#c4c4c4" stroke="#4a4a4a" stroke-width="0.6"/>
<circle cx="716.2" cy="379.78" r="1.11" fill="#c4c4c4" stroke="#4a4a4a" stroke-width="0.6"/>
<circle cx="721.69" cy="379.11" r="1.46" fill="#cecece" stroke="#4a4a4a" stroke-width="0.6"/>
<circle cx="721.52" cy="379.86" r="1.76" fill="#a6a6a6" stroke="#4a4a4a" stroke-width="0.6"/>
<circle cx="720.38" cy="379.38" r="1.19" fill="#a6a6a6" stroke="#4a4a4a" stroke-width="0.6"/>
<circle cx="717.72" cy="380.66" r="1.21" fill="#c4c4c4" stroke="#4a4a4a" stroke-width="0.6"/>
<circle cx="718.48" cy="376.73" r="1.22" fill="#c4c4c4" stroke="#4a4a4a" stroke-width="0.6"/>
<circle cx="719.58" cy="375.2" r="1.39" fill="#c4c4c4" stroke="#4a4a4a" stroke-width="0.6"/>
<circle cx="706.46" cy="430.95" r="1.17" fill="#b4b4b4" stroke="#4a4a4a" stroke-width="0.6"/>
<circle cx="707.36" cy="428.04" r="1.59" fill="#c4c4c4" stroke="#4a4a4a" stroke-width="0.6"/>
<circle cx="710.41" cy="429.08" r="1.34" fill="#a6a6a6" stroke="#4a4a4a" stroke-width="0.6"/>
<circle cx="708.21" cy="427.86" r="1.42" fill="#b4b4b4" stroke="#4a4a4a" stroke-width="0.6"/>
<circle cx="709.16" cy="430.72" r="1.43" fill="#cecece" stroke="#4a4a4a" stroke-width="0.6"/>
<circle cx="710.94" cy="427.84" r="1.77" fill="#b4b4b4" stroke="#4a4a4a" stroke-width="0.6"/>
<circle cx="710.29" cy="432.07" r="1.35" fill="#cecece" stroke="#4a4a4a" stroke-width="0.6"/>
<circle cx="709.78" cy="431.93" r="1.74" fill="#c4c4c4" stroke="#4a4a4a" stroke-width="0.6"/>
<circle cx="710.43" cy="428.67" r="1.64" fill="#b4b4b4" stroke="#4a4a4a" stroke-width="0.6"/>
<circle cx="707.81" cy="430.3" r="1.11" fill="#cecece" stroke="#4a4a4a" stroke-width="0.6"/>
<circle cx="716.83" cy="375.98" r="0.79" fill="#484848" opacity="0.7"/>
<circle cx="721.52" cy="378.3" r="1.08" fill="#484848" opacity="0.7"/>
<circle cx="721.42" cy="377.11" r="0.78" fill="#484848" opacity="0.7"/>
<circle cx="716.92" cy="380.25" r="0.94" fill="#484848" opacity="0.7"/>
<circle cx="719.95" cy="378.95" r="0.78" fill="#484848" opacity="0.7"/>
<circle cx="711.25" cy="429.4" r="1.09" fill="#484848" opacity="0.7"/>
<circle cx="711.07" cy="428.55" r="0.61" fill="#484848" opacity="0.7"/>
<circle cx="707.4" cy="431.91" r="1.02" fill="#484848" opacity="0.7"/>
<circle cx="707.68" cy="427.04" r="0.86" fill="#484848" opacity="0.7"/>
<circle cx="706.08" cy="429.05" r="0.73" fill="#484848" opacity="0.7"/>
</g>
<g filter="url(#b1)">
<ellipse cx="686.15" cy="369.77" rx="4.18" ry="4.18" fill="#bbee68" opacity="0.97"/>
<ellipse cx="665.26" cy="375.95" rx="3.01" ry="3.68" fill="#beed72" opacity="0.84"/>
<ellipse cx="714.55" cy="370.94" rx="3.68" ry="3.01" fill="#bded6f" opacity="0.88"/>
<ellipse cx="707.03" cy="381.8" rx="6.35" ry="4.68" fill="#c5ec8f" opacity="0.47"/>
<ellipse cx="724.91" cy="385.47" rx="5.35" ry="5.01" fill="#c2ec84" opacity="0.61"/>
<ellipse cx="671.11" cy="390.15" rx="5.35" ry="4.68" fill="#c3ec88" opacity="0.56"/>
<ellipse cx="678.63" cy="396" rx="5.01" ry="5.85" fill="#c4ec8c" opacity="0.51"/>
<ellipse cx="691.16" cy="391.49" rx="4.68" ry="4.68" fill="#bcee6b" opacity="0.93"/>
<ellipse cx="700.85" cy="393.83" rx="4.68" ry="6.35" fill="#bbee68" opacity="0.97" transform="rotate(-10 700.85 393.83)"/>
<ellipse cx="713.72" cy="394.83" rx="5.85" ry="5.01" fill="#c2ec84" opacity="0.61"/>
<ellipse cx="692" cy="403.52" rx="4.18" ry="3.68" fill="#c7eb96" opacity="0.38"/>
<ellipse cx="715.89" cy="411.87" rx="3.68" ry="3.68" fill="#bbee68" opacity="0.97"/>
<ellipse cx="681.13" cy="416.88" rx="6.68" ry="3.34" fill="#c6eb93" opacity="0.42"/>
<ellipse cx="706.53" cy="422.23" rx="3.68" ry="3.68" fill="#c4ec8c" opacity="0.51"/>
<ellipse cx="715.39" cy="423.57" rx="4.18" ry="3.68" fill="#c3ec88" opacity="0.56"/>
<ellipse cx="697.84" cy="430.25" rx="4.68" ry="6.35" fill="#bfed7a" opacity="0.74" transform="rotate(-20 697.84 430.25)"/>
<ellipse cx="728.75" cy="428.58" rx="5.85" ry="5.85" fill="#bbee68" opacity="0.97" transform="rotate(30 728.75 428.58)"/>
<ellipse cx="716.22" cy="432.76" rx="5.01" ry="3.68" fill="#c4ec8c" opacity="0.51"/>
<ellipse cx="719.23" cy="440.78" rx="4.18" ry="3.34" fill="#c2ec84" opacity="0.61"/>
<ellipse cx="687.82" cy="441.95" rx="5.01" ry="4.18" fill="#bfed7a" opacity="0.74"/>
<ellipse cx="758.83" cy="382.63" rx="6.68" ry="4.18" fill="#bbee68" opacity="0.97" transform="rotate(-15 758.83 382.63)"/>
<ellipse cx="765.51" cy="376.78" rx="4.18" ry="4.18" fill="#c1ec81" opacity="0.65"/>
</g>
<g filter="url(#b3)"><ellipse cx="686.15" cy="369.77" rx="2.59" ry="2.59" fill="#d2fa82" opacity="0.95"/><ellipse cx="665.26" cy="375.95" rx="1.86" ry="2.28" fill="#d2fa82" opacity="0.95"/><ellipse cx="714.55" cy="370.94" rx="2.28" ry="1.86" fill="#d2fa82" opacity="0.95"/><ellipse cx="691.16" cy="391.49" rx="2.9" ry="2.9" fill="#d2fa82" opacity="0.95"/><ellipse cx="700.85" cy="393.83" rx="2.9" ry="3.94" fill="#d2fa82" opacity="0.95" transform="rotate(-10 700.85 393.83)"/><ellipse cx="715.89" cy="411.87" rx="2.28" ry="2.28" fill="#d2fa82" opacity="0.95"/><ellipse cx="728.75" cy="428.58" rx="3.63" ry="3.63" fill="#d2fa82" opacity="0.95" transform="rotate(30 728.75 428.58)"/><ellipse cx="758.83" cy="382.63" rx="4.14" ry="2.59" fill="#d2fa82" opacity="0.95" transform="rotate(-15 758.83 382.63)"/></g>
<g filter="url(#b0)">
<circle cx="691.66" cy="370.53" r="1.3" fill="#d2d2d2" stroke="#5c5c5c" stroke-width="0.55"/>
<circle cx="693.83" cy="370.37" r="1.12" fill="#d2d2d2" stroke="#5c5c5c" stroke-width="0.55"/>
<circle cx="693.33" cy="373.07" r="1.31" fill="#d2d2d2" stroke="#5c5c5c" stroke-width="0.55"/>
<circle cx="692.16" cy="368.61" r="1.3" fill="#d2d2d2" stroke="#5c5c5c" stroke-width="0.55"/>
<circle cx="661.43" cy="380.85" r="1.2" fill="#d2d2d2" stroke="#5c5c5c" stroke-width="0.55"/>
<circle cx="667.41" cy="381.23" r="1.16" fill="#d2d2d2" stroke="#5c5c5c" stroke-width="0.55"/>
<circle cx="662.86" cy="380.87" r="1.16" fill="#d2d2d2" stroke="#5c5c5c" stroke-width="0.55"/>
<circle cx="683.37" cy="418.61" r="1" fill="#d2d2d2" stroke="#5c5c5c" stroke-width="0.55"/>
<circle cx="680.53" cy="421.65" r="1.07" fill="#d2d2d2" stroke="#5c5c5c" stroke-width="0.55"/>
<circle cx="682.82" cy="418.77" r="1.32" fill="#d2d2d2" stroke="#5c5c5c" stroke-width="0.55"/>
<circle cx="755.45" cy="374.56" r="1.07" fill="#d2d2d2" stroke="#5c5c5c" stroke-width="0.55"/>
<circle cx="756.15" cy="380.93" r="1.32" fill="#d2d2d2" stroke="#5c5c5c" stroke-width="0.55"/>
<circle cx="760.58" cy="380.26" r="1.15" fill="#d2d2d2" stroke="#5c5c5c" stroke-width="0.55"/>
<circle cx="756.57" cy="380.09" r="1.49" fill="#d2d2d2" stroke="#5c5c5c" stroke-width="0.55"/>
<circle cx="751.41" cy="375.33" r="1.45" fill="#d2d2d2" stroke="#5c5c5c" stroke-width="0.55"/>
<circle cx="664.62" cy="358.72" r="1.15" fill="#d2d2d2" stroke="#5c5c5c" stroke-width="0.55"/>
<circle cx="657.72" cy="357.99" r="1.37" fill="#d2d2d2" stroke="#5c5c5c" stroke-width="0.55"/>
<circle cx="658.93" cy="358.53" r="1.12" fill="#d2d2d2" stroke="#5c5c5c" stroke-width="0.55"/>
<circle cx="675.96" cy="410" r="0.91" fill="#d2d2d2" stroke="#5c5c5c" stroke-width="0.55"/>
<circle cx="675.53" cy="409.56" r="1.38" fill="#d2d2d2" stroke="#5c5c5c" stroke-width="0.55"/>
<circle cx="678.03" cy="410.44" r="1.22" fill="#d2d2d2" stroke="#5c5c5c" stroke-width="0.55"/>
<circle cx="689.99" cy="445.13" r="0.96" fill="#d2d2d2" stroke="#5c5c5c" stroke-width="0.55"/>
<circle cx="688.36" cy="446.87" r="1.46" fill="#d2d2d2" stroke="#5c5c5c" stroke-width="0.55"/>
<circle cx="688.57" cy="444.98" r="1.27" fill="#d2d2d2" stroke="#5c5c5c" stroke-width="0.55"/>
<circle cx="701.92" cy="421.95" r="1.07" fill="#d2d2d2" stroke="#5c5c5c" stroke-width="0.55"/>
<circle cx="692.98" cy="390.45" r="1.23" fill="#d2d2d2" stroke="#5c5c5c" stroke-width="0.55"/>
<circle cx="670.78" cy="389.52" r="1.23" fill="#d2d2d2" stroke="#5c5c5c" stroke-width="0.55"/>
<circle cx="735.03" cy="446.45" r="1.05" fill="#d2d2d2" stroke="#5c5c5c" stroke-width="0.55"/>
<circle cx="698.66" cy="400.48" r="0.95" fill="#d2d2d2" stroke="#5c5c5c" stroke-width="0.55"/>
<circle cx="688.37" cy="383.33" r="1.03" fill="#d2d2d2" stroke="#5c5c5c" stroke-width="0.55"/>
<circle cx="656.83" cy="392.34" r="1" fill="#d2d2d2" stroke="#5c5c5c" stroke-width="0.55"/>
<circle cx="694.77" cy="381.83" r="1.36" fill="#d2d2d2" stroke="#5c5c5c" stroke-width="0.55"/>
<circle cx="713.42" cy="376.98" r="1.11" fill="#d2d2d2" stroke="#5c5c5c" stroke-width="0.55"/>
<circle cx="723.58" cy="384.29" r="1.1" fill="#d2d2d2" stroke="#5c5c5c" stroke-width="0.55"/>
<circle cx="755.7" cy="379.83" r="1.15" fill="#d2d2d2" stroke="#5c5c5c" stroke-width="0.55"/>
<circle cx="703.33" cy="421.83" r="1.21" fill="#d2d2d2" stroke="#5c5c5c" stroke-width="0.55"/>
<circle cx="722.37" cy="422.53" r="1.04" fill="#d2d2d2" stroke="#5c5c5c" stroke-width="0.55"/>
<circle cx="694.57" cy="405.49" r="1.05" fill="#d2d2d2" stroke="#5c5c5c" stroke-width="0.55"/>
<circle cx="673.96" cy="382.27" r="1.15" fill="#d2d2d2" stroke="#5c5c5c" stroke-width="0.55"/>
<circle cx="667.65" cy="430.55" r="1.01" fill="#d2d2d2" stroke="#5c5c5c" stroke-width="0.55"/>
<circle cx="727.75" cy="395.05" r="1.33" fill="#d2d2d2" stroke="#5c5c5c" stroke-width="0.55"/>
<circle cx="694.42" cy="370.25" r="1.2" fill="#d2d2d2" stroke="#5c5c5c" stroke-width="0.55"/>
<circle cx="728.92" cy="432.28" r="1.08" fill="#d2d2d2" stroke="#5c5c5c" stroke-width="0.55"/>
<circle cx="682.9" cy="397.41" r="1.06" fill="#d2d2d2" stroke="#5c5c5c" stroke-width="0.55"/>
<circle cx="692.47" cy="430.85" r="0.94" fill="#d2d2d2" stroke="#5c5c5c" stroke-width="0.55"/>
<circle cx="682.3" cy="444.54" r="1.14" fill="#d2d2d2" stroke="#5c5c5c" stroke-width="0.55"/>
<circle cx="723.05" cy="436.39" r="1.3" fill="#d2d2d2" stroke="#5c5c5c" stroke-width="0.55"/>
<circle cx="715.98" cy="388.94" r="0.93" fill="#d2d2d2" stroke="#5c5c5c" stroke-width="0.55"/>
<circle cx="755.86" cy="378.3" r="1.33" fill="#d2d2d2" stroke="#5c5c5c" stroke-width="0.55"/>
<circle cx="686.07" cy="364.5" r="0.94" fill="#d2d2d2" stroke="#5c5c5c" stroke-width="0.55"/>
<circle cx="714.66" cy="388.2" r="0.95" fill="#d2d2d2" stroke="#5c5c5c" stroke-width="0.55"/>
<circle cx="686.32" cy="435.45" r="1.18" fill="#d2d2d2" stroke="#5c5c5c" stroke-width="0.55"/>
<circle cx="712.5" cy="408.22" r="1.1" fill="#d2d2d2" stroke="#5c5c5c" stroke-width="0.55"/>
<circle cx="710.15" cy="430.31" r="1.13" fill="#d2d2d2" stroke="#5c5c5c" stroke-width="0.55"/>
<circle cx="697.22" cy="416.39" r="1.06" fill="#d2d2d2" stroke="#5c5c5c" stroke-width="0.55"/>
<circle cx="700.68" cy="423.15" r="1" fill="#d2d2d2" stroke="#5c5c5c" stroke-width="0.55"/>
<circle cx="714.89" cy="438.99" r="1.23" fill="#d2d2d2" stroke="#5c5c5c" stroke-width="0.55"/>
<circle cx="737.79" cy="398.61" r="1.07" fill="#d2d2d2" stroke="#5c5c5c" stroke-width="0.55"/>
<circle cx="717.33" cy="433.51" r="0.92" fill="#d2d2d2" stroke="#5c5c5c" stroke-width="0.55"/>
<circle cx="672.02" cy="370.46" r="0.88" fill="#d2d2d2" stroke="#5c5c5c" stroke-width="0.55"/>
<circle cx="681.94" cy="372.87" r="1.23" fill="#d2d2d2" stroke="#5c5c5c" stroke-width="0.55"/>
<circle cx="732.19" cy="443.66" r="1.26" fill="#d2d2d2" stroke="#5c5c5c" stroke-width="0.55"/>
<circle cx="659.27" cy="379.87" r="1.36" fill="#d2d2d2" stroke="#5c5c5c" stroke-width="0.55"/>
<circle cx="678.92" cy="426.64" r="1.08" fill="#d2d2d2" stroke="#5c5c5c" stroke-width="0.55"/>
<circle cx="686.6" cy="383.61" r="0.9" fill="#d2d2d2" stroke="#5c5c5c" stroke-width="0.55"/>
<circle cx="731.29" cy="445.85" r="1.27" fill="#d2d2d2" stroke="#5c5c5c" stroke-width="0.55"/>
<circle cx="699.37" cy="386.49" r="1.36" fill="#d2d2d2" stroke="#5c5c5c" stroke-width="0.55"/>
<circle cx="711.38" cy="364.47" r="0.98" fill="#d2d2d2" stroke="#5c5c5c" stroke-width="0.55"/>
<circle cx="715.72" cy="432.41" r="1.27" fill="#d2d2d2" stroke="#5c5c5c" stroke-width="0.55"/>
<circle cx="691.21" cy="435.46" r="1.39" fill="#d2d2d2" stroke="#5c5c5c" stroke-width="0.55"/>
<circle cx="678.09" cy="415.58" r="1.14" fill="#d2d2d2" stroke="#5c5c5c" stroke-width="0.55"/>
<circle cx="680.6" cy="395.61" r="1.19" fill="#d2d2d2" stroke="#5c5c5c" stroke-width="0.55"/>
<circle cx="702.39" cy="442.97" r="1.26" fill="#d2d2d2" stroke="#5c5c5c" stroke-width="0.55"/>
<circle cx="693.79" cy="371.97" r="1.26" fill="#d2d2d2" stroke="#5c5c5c" stroke-width="0.55"/>
<circle cx="676.55" cy="409.2" r="1.18" fill="#d2d2d2" stroke="#5c5c5c" stroke-width="0.55"/>
<circle cx="690.98" cy="389.3" r="1.05" fill="#d2d2d2" stroke="#5c5c5c" stroke-width="0.55"/>
<circle cx="695.54" cy="405.73" r="1.1" fill="#d2d2d2" stroke="#5c5c5c" stroke-width="0.55"/>
<circle cx="692.48" cy="380.54" r="1.03" fill="#d2d2d2" stroke="#5c5c5c" stroke-width="0.55"/>
<circle cx="688.98" cy="441.78" r="1.01" fill="#d2d2d2" stroke="#5c5c5c" stroke-width="0.55"/>
<circle cx="710.57" cy="396.6" r="1.13" fill="#d2d2d2" stroke="#5c5c5c" stroke-width="0.55"/>
<circle cx="669.6" cy="419.52" r="0.91" fill="#d2d2d2" stroke="#5c5c5c" stroke-width="0.55"/>
<circle cx="721.25" cy="446.09" r="1.22" fill="#d2d2d2" stroke="#5c5c5c" stroke-width="0.55"/>
<circle cx="695.18" cy="387.03" r="1.31" fill="#d2d2d2" stroke="#5c5c5c" stroke-width="0.55"/>
<circle cx="678.2" cy="416.72" r="1.2" fill="#d2d2d2" stroke="#5c5c5c" stroke-width="0.55"/>
<circle cx="698.03" cy="443.54" r="1.1" fill="#d2d2d2" stroke="#5c5c5c" stroke-width="0.55"/>
<circle cx="702.91" cy="402.24" r="1.05" fill="#d2d2d2" stroke="#5c5c5c" stroke-width="0.55"/>
<circle cx="717.16" cy="383.4" r="1.14" fill="#d2d2d2" stroke="#5c5c5c" stroke-width="0.55"/>
<circle cx="716.09" cy="420.8" r="1.19" fill="#d2d2d2" stroke="#5c5c5c" stroke-width="0.55"/>
<circle cx="689.36" cy="389.03" r="0.86" fill="#d2d2d2" stroke="#5c5c5c" stroke-width="0.55"/>
<circle cx="750.69" cy="395.16" r="1.38" fill="#d2d2d2" stroke="#5c5c5c" stroke-width="0.55"/>
<circle cx="674.08" cy="437.22" r="1.08" fill="#d2d2d2" stroke="#5c5c5c" stroke-width="0.55"/>
<circle cx="682.61" cy="397.99" r="0.88" fill="#d2d2d2" stroke="#5c5c5c" stroke-width="0.55"/>
<circle cx="672.63" cy="389.09" r="0.94" fill="#d2d2d2" stroke="#5c5c5c" stroke-width="0.55"/>
<circle cx="722.81" cy="395.14" r="1.12" fill="#d2d2d2" stroke="#5c5c5c" stroke-width="0.55"/>
</g>
<line x1="757" y1="446.5" x2="771.6" y2="446.5" stroke="#e6e6e6" stroke-width="0.75"/>
<text x="764.7" y="449.4" font-size="2.4" text-anchor="middle" fill="#eee">50 µm</text>
</g>
<g clip-path="url(#c2)">
<clipPath id="c2"><rect x="521.1" y="473.1" width="123.6" height="97.7"/></clipPath>
<rect x="521.1" y="473.1" width="123.6" height="97.7" fill="url(#bgg)"/>
<g filter="url(#b2)">
</g>
<g filter="url(#b3)">
</g>
<g filter="url(#b1)">
<ellipse cx="581.83" cy="484.38" rx="3.82" ry="3.82" fill="#bbee68" opacity="0.97"/>
<ellipse cx="527.52" cy="494.79" rx="3.47" ry="3.47" fill="#bbee68" opacity="0.97"/>
<ellipse cx="553.2" cy="497.91" rx="4.34" ry="4.34" fill="#bbee68" opacity="0.97"/>
<ellipse cx="574.89" cy="498.78" rx="6.07" ry="4.34" fill="#c2ec84" opacity="0.61"/>
<ellipse cx="591.38" cy="503.12" rx="3.82" ry="3.82" fill="#bbee68" opacity="0.97"/>
<ellipse cx="535.85" cy="506.59" rx="6.59" ry="5.55" fill="#c5ec8f" opacity="0.47"/>
<ellipse cx="554.94" cy="508.32" rx="3.47" ry="3.47" fill="#bbee68" opacity="0.97"/>
<ellipse cx="546.26" cy="513.18" rx="5.55" ry="6.07" fill="#c4ec8c" opacity="0.51"/>
<ellipse cx="570.9" cy="509.71" rx="3.12" ry="3.12" fill="#bbee68" opacity="0.97"/>
<ellipse cx="568.47" cy="515.27" rx="3.47" ry="3.47" fill="#bbee68" opacity="0.97"/>
<ellipse cx="580.62" cy="512.66" rx="6.59" ry="4.86" fill="#c1ec81" opacity="0.65"/>
<ellipse cx="561.88" cy="523.07" rx="4.34" ry="3.82" fill="#c7eb96" opacity="0.38" transform="rotate(-30 561.88 523.07)"/>
<ellipse cx="584.44" cy="529.49" rx="4.86" ry="4.86" fill="#bfed7a" opacity="0.74"/>
<ellipse cx="545.39" cy="534.35" rx="3.47" ry="4.34" fill="#c7eb96" opacity="0.38"/>
<ellipse cx="554.94" cy="534.35" rx="4.34" ry="3.82" fill="#c7eb96" opacity="0.38"/>
<ellipse cx="574.89" cy="538.69" rx="4.34" ry="4.86" fill="#c5ec8f" opacity="0.47" transform="rotate(-20 574.89 538.69)"/>
<ellipse cx="586.17" cy="539.56" rx="5.21" ry="3.82" fill="#c6eb93" opacity="0.42"/>
<ellipse cx="566.74" cy="547.89" rx="4.86" ry="5.55" fill="#c0ed7d" opacity="0.7" transform="rotate(-10 566.74 547.89)"/>
<ellipse cx="581.83" cy="549.62" rx="6.07" ry="4.34" fill="#c5ec8f" opacity="0.47"/>
<ellipse cx="596.58" cy="548.23" rx="6.07" ry="4.86" fill="#bbee68" opacity="0.97" transform="rotate(30 596.58 548.23)"/>
<ellipse cx="554.94" cy="560.03" rx="4.86" ry="4.34" fill="#beed72" opacity="0.84" transform="rotate(-20 554.94 560.03)"/>
<ellipse cx="587.91" cy="560.03" rx="4.34" ry="5.21" fill="#c4ec8c" opacity="0.51" transform="rotate(20 587.91 560.03)"/>
<ellipse cx="622.09" cy="502.25" rx="3.47" ry="3.47" fill="#bbee68" opacity="0.97"/>
<ellipse cx="629.55" cy="502.25" rx="3.47" ry="3.47" fill="#bcee6b" opacity="0.93"/>
</g>
<g filter="url(#b3)"><ellipse cx="581.83" cy="484.38" rx="2.37" ry="2.37" fill="#d2fa82" opacity="0.95"/><ellipse cx="527.52" cy="494.79" rx="2.15" ry="2.15" fill="#d2fa82" opacity="0.95"/><ellipse cx="553.2" cy="497.91" rx="2.69" ry="2.69" fill="#d2fa82" opacity="0.95"/><ellipse cx="591.38" cy="503.12" rx="2.37" ry="2.37" fill="#d2fa82" opacity="0.95"/><ellipse cx="554.94" cy="508.32" rx="2.15" ry="2.15" fill="#d2fa82" opacity="0.95"/><ellipse cx="570.9" cy="509.71" rx="1.94" ry="1.94" fill="#d2fa82" opacity="0.95"/><ellipse cx="568.47" cy="515.27" rx="2.15" ry="2.15" fill="#d2fa82" opacity="0.95"/><ellipse cx="596.58" cy="548.23" rx="3.77" ry="3.01" fill="#d2fa82" opacity="0.95" transform="rotate(30 596.58 548.23)"/><ellipse cx="554.94" cy="560.03" rx="3.01" ry="2.69" fill="#d2fa82" opacity="0.95" transform="rotate(-20 554.94 560.03)"/><ellipse cx="622.09" cy="502.25" rx="2.15" ry="2.15" fill="#d2fa82" opacity="0.95"/><ellipse cx="629.55" cy="502.25" rx="2.15" ry="2.15" fill="#d2fa82" opacity="0.95"/></g>
<g filter="url(#b0)">
<circle cx="533.12" cy="531.3" r="1.31" fill="#d2d2d2" stroke="#5c5c5c" stroke-width="0.55"/>
<circle cx="533.9" cy="528.24" r="1.04" fill="#d2d2d2" stroke="#5c5c5c" stroke-width="0.55"/>
<circle cx="533.99" cy="530.13" r="1.34" fill="#d2d2d2" stroke="#5c5c5c" stroke-width="0.55"/>
<circle cx="623.91" cy="554.42" r="1.03" fill="#d2d2d2" stroke="#5c5c5c" stroke-width="0.55"/>
<circle cx="622.14" cy="554.76" r="1.4" fill="#d2d2d2" stroke="#5c5c5c" stroke-width="0.55"/>
<circle cx="622.37" cy="552.31" r="1.07" fill="#d2d2d2" stroke="#5c5c5c" stroke-width="0.55"/>
<circle cx="624.08" cy="555.15" r="1.39" fill="#d2d2d2" stroke="#5c5c5c" stroke-width="0.55"/>
<circle cx="584.33" cy="564.68" r="1.35" fill="#d2d2d2" stroke="#5c5c5c" stroke-width="0.55"/>
<circle cx="587.1" cy="565.87" r="1.05" fill="#d2d2d2" stroke="#5c5c5c" stroke-width="0.55"/>
<circle cx="584.83" cy="565.28" r="1.35" fill="#d2d2d2" stroke="#5c5c5c" stroke-width="0.55"/>
<circle cx="579.56" cy="565.92" r="1.12" fill="#d2d2d2" stroke="#5c5c5c" stroke-width="0.55"/>
<circle cx="580.06" cy="566.95" r="0.97" fill="#d2d2d2" stroke="#5c5c5c" stroke-width="0.55"/>
<circle cx="630.44" cy="492.5" r="1.49" fill="#d2d2d2" stroke="#5c5c5c" stroke-width="0.55"/>
<circle cx="625.94" cy="492.9" r="1.35" fill="#d2d2d2" stroke="#5c5c5c" stroke-width="0.55"/>
<circle cx="631.6" cy="497.45" r="1.17" fill="#d2d2d2" stroke="#5c5c5c" stroke-width="0.55"/>
<circle cx="629.21" cy="496.71" r="1.21" fill="#d2d2d2" stroke="#5c5c5c" stroke-width="0.55"/>
<circle cx="627.72" cy="497.66" r="1.26" fill="#d2d2d2" stroke="#5c5c5c" stroke-width="0.55"/>
<circle cx="607.73" cy="496.56" r="1.19" fill="#d2d2d2" stroke="#5c5c5c" stroke-width="0.55"/>
<circle cx="608.88" cy="497.02" r="1.02" fill="#d2d2d2" stroke="#5c5c5c" stroke-width="0.55"/>
<circle cx="547.68" cy="540.78" r="1.29" fill="#d2d2d2" stroke="#5c5c5c" stroke-width="0.55"/>
<circle cx="549.03" cy="540.12" r="1.33" fill="#d2d2d2" stroke="#5c5c5c" stroke-width="0.55"/>
<circle cx="528.27" cy="488.38" r="1.29" fill="#d2d2d2" stroke="#5c5c5c" stroke-width="0.55"/>
<circle cx="599.53" cy="490.07" r="1.08" fill="#d2d2d2" stroke="#5c5c5c" stroke-width="0.55"/>
<circle cx="629.09" cy="550.36" r="0.96" fill="#d2d2d2" stroke="#5c5c5c" stroke-width="0.55"/>
<circle cx="567.92" cy="542.24" r="0.93" fill="#d2d2d2" stroke="#5c5c5c" stroke-width="0.55"/>
<circle cx="595.28" cy="542.82" r="0.97" fill="#d2d2d2" stroke="#5c5c5c" stroke-width="0.55"/>
<circle cx="574.71" cy="530.83" r="1.05" fill="#d2d2d2" stroke="#5c5c5c" stroke-width="0.55"/>
<circle cx="563.92" cy="502.77" r="0.94" fill="#d2d2d2" stroke="#5c5c5c" stroke-width="0.55"/>
<circle cx="540.56" cy="499.74" r="0.89" fill="#d2d2d2" stroke="#5c5c5c" stroke-width="0.55"/>
<circle cx="572.91" cy="526.76" r="0.87" fill="#d2d2d2" stroke="#5c5c5c" stroke-width="0.55"/>
<circle cx="557.38" cy="488.44" r="0.85" fill="#d2d2d2" stroke="#5c5c5c" stroke-width="0.55"/>
<circle cx="537.63" cy="503.35" r="1" fill="#d2d2d2" stroke="#5c5c5c" stroke-width="0.55"/>
<circle cx="538.02" cy="520.51" r="1.05" fill="#d2d2d2" stroke="#5c5c5c" stroke-width="0.55"/>
<circle cx="523.78" cy="506.47" r="1.12" fill="#d2d2d2" stroke="#5c5c5c" stroke-width="0.55"/>
<circle cx="584.9" cy="519.53" r="1.22" fill="#d2d2d2" stroke="#5c5c5c" stroke-width="0.55"/>
<circle cx="534.69" cy="523.19" r="1.35" fill="#d2d2d2" stroke="#5c5c5c" stroke-width="0.55"/>
<circle cx="553.99" cy="539.2" r="1.32" fill="#d2d2d2" stroke="#5c5c5c" stroke-width="0.55"/>
<circle cx="575.23" cy="510.79" r="0.98" fill="#d2d2d2" stroke="#5c5c5c" stroke-width="0.55"/>
<circle cx="547.23" cy="510.39" r="0.87" fill="#d2d2d2" stroke="#5c5c5c" stroke-width="0.55"/>
<circle cx="538.7" cy="545.02" r="1.18" fill="#d2d2d2" stroke="#5c5c5c" stroke-width="0.55"/>
<circle cx="588.78" cy="496.75" r="1.11" fill="#d2d2d2" stroke="#5c5c5c" stroke-width="0.55"/>
<circle cx="556.64" cy="505.17" r="1.09" fill="#d2d2d2" stroke="#5c5c5c" stroke-width="0.55"/>
<circle cx="595.31" cy="490.08" r="1.3" fill="#d2d2d2" stroke="#5c5c5c" stroke-width="0.55"/>
<circle cx="554.49" cy="513.58" r="0.87" fill="#d2d2d2" stroke="#5c5c5c" stroke-width="0.55"/>
<circle cx="558.69" cy="518.13" r="1.33" fill="#d2d2d2" stroke="#5c5c5c" stroke-width="0.55"/>
<circle cx="528.31" cy="525.23" r="0.92" fill="#d2d2d2" stroke="#5c5c5c" stroke-width="0.55"/>
<circle cx="561.7" cy="558.76" r="1.15" fill="#d2d2d2" stroke="#5c5c5c" stroke-width="0.55"/>
<circle cx="532.74" cy="501.66" r="1.33" fill="#d2d2d2" stroke="#5c5c5c" stroke-width="0.55"/>
<circle cx="567.28" cy="512.16" r="1.04" fill="#d2d2d2" stroke="#5c5c5c" stroke-width="0.55"/>
<circle cx="548.67" cy="542.41" r="1.22" fill="#d2d2d2" stroke="#5c5c5c" stroke-width="0.55"/>
<circle cx="585.28" cy="561.35" r="1.09" fill="#d2d2d2" stroke="#5c5c5c" stroke-width="0.55"/>
<circle cx="577.61" cy="551.95" r="1.34" fill="#d2d2d2" stroke="#5c5c5c" stroke-width="0.55"/>
<circle cx="542.38" cy="525.95" r="1.3" fill="#d2d2d2" stroke="#5c5c5c" stroke-width="0.55"/>
<circle cx="554.21" cy="562.34" r="1.01" fill="#d2d2d2" stroke="#5c5c5c" stroke-width="0.55"/>
<circle cx="536.17" cy="483.15" r="1.25" fill="#d2d2d2" stroke="#5c5c5c" stroke-width="0.55"/>
<circle cx="584.57" cy="554.22" r="1.4" fill="#d2d2d2" stroke="#5c5c5c" stroke-width="0.55"/>
<circle cx="573.85" cy="533.39" r="1.31" fill="#d2d2d2" stroke="#5c5c5c" stroke-width="0.55"/>
<circle cx="553.55" cy="545.35" r="0.91" fill="#d2d2d2" stroke="#5c5c5c" stroke-width="0.55"/>
<circle cx="604.98" cy="520.63" r="1" fill="#d2d2d2" stroke="#5c5c5c" stroke-width="0.55"/>
<circle cx="576.94" cy="475.44" r="0.87" fill="#d2d2d2" stroke="#5c5c5c" stroke-width="0.55"/>
<circle cx="556.57" cy="560.25" r="0.99" fill="#d2d2d2" stroke="#5c5c5c" stroke-width="0.55"/>
<circle cx="625.18" cy="514.09" r="1.4" fill="#d2d2d2" stroke="#5c5c5c" stroke-width="0.55"/>
<circle cx="580.99" cy="499.6" r="1.1" fill="#d2d2d2" stroke="#5c5c5c" stroke-width="0.55"/>
<circle cx="587.29" cy="493.27" r="1.06" fill="#d2d2d2" stroke="#5c5c5c" stroke-width="0.55"/>
<circle cx="546.28" cy="529.28" r="0.87" fill="#d2d2d2" stroke="#5c5c5c" stroke-width="0.55"/>
<circle cx="544.47" cy="484.74" r="1.17" fill="#d2d2d2" stroke="#5c5c5c" stroke-width="0.55"/>
<circle cx="596.89" cy="522.81" r="1.14" fill="#d2d2d2" stroke="#5c5c5c" stroke-width="0.55"/>
<circle cx="548.73" cy="544.94" r="1.21" fill="#d2d2d2" stroke="#5c5c5c" stroke-width="0.55"/>
<circle cx="602.29" cy="482.43" r="1.32" fill="#d2d2d2" stroke="#5c5c5c" stroke-width="0.55"/>
<circle cx="593.58" cy="493.63" r="0.88" fill="#d2d2d2" stroke="#5c5c5c" stroke-width="0.55"/>
<circle cx="599.85" cy="502.45" r="1.12" fill="#d2d2d2" stroke="#5c5c5c" stroke-width="0.55"/>
<circle cx="550.14" cy="525.66" r="0.86" fill="#d2d2d2" stroke="#5c5c5c" stroke-width="0.55"/>
<circle cx="587.75" cy="509.46" r="0.97" fill="#d2d2d2" stroke="#5c5c5c" stroke-width="0.55"/>
<circle cx="583.44" cy="516.88" r="1.35" fill="#d2d2d2" stroke="#5c5c5c" stroke-width="0.55"/>
<circle cx="535.11" cy="560.76" r="1.36" fill="#d2d2d2" stroke="#5c5c5c" stroke-width="0.55"/>
<circle cx="622.52" cy="538.94" r="1.25" fill="#d2d2d2" stroke="#5c5c5c" stroke-width="0.55"/>
<circle cx="575.43" cy="502.43" r="0.92" fill="#d2d2d2" stroke="#5c5c5c" stroke-width="0.55"/>
<circle cx="594.44" cy="480.39" r="1.2" fill="#d2d2d2" stroke="#5c5c5c" stroke-width="0.55"/>
<circle cx="569.66" cy="546.46" r="1.33" fill="#d2d2d2" stroke="#5c5c5c" stroke-width="0.55"/>
<circle cx="591.75" cy="523.01" r="1.16" fill="#d2d2d2" stroke="#5c5c5c" stroke-width="0.55"/>
<circle cx="600.38" cy="518.35" r="1.37" fill="#d2d2d2" stroke="#5c5c5c" stroke-width="0.55"/>
</g>
<line x1="624" y1="563.5" x2="638.6" y2="563.5" stroke="#e6e6e6" stroke-width="0.75"/>
<text x="631.5" y="566.4" font-size="2.4" text-anchor="middle" fill="#eee">50 µm</text>
</g>
<g clip-path="url(#c3)">
<clipPath id="c3"><rect x="653.9" y="473.1" width="124" height="97.7"/></clipPath>
<rect x="653.9" y="473.1" width="124" height="97.7" fill="url(#bgg)"/>
<g filter="url(#b2)">
</g>
<g filter="url(#b3)">
</g>
<g filter="url(#b1)">
<ellipse cx="663.93" cy="491.65" rx="3.34" ry="3.34" fill="#bded6f" opacity="0.88"/>
<ellipse cx="725.41" cy="489.47" rx="3.01" ry="3.34" fill="#beed72" opacity="0.84"/>
<ellipse cx="710.88" cy="499.5" rx="4.18" ry="3.68" fill="#bcee6b" opacity="0.93"/>
<ellipse cx="702.86" cy="504.01" rx="4.18" ry="4.18" fill="#beed72" opacity="0.84"/>
<ellipse cx="722.57" cy="503.34" rx="3.34" ry="3.34" fill="#beed72" opacity="0.84"/>
<ellipse cx="663.59" cy="507.02" rx="6.35" ry="5.01" fill="#c4ec8c" opacity="0.51" transform="rotate(20 663.59 507.02)"/>
<ellipse cx="675.29" cy="510.36" rx="4.18" ry="4.18" fill="#bbee68" opacity="0.97"/>
<ellipse cx="682.81" cy="512.87" rx="3.34" ry="3.34" fill="#bbee68" opacity="0.97"/>
<ellipse cx="676.96" cy="517.88" rx="4.68" ry="4.18" fill="#bbee68" opacity="0.97"/>
<ellipse cx="712.88" cy="514.54" rx="7.02" ry="5.01" fill="#beed76" opacity="0.79" transform="rotate(15 712.88 514.54)"/>
<ellipse cx="700.02" cy="517.04" rx="3.68" ry="5.01" fill="#bcee6b" opacity="0.93"/>
<ellipse cx="688.65" cy="515.37" rx="3.68" ry="4.18" fill="#c6eb93" opacity="0.42"/>
<ellipse cx="692.83" cy="525.4" rx="3.68" ry="5.01" fill="#c6eb93" opacity="0.42" transform="rotate(-20 692.83 525.4)"/>
<ellipse cx="675.29" cy="535.42" rx="4.68" ry="4.68" fill="#c7eb96" opacity="0.38"/>
<ellipse cx="687.82" cy="536.26" rx="5.01" ry="3.68" fill="#c4ec8c" opacity="0.51" transform="rotate(-20 687.82 536.26)"/>
<ellipse cx="721.24" cy="532.92" rx="3.34" ry="3.34" fill="#bcee6b" opacity="0.93"/>
<ellipse cx="717.06" cy="541.77" rx="3.01" ry="3.01" fill="#bcee6b" opacity="0.93"/>
<ellipse cx="707.87" cy="540.44" rx="4.18" ry="5.85" fill="#c7eb96" opacity="0.38" transform="rotate(-20 707.87 540.44)"/>
<ellipse cx="701.18" cy="547.95" rx="3.01" ry="3.01" fill="#bcee6b" opacity="0.93"/>
<ellipse cx="702.02" cy="553.8" rx="3.34" ry="3.34" fill="#bcee6b" opacity="0.93"/>
<ellipse cx="684.81" cy="553.47" rx="3.68" ry="3.68" fill="#bcee6b" opacity="0.93"/>
<ellipse cx="717.89" cy="550.46" rx="5.85" ry="3.68" fill="#c5ec8f" opacity="0.47"/>
<ellipse cx="728.75" cy="552.13" rx="5.01" ry="4.68" fill="#bcee6b" opacity="0.93"/>
<ellipse cx="718.73" cy="561.32" rx="5.85" ry="4.68" fill="#c3ec88" opacity="0.56"/>
<ellipse cx="756.32" cy="501.67" rx="4.18" ry="3.68" fill="#bbee68" opacity="0.97"/>
</g>
<g filter="url(#b3)"><ellipse cx="663.93" cy="491.65" rx="2.07" ry="2.07" fill="#d2fa82" opacity="0.95"/><ellipse cx="725.41" cy="489.47" rx="1.86" ry="2.07" fill="#d2fa82" opacity="0.95"/><ellipse cx="710.88" cy="499.5" rx="2.59" ry="2.28" fill="#d2fa82" opacity="0.95"/><ellipse cx="702.86" cy="504.01" rx="2.59" ry="2.59" fill="#d2fa82" opacity="0.95"/><ellipse cx="722.57" cy="503.34" rx="2.07" ry="2.07" fill="#d2fa82" opacity="0.95"/><ellipse cx="675.29" cy="510.36" rx="2.59" ry="2.59" fill="#d2fa82" opacity="0.95"/><ellipse cx="682.81" cy="512.87" rx="2.07" ry="2.07" fill="#d2fa82" opacity="0.95"/><ellipse cx="676.96" cy="517.88" rx="2.9" ry="2.59" fill="#d2fa82" opacity="0.95"/><ellipse cx="700.02" cy="517.04" rx="2.28" ry="3.11" fill="#d2fa82" opacity="0.95"/><ellipse cx="721.24" cy="532.92" rx="2.07" ry="2.07" fill="#d2fa82" opacity="0.95"/><ellipse cx="717.06" cy="541.77" rx="1.86" ry="1.86" fill="#d2fa82" opacity="0.95"/><ellipse cx="701.18" cy="547.95" rx="1.86" ry="1.86" fill="#d2fa82" opacity="0.95"/><ellipse cx="702.02" cy="553.8" rx="2.07" ry="2.07" fill="#d2fa82" opacity="0.95"/><ellipse cx="684.81" cy="553.47" rx="2.28" ry="2.28" fill="#d2fa82" opacity="0.95"/><ellipse cx="728.75" cy="552.13" rx="3.11" ry="2.9" fill="#d2fa82" opacity="0.95"/><ellipse cx="756.32" cy="501.67" rx="2.59" ry="2.28" fill="#d2fa82" opacity="0.95"/></g>
<g filter="url(#b0)">
<circle cx="765.75" cy="502.11" r="1.29" fill="#d2d2d2" stroke="#5c5c5c" stroke-width="0.55"/>
<circle cx="765.03" cy="498.54" r="1.05" fill="#d2d2d2" stroke="#5c5c5c" stroke-width="0.55"/>
<circle cx="762.67" cy="495.45" r="1.08" fill="#d2d2d2" stroke="#5c5c5c" stroke-width="0.55"/>
<circle cx="761.95" cy="496.61" r="1.37" fill="#d2d2d2" stroke="#5c5c5c" stroke-width="0.55"/>
<circle cx="663.63" cy="539.41" r="1.44" fill="#d2d2d2" stroke="#5c5c5c" stroke-width="0.55"/>
<circle cx="661.95" cy="539.56" r="1.38" fill="#d2d2d2" stroke="#5c5c5c" stroke-width="0.55"/>
<circle cx="662.1" cy="538.19" r="1.23" fill="#d2d2d2" stroke="#5c5c5c" stroke-width="0.55"/>
<circle cx="748.77" cy="558.78" r="1.29" fill="#d2d2d2" stroke="#5c5c5c" stroke-width="0.55"/>
<circle cx="751.38" cy="560.67" r="0.95" fill="#d2d2d2" stroke="#5c5c5c" stroke-width="0.55"/>
<circle cx="750.81" cy="562.03" r="1.14" fill="#d2d2d2" stroke="#5c5c5c" stroke-width="0.55"/>
<circle cx="752.4" cy="559.55" r="1.26" fill="#d2d2d2" stroke="#5c5c5c" stroke-width="0.55"/>
<circle cx="752.05" cy="558.16" r="0.97" fill="#d2d2d2" stroke="#5c5c5c" stroke-width="0.55"/>
<circle cx="679.78" cy="544.74" r="1.01" fill="#d2d2d2" stroke="#5c5c5c" stroke-width="0.55"/>
<circle cx="682.69" cy="546.32" r="1.21" fill="#d2d2d2" stroke="#5c5c5c" stroke-width="0.55"/>
<circle cx="716.69" cy="530.63" r="1.03" fill="#d2d2d2" stroke="#5c5c5c" stroke-width="0.55"/>
<circle cx="716.65" cy="528.45" r="0.96" fill="#d2d2d2" stroke="#5c5c5c" stroke-width="0.55"/>
<circle cx="773.24" cy="536.55" r="1.07" fill="#d2d2d2" stroke="#5c5c5c" stroke-width="0.55"/>
<circle cx="774.45" cy="537.4" r="0.97" fill="#d2d2d2" stroke="#5c5c5c" stroke-width="0.55"/>
<circle cx="733.85" cy="474.37" r="1.19" fill="#d2d2d2" stroke="#5c5c5c" stroke-width="0.55"/>
<circle cx="733.88" cy="473.54" r="1.17" fill="#d2d2d2" stroke="#5c5c5c" stroke-width="0.55"/>
<circle cx="694.25" cy="531.02" r="0.9" fill="#d2d2d2" stroke="#5c5c5c" stroke-width="0.55"/>
<circle cx="677.48" cy="554.03" r="1.37" fill="#d2d2d2" stroke="#5c5c5c" stroke-width="0.55"/>
<circle cx="669.71" cy="540.23" r="1.16" fill="#d2d2d2" stroke="#5c5c5c" stroke-width="0.55"/>
<circle cx="716.63" cy="560.72" r="1.08" fill="#d2d2d2" stroke="#5c5c5c" stroke-width="0.55"/>
<circle cx="705.31" cy="560.31" r="0.99" fill="#d2d2d2" stroke="#5c5c5c" stroke-width="0.55"/>
<circle cx="673.51" cy="533.83" r="1.11" fill="#d2d2d2" stroke="#5c5c5c" stroke-width="0.55"/>
<circle cx="690.15" cy="483.25" r="1.02" fill="#d2d2d2" stroke="#5c5c5c" stroke-width="0.55"/>
<circle cx="726.23" cy="501.58" r="1.36" fill="#d2d2d2" stroke="#5c5c5c" stroke-width="0.55"/>
<circle cx="678.76" cy="483.28" r="0.93" fill="#d2d2d2" stroke="#5c5c5c" stroke-width="0.55"/>
<circle cx="676.96" cy="554.67" r="1" fill="#d2d2d2" stroke="#5c5c5c" stroke-width="0.55"/>
<circle cx="708.2" cy="558.44" r="1.01" fill="#d2d2d2" stroke="#5c5c5c" stroke-width="0.55"/>
<circle cx="700.15" cy="527.68" r="1.18" fill="#d2d2d2" stroke="#5c5c5c" stroke-width="0.55"/>
<circle cx="746.77" cy="522.71" r="1.31" fill="#d2d2d2" stroke="#5c5c5c" stroke-width="0.55"/>
<circle cx="689.83" cy="562.09" r="1.15" fill="#d2d2d2" stroke="#5c5c5c" stroke-width="0.55"/>
<circle cx="693.63" cy="560.86" r="1.19" fill="#d2d2d2" stroke="#5c5c5c" stroke-width="0.55"/>
<circle cx="735.74" cy="520.24" r="1.04" fill="#d2d2d2" stroke="#5c5c5c" stroke-width="0.55"/>
<circle cx="666.37" cy="497.38" r="1.23" fill="#d2d2d2" stroke="#5c5c5c" stroke-width="0.55"/>
<circle cx="679.36" cy="518.41" r="1.15" fill="#d2d2d2" stroke="#5c5c5c" stroke-width="0.55"/>
<circle cx="723.33" cy="502.17" r="1.05" fill="#d2d2d2" stroke="#5c5c5c" stroke-width="0.55"/>
<circle cx="668.51" cy="499.23" r="0.93" fill="#d2d2d2" stroke="#5c5c5c" stroke-width="0.55"/>
<circle cx="673.49" cy="537.7" r="0.97" fill="#d2d2d2" stroke="#5c5c5c" stroke-width="0.55"/>
<circle cx="712.59" cy="510.41" r="1.36" fill="#d2d2d2" stroke="#5c5c5c" stroke-width="0.55"/>
<circle cx="704.3" cy="484.23" r="1.07" fill="#d2d2d2" stroke="#5c5c5c" stroke-width="0.55"/>
<circle cx="697" cy="559.82" r="1.33" fill="#d2d2d2" stroke="#5c5c5c" stroke-width="0.55"/>
<circle cx="714.56" cy="559.89" r="1.15" fill="#d2d2d2" stroke="#5c5c5c" stroke-width="0.55"/>
<circle cx="730.16" cy="516.61" r="1.39" fill="#d2d2d2" stroke="#5c5c5c" stroke-width="0.55"/>
<circle cx="755.37" cy="562.36" r="0.89" fill="#d2d2d2" stroke="#5c5c5c" stroke-width="0.55"/>
<circle cx="692.52" cy="487.77" r="1.06" fill="#d2d2d2" stroke="#5c5c5c" stroke-width="0.55"/>
<circle cx="658.15" cy="518.6" r="1.28" fill="#d2d2d2" stroke="#5c5c5c" stroke-width="0.55"/>
<circle cx="701.87" cy="505.53" r="1.38" fill="#d2d2d2" stroke="#5c5c5c" stroke-width="0.55"/>
<circle cx="714.65" cy="535.32" r="0.85" fill="#d2d2d2" stroke="#5c5c5c" stroke-width="0.55"/>
<circle cx="684.16" cy="567.75" r="1.36" fill="#d2d2d2" stroke="#5c5c5c" stroke-width="0.55"/>
<circle cx="758.53" cy="512.37" r="1.09" fill="#d2d2d2" stroke="#5c5c5c" stroke-width="0.55"/>
<circle cx="735.94" cy="482.78" r="0.93" fill="#d2d2d2" stroke="#5c5c5c" stroke-width="0.55"/>
<circle cx="752.68" cy="541.26" r="1.38" fill="#d2d2d2" stroke="#5c5c5c" stroke-width="0.55"/>
<circle cx="727.52" cy="518.02" r="1.35" fill="#d2d2d2" stroke="#5c5c5c" stroke-width="0.55"/>
<circle cx="694.36" cy="529.45" r="1.29" fill="#d2d2d2" stroke="#5c5c5c" stroke-width="0.55"/>
<circle cx="714.6" cy="562.75" r="1.08" fill="#d2d2d2" stroke="#5c5c5c" stroke-width="0.55"/>
<circle cx="660.27" cy="553.72" r="1.11" fill="#d2d2d2" stroke="#5c5c5c" stroke-width="0.55"/>
<circle cx="701.16" cy="490.55" r="0.97" fill="#d2d2d2" stroke="#5c5c5c" stroke-width="0.55"/>
<circle cx="679.06" cy="553.53" r="0.99" fill="#d2d2d2" stroke="#5c5c5c" stroke-width="0.55"/>
<circle cx="730.15" cy="527.86" r="0.87" fill="#d2d2d2" stroke="#5c5c5c" stroke-width="0.55"/>
<circle cx="715.07" cy="535.64" r="1.28" fill="#d2d2d2" stroke="#5c5c5c" stroke-width="0.55"/>
<circle cx="676.53" cy="543.71" r="1.19" fill="#d2d2d2" stroke="#5c5c5c" stroke-width="0.55"/>
<circle cx="673.09" cy="512.04" r="1.23" fill="#d2d2d2" stroke="#5c5c5c" stroke-width="0.55"/>
<circle cx="708.07" cy="520.59" r="1.27" fill="#d2d2d2" stroke="#5c5c5c" stroke-width="0.55"/>
<circle cx="699.34" cy="550.88" r="1.02" fill="#d2d2d2" stroke="#5c5c5c" stroke-width="0.55"/>
<circle cx="710.93" cy="491.63" r="1.32" fill="#d2d2d2" stroke="#5c5c5c" stroke-width="0.55"/>
<circle cx="733.28" cy="525.77" r="0.93" fill="#d2d2d2" stroke="#5c5c5c" stroke-width="0.55"/>
<circle cx="714.76" cy="521.71" r="1.2" fill="#d2d2d2" stroke="#5c5c5c" stroke-width="0.55"/>
<circle cx="737.88" cy="495.15" r="1.29" fill="#d2d2d2" stroke="#5c5c5c" stroke-width="0.55"/>
<circle cx="700.11" cy="485.95" r="0.92" fill="#d2d2d2" stroke="#5c5c5c" stroke-width="0.55"/>
<circle cx="733.29" cy="506.64" r="1.07" fill="#d2d2d2" stroke="#5c5c5c" stroke-width="0.55"/>
<circle cx="708.29" cy="510.14" r="1.04" fill="#d2d2d2" stroke="#5c5c5c" stroke-width="0.55"/>
<circle cx="722.58" cy="508.13" r="1.3" fill="#d2d2d2" stroke="#5c5c5c" stroke-width="0.55"/>
</g>
<line x1="757" y1="563.5" x2="771.6" y2="563.5" stroke="#e6e6e6" stroke-width="0.75"/>
<text x="764.7" y="566.4" font-size="2.4" text-anchor="middle" fill="#eee">50 µm</text>
</g>
<g clip-path="url(#c4)">
<clipPath id="c4"><rect x="521.1" y="595" width="123.6" height="97.2"/></clipPath>
<rect x="521.1" y="595" width="123.6" height="97.2" fill="url(#bgg)"/>
<g filter="url(#b2)">
<ellipse cx="592.24" cy="609.23" rx="4.62" ry="4.12" fill="#5a5a5a" opacity="0.35"/>
<ellipse cx="624.69" cy="623.98" rx="6.26" ry="5.77" fill="#5a5a5a" opacity="0.48"/>
<ellipse cx="618.79" cy="681.24" rx="2.97" ry="2.64" fill="#5a5a5a" opacity="0.35"/>
</g>
<g filter="url(#b3)">
<circle cx="592.76" cy="609.13" r="1.62" fill="#a6a6a6" stroke="#4a4a4a" stroke-width="0.6"/>
<circle cx="594.88" cy="612.84" r="1.11" fill="#cecece" stroke="#4a4a4a" stroke-width="0.6"/>
<circle cx="595.16" cy="606.77" r="1.7" fill="#b4b4b4" stroke="#4a4a4a" stroke-width="0.6"/>
<circle cx="594.62" cy="609.23" r="1.34" fill="#cecece" stroke="#4a4a4a" stroke-width="0.6"/>
<circle cx="591.58" cy="607.01" r="1.28" fill="#a6a6a6" stroke="#4a4a4a" stroke-width="0.6"/>
<circle cx="592.85" cy="613.21" r="1.71" fill="#c4c4c4" stroke="#4a4a4a" stroke-width="0.6"/>
<circle cx="592.92" cy="607.27" r="1.75" fill="#a6a6a6" stroke="#4a4a4a" stroke-width="0.6"/>
<circle cx="589.91" cy="609.08" r="1.42" fill="#b4b4b4" stroke="#4a4a4a" stroke-width="0.6"/>
<circle cx="591.05" cy="609.82" r="1.5" fill="#cecece" stroke="#4a4a4a" stroke-width="0.6"/>
<circle cx="589.91" cy="611.75" r="1.75" fill="#b4b4b4" stroke="#4a4a4a" stroke-width="0.6"/>
<circle cx="590.36" cy="607.04" r="1.7" fill="#cecece" stroke="#4a4a4a" stroke-width="0.6"/>
<circle cx="595.64" cy="609.14" r="1.76" fill="#a6a6a6" stroke="#4a4a4a" stroke-width="0.6"/>
<circle cx="594.05" cy="609.42" r="1.22" fill="#c4c4c4" stroke="#4a4a4a" stroke-width="0.6"/>
<circle cx="627.85" cy="622" r="1.41" fill="#c4c4c4" stroke="#4a4a4a" stroke-width="0.6"/>
<circle cx="630.3" cy="626.58" r="1.66" fill="#cecece" stroke="#4a4a4a" stroke-width="0.6"/>
<circle cx="622.48" cy="624.31" r="1.44" fill="#a6a6a6" stroke="#4a4a4a" stroke-width="0.6"/>
<circle cx="620.39" cy="627.89" r="1.75" fill="#cecece" stroke="#4a4a4a" stroke-width="0.6"/>
<circle cx="624.49" cy="620.73" r="1.13" fill="#cecece" stroke="#4a4a4a" stroke-width="0.6"/>
<circle cx="629.73" cy="620.33" r="1.21" fill="#a6a6a6" stroke="#4a4a4a" stroke-width="0.6"/>
<circle cx="620.12" cy="623.98" r="1.78" fill="#cecece" stroke="#4a4a4a" stroke-width="0.6"/>
<circle cx="626.27" cy="624.38" r="1.69" fill="#b4b4b4" stroke="#4a4a4a" stroke-width="0.6"/>
<circle cx="620.63" cy="622.23" r="1.64" fill="#c4c4c4" stroke="#4a4a4a" stroke-width="0.6"/>
<circle cx="620.12" cy="621.18" r="1.28" fill="#a6a6a6" stroke="#4a4a4a" stroke-width="0.6"/>
<circle cx="625.23" cy="624.27" r="1.33" fill="#c4c4c4" stroke="#4a4a4a" stroke-width="0.6"/>
<circle cx="622.27" cy="620.97" r="1.34" fill="#b4b4b4" stroke="#4a4a4a" stroke-width="0.6"/>
<circle cx="620.62" cy="620.52" r="1.52" fill="#b4b4b4" stroke="#4a4a4a" stroke-width="0.6"/>
<circle cx="622.43" cy="629.07" r="1.66" fill="#b4b4b4" stroke="#4a4a4a" stroke-width="0.6"/>
<circle cx="629.58" cy="620.42" r="1.11" fill="#c4c4c4" stroke="#4a4a4a" stroke-width="0.6"/>
<circle cx="622.8" cy="620.85" r="1.37" fill="#cecece" stroke="#4a4a4a" stroke-width="0.6"/>
<circle cx="622.21" cy="623.72" r="1.27" fill="#c4c4c4" stroke="#4a4a4a" stroke-width="0.6"/>
<circle cx="628.47" cy="623.68" r="1.74" fill="#a6a6a6" stroke="#4a4a4a" stroke-width="0.6"/>
<circle cx="623.21" cy="620.86" r="1.32" fill="#b4b4b4" stroke="#4a4a4a" stroke-width="0.6"/>
<circle cx="620.32" cy="620.86" r="1.34" fill="#cecece" stroke="#4a4a4a" stroke-width="0.6"/>
<circle cx="627.24" cy="624.89" r="1.7" fill="#a6a6a6" stroke="#4a4a4a" stroke-width="0.6"/>
<circle cx="624.4" cy="622" r="1.68" fill="#c4c4c4" stroke="#4a4a4a" stroke-width="0.6"/>
<circle cx="621.3" cy="622.37" r="1.73" fill="#b4b4b4" stroke="#4a4a4a" stroke-width="0.6"/>
<circle cx="619.56" cy="681.23" r="1.74" fill="#cecece" stroke="#4a4a4a" stroke-width="0.6"/>
<circle cx="617.89" cy="678.92" r="1.17" fill="#c4c4c4" stroke="#4a4a4a" stroke-width="0.6"/>
<circle cx="617.93" cy="680.24" r="1.57" fill="#cecece" stroke="#4a4a4a" stroke-width="0.6"/>
<circle cx="619.52" cy="678.97" r="1.47" fill="#cecece" stroke="#4a4a4a" stroke-width="0.6"/>
<circle cx="619.91" cy="680.36" r="1.21" fill="#b4b4b4" stroke="#4a4a4a" stroke-width="0.6"/>
<circle cx="619.28" cy="680.75" r="1.39" fill="#b4b4b4" stroke="#4a4a4a" stroke-width="0.6"/>
<circle cx="616.23" cy="682.49" r="1.36" fill="#b4b4b4" stroke="#4a4a4a" stroke-width="0.6"/>
<circle cx="616.79" cy="680.41" r="1.44" fill="#c4c4c4" stroke="#4a4a4a" stroke-width="0.6"/>
<circle cx="595.98" cy="607.86" r="0.96" fill="#484848" opacity="0.7"/>
<circle cx="591.46" cy="612.2" r="1.04" fill="#484848" opacity="0.7"/>
<circle cx="593.58" cy="610.1" r="0.62" fill="#484848" opacity="0.7"/>
<circle cx="587.88" cy="610.01" r="0.88" fill="#484848" opacity="0.7"/>
<circle cx="589.44" cy="611.01" r="0.69" fill="#484848" opacity="0.7"/>
<circle cx="594.98" cy="608.4" r="0.72" fill="#484848" opacity="0.7"/>
<circle cx="590.59" cy="612.88" r="0.76" fill="#484848" opacity="0.7"/>
<circle cx="626.12" cy="625.36" r="0.77" fill="#484848" opacity="0.7"/>
<circle cx="624.32" cy="619.5" r="0.84" fill="#484848" opacity="0.7"/>
<circle cx="628.14" cy="621.87" r="0.99" fill="#484848" opacity="0.7"/>
<circle cx="630.52" cy="624.13" r="0.68" fill="#484848" opacity="0.7"/>
<circle cx="621.32" cy="619.36" r="0.93" fill="#484848" opacity="0.7"/>
<circle cx="620.39" cy="621.84" r="0.98" fill="#484848" opacity="0.7"/>
<circle cx="622.53" cy="626.13" r="0.88" fill="#484848" opacity="0.7"/>
<circle cx="622.46" cy="623.71" r="0.87" fill="#484848" opacity="0.7"/>
<circle cx="622.14" cy="624.47" r="0.95" fill="#484848" opacity="0.7"/>
<circle cx="625.38" cy="620.5" r="1.03" fill="#484848" opacity="0.7"/>
<circle cx="630.04" cy="623.58" r="0.8" fill="#484848" opacity="0.7"/>
<circle cx="624.36" cy="626.15" r="0.74" fill="#484848" opacity="0.7"/>
<circle cx="616.68" cy="681.56" r="0.9" fill="#484848" opacity="0.7"/>
<circle cx="616.94" cy="681.98" r="1.06" fill="#484848" opacity="0.7"/>
<circle cx="620.33" cy="681.04" r="1.07" fill="#484848" opacity="0.7"/>
<circle cx="620.57" cy="681.48" r="1.05" fill="#484848" opacity="0.7"/>
</g>
<g filter="url(#b1)">
<ellipse cx="571.42" cy="616.52" rx="2.78" ry="2.78" fill="#bbee68" opacity="0.97"/>
<ellipse cx="576.63" cy="624.5" rx="2.6" ry="2.6" fill="#bcee6b" opacity="0.93"/>
<ellipse cx="580.62" cy="621.9" rx="2.6" ry="2.6" fill="#bcee6b" opacity="0.93"/>
<ellipse cx="535.5" cy="622.24" rx="4.34" ry="5.21" fill="#c5ec8f" opacity="0.47"/>
<ellipse cx="534.98" cy="630.4" rx="4.34" ry="2.6" fill="#c4ec8c" opacity="0.51"/>
<ellipse cx="580.1" cy="635.26" rx="8.68" ry="4.86" fill="#c3ec88" opacity="0.56" transform="rotate(10 580.1 635.26)"/>
<ellipse cx="569.17" cy="637.86" rx="2.78" ry="2.78" fill="#bcee6b" opacity="0.93"/>
<ellipse cx="554.59" cy="637.86" rx="3.47" ry="3.47" fill="#bbee68" opacity="0.97"/>
<ellipse cx="548" cy="643.07" rx="3.47" ry="3.47" fill="#bbee68" opacity="0.97"/>
<ellipse cx="542.79" cy="642.2" rx="6.94" ry="6.07" fill="#c7eb96" opacity="0.38"/>
<ellipse cx="561.01" cy="646.54" rx="3.82" ry="5.21" fill="#c6eb93" opacity="0.42" transform="rotate(20 561.01 646.54)"/>
<ellipse cx="541.92" cy="658.68" rx="4.34" ry="5.21" fill="#c8eb9e" opacity="0.28"/>
<ellipse cx="554.07" cy="659.55" rx="6.07" ry="5.21" fill="#c8eb9a" opacity="0.33"/>
<ellipse cx="583.91" cy="654.34" rx="2.43" ry="2.43" fill="#bcee6b" opacity="0.93"/>
<ellipse cx="577.49" cy="659.9" rx="2.43" ry="2.43" fill="#bcee6b" opacity="0.93"/>
<ellipse cx="587.04" cy="663.37" rx="2.43" ry="2.43" fill="#bcee6b" opacity="0.93"/>
<ellipse cx="551.12" cy="669.44" rx="2.43" ry="2.08" fill="#bcee6b" opacity="0.93"/>
<ellipse cx="554.59" cy="673.78" rx="1.39" ry="2.6" fill="#bfed7a" opacity="0.74" transform="rotate(-20 554.59 673.78)"/>
<ellipse cx="572.81" cy="671.7" rx="2.43" ry="2.08" fill="#bcee6b" opacity="0.93"/>
<ellipse cx="570.03" cy="676.55" rx="2.6" ry="2.43" fill="#bcee6b" opacity="0.93"/>
<ellipse cx="590.51" cy="674.3" rx="7.81" ry="6.07" fill="#c5ec8f" opacity="0.47"/>
<ellipse cx="600.05" cy="678.64" rx="2.6" ry="2.6" fill="#bcee6b" opacity="0.93"/>
<ellipse cx="586.17" cy="681.24" rx="5.21" ry="4.34" fill="#c6eb93" opacity="0.42"/>
</g>
<g filter="url(#b3)"><ellipse cx="571.42" cy="616.52" rx="1.72" ry="1.72" fill="#d2fa82" opacity="0.95"/><ellipse cx="576.63" cy="624.5" rx="1.61" ry="1.61" fill="#d2fa82" opacity="0.95"/><ellipse cx="580.62" cy="621.9" rx="1.61" ry="1.61" fill="#d2fa82" opacity="0.95"/><ellipse cx="569.17" cy="637.86" rx="1.72" ry="1.72" fill="#d2fa82" opacity="0.95"/><ellipse cx="554.59" cy="637.86" rx="2.15" ry="2.15" fill="#d2fa82" opacity="0.95"/><ellipse cx="548" cy="643.07" rx="2.15" ry="2.15" fill="#d2fa82" opacity="0.95"/><ellipse cx="583.91" cy="654.34" rx="1.51" ry="1.51" fill="#d2fa82" opacity="0.95"/><ellipse cx="577.49" cy="659.9" rx="1.51" ry="1.51" fill="#d2fa82" opacity="0.95"/><ellipse cx="587.04" cy="663.37" rx="1.51" ry="1.51" fill="#d2fa82" opacity="0.95"/><ellipse cx="551.12" cy="669.44" rx="1.51" ry="1.29" fill="#d2fa82" opacity="0.95"/><ellipse cx="572.81" cy="671.7" rx="1.51" ry="1.29" fill="#d2fa82" opacity="0.95"/><ellipse cx="570.03" cy="676.55" rx="1.61" ry="1.51" fill="#d2fa82" opacity="0.95"/><ellipse cx="600.05" cy="678.64" rx="1.61" ry="1.61" fill="#d2fa82" opacity="0.95"/></g>
<g filter="url(#b0)">
<circle cx="590.26" cy="627.2" r="1.5" fill="#d2d2d2" stroke="#5c5c5c" stroke-width="0.55"/>
<circle cx="588.04" cy="624.8" r="0.92" fill="#d2d2d2" stroke="#5c5c5c" stroke-width="0.55"/>
<circle cx="587.72" cy="626.14" r="1.37" fill="#d2d2d2" stroke="#5c5c5c" stroke-width="0.55"/>
<circle cx="546.73" cy="634.51" r="1.14" fill="#d2d2d2" stroke="#5c5c5c" stroke-width="0.55"/>
<circle cx="547.24" cy="632.39" r="1" fill="#d2d2d2" stroke="#5c5c5c" stroke-width="0.55"/>
<circle cx="552.52" cy="633.19" r="1.19" fill="#d2d2d2" stroke="#5c5c5c" stroke-width="0.55"/>
<circle cx="552.96" cy="633.3" r="1.21" fill="#d2d2d2" stroke="#5c5c5c" stroke-width="0.55"/>
<circle cx="588.46" cy="660.27" r="1.36" fill="#d2d2d2" stroke="#5c5c5c" stroke-width="0.55"/>
<circle cx="583.68" cy="658.58" r="1.32" fill="#d2d2d2" stroke="#5c5c5c" stroke-width="0.55"/>
<circle cx="586.68" cy="656.88" r="1.42" fill="#d2d2d2" stroke="#5c5c5c" stroke-width="0.55"/>
<circle cx="585.83" cy="659.13" r="1.42" fill="#d2d2d2" stroke="#5c5c5c" stroke-width="0.55"/>
<circle cx="589.38" cy="657.98" r="1.43" fill="#d2d2d2" stroke="#5c5c5c" stroke-width="0.55"/>
<circle cx="641.29" cy="643.1" r="1.25" fill="#d2d2d2" stroke="#5c5c5c" stroke-width="0.55"/>
<circle cx="642.41" cy="643.61" r="1.3" fill="#d2d2d2" stroke="#5c5c5c" stroke-width="0.55"/>
<circle cx="620.05" cy="648.94" r="1.47" fill="#d2d2d2" stroke="#5c5c5c" stroke-width="0.55"/>
<circle cx="621.41" cy="648.23" r="1.38" fill="#d2d2d2" stroke="#5c5c5c" stroke-width="0.55"/>
<circle cx="559.24" cy="601.25" r="1.27" fill="#d2d2d2" stroke="#5c5c5c" stroke-width="0.55"/>
<circle cx="560.71" cy="599.22" r="1.18" fill="#d2d2d2" stroke="#5c5c5c" stroke-width="0.55"/>
<circle cx="601.17" cy="595.82" r="1.39" fill="#d2d2d2" stroke="#5c5c5c" stroke-width="0.55"/>
<circle cx="587.55" cy="688.15" r="1.09" fill="#d2d2d2" stroke="#5c5c5c" stroke-width="0.55"/>
<circle cx="580.66" cy="689.98" r="1.13" fill="#d2d2d2" stroke="#5c5c5c" stroke-width="0.55"/>
<circle cx="583.61" cy="688.68" r="0.98" fill="#d2d2d2" stroke="#5c5c5c" stroke-width="0.55"/>
<circle cx="585.09" cy="690.17" r="1.04" fill="#d2d2d2" stroke="#5c5c5c" stroke-width="0.55"/>
<circle cx="533.77" cy="662.94" r="1.24" fill="#d2d2d2" stroke="#5c5c5c" stroke-width="0.55"/>
<circle cx="552.79" cy="623.2" r="1.12" fill="#d2d2d2" stroke="#5c5c5c" stroke-width="0.55"/>
<circle cx="552.28" cy="673.13" r="1.37" fill="#d2d2d2" stroke="#5c5c5c" stroke-width="0.55"/>
<circle cx="584.93" cy="660" r="1.37" fill="#d2d2d2" stroke="#5c5c5c" stroke-width="0.55"/>
<circle cx="586.28" cy="670.18" r="1.28" fill="#d2d2d2" stroke="#5c5c5c" stroke-width="0.55"/>
<circle cx="596.73" cy="673.76" r="0.87" fill="#d2d2d2" stroke="#5c5c5c" stroke-width="0.55"/>
<circle cx="549.69" cy="629.94" r="1.07" fill="#d2d2d2" stroke="#5c5c5c" stroke-width="0.55"/>
<circle cx="593.02" cy="653.5" r="1.02" fill="#d2d2d2" stroke="#5c5c5c" stroke-width="0.55"/>
<circle cx="600.56" cy="684.59" r="1.06" fill="#d2d2d2" stroke="#5c5c5c" stroke-width="0.55"/>
<circle cx="623.21" cy="680.61" r="1.31" fill="#d2d2d2" stroke="#5c5c5c" stroke-width="0.55"/>
<circle cx="573.23" cy="606.44" r="1.36" fill="#d2d2d2" stroke="#5c5c5c" stroke-width="0.55"/>
<circle cx="539.48" cy="656.93" r="0.87" fill="#d2d2d2" stroke="#5c5c5c" stroke-width="0.55"/>
<circle cx="594.52" cy="672.99" r="1.05" fill="#d2d2d2" stroke="#5c5c5c" stroke-width="0.55"/>
<circle cx="564.81" cy="674.58" r="0.9" fill="#d2d2d2" stroke="#5c5c5c" stroke-width="0.55"/>
<circle cx="565.26" cy="686.46" r="1.34" fill="#d2d2d2" stroke="#5c5c5c" stroke-width="0.55"/>
<circle cx="528.87" cy="643.71" r="0.93" fill="#d2d2d2" stroke="#5c5c5c" stroke-width="0.55"/>
<circle cx="616.25" cy="644.04" r="1.23" fill="#d2d2d2" stroke="#5c5c5c" stroke-width="0.55"/>
<circle cx="583.48" cy="635.73" r="0.98" fill="#d2d2d2" stroke="#5c5c5c" stroke-width="0.55"/>
<circle cx="640.48" cy="687.22" r="1.36" fill="#d2d2d2" stroke="#5c5c5c" stroke-width="0.55"/>
<circle cx="601.56" cy="643.18" r="0.92" fill="#d2d2d2" stroke="#5c5c5c" stroke-width="0.55"/>
<circle cx="545.04" cy="683.73" r="1.32" fill="#d2d2d2" stroke="#5c5c5c" stroke-width="0.55"/>
<circle cx="629.26" cy="668.78" r="1.3" fill="#d2d2d2" stroke="#5c5c5c" stroke-width="0.55"/>
<circle cx="556.56" cy="614.54" r="1.37" fill="#d2d2d2" stroke="#5c5c5c" stroke-width="0.55"/>
<circle cx="576.28" cy="668.43" r="1.07" fill="#d2d2d2" stroke="#5c5c5c" stroke-width="0.55"/>
<circle cx="596.98" cy="634.8" r="1.36" fill="#d2d2d2" stroke="#5c5c5c" stroke-width="0.55"/>
<circle cx="610.17" cy="666.56" r="1.19" fill="#d2d2d2" stroke="#5c5c5c" stroke-width="0.55"/>
<circle cx="630.18" cy="685.6" r="0.91" fill="#d2d2d2" stroke="#5c5c5c" stroke-width="0.55"/>
<circle cx="546.88" cy="612.47" r="1.17" fill="#d2d2d2" stroke="#5c5c5c" stroke-width="0.55"/>
<circle cx="540.7" cy="644.03" r="1.23" fill="#d2d2d2" stroke="#5c5c5c" stroke-width="0.55"/>
<circle cx="599.42" cy="660.03" r="1.31" fill="#d2d2d2" stroke="#5c5c5c" stroke-width="0.55"/>
</g>
<line x1="624" y1="685.5" x2="638.6" y2="685.5" stroke="#e6e6e6" stroke-width="0.75"/>
<text x="631.5" y="688.4" font-size="2.4" text-anchor="middle" fill="#eee">50 µm</text>
</g>
<g clip-path="url(#c5)">
<clipPath id="c5"><rect x="653.9" y="595" width="124" height="97.2"/></clipPath>
<rect x="653.9" y="595" width="124" height="97.2" fill="url(#bgg)"/>
<g filter="url(#b2)">
<ellipse cx="725.41" cy="608.87" rx="5.56" ry="2.86" fill="#5a5a5a" opacity="0.35"/>
<ellipse cx="752.15" cy="628.75" rx="6.67" ry="6.03" fill="#5a5a5a" opacity="0.48"/>
<ellipse cx="671.11" cy="636.77" rx="4.76" ry="3.97" fill="#5a5a5a" opacity="0.35"/>
</g>
<g filter="url(#b3)">
<circle cx="722.8" cy="610.46" r="1.39" fill="#c4c4c4" stroke="#4a4a4a" stroke-width="0.6"/>
<circle cx="721.88" cy="609.5" r="1.56" fill="#b4b4b4" stroke="#4a4a4a" stroke-width="0.6"/>
<circle cx="725.15" cy="611.26" r="1.11" fill="#b4b4b4" stroke="#4a4a4a" stroke-width="0.6"/>
<circle cx="724.32" cy="610.52" r="1.2" fill="#c4c4c4" stroke="#4a4a4a" stroke-width="0.6"/>
<circle cx="725.28" cy="607.19" r="1.65" fill="#c4c4c4" stroke="#4a4a4a" stroke-width="0.6"/>
<circle cx="728.25" cy="608.46" r="1.73" fill="#cecece" stroke="#4a4a4a" stroke-width="0.6"/>
<circle cx="727.1" cy="606.57" r="1.12" fill="#a6a6a6" stroke="#4a4a4a" stroke-width="0.6"/>
<circle cx="720.95" cy="609.51" r="1.31" fill="#b4b4b4" stroke="#4a4a4a" stroke-width="0.6"/>
<circle cx="725.93" cy="610.52" r="1.28" fill="#cecece" stroke="#4a4a4a" stroke-width="0.6"/>
<circle cx="726.22" cy="607.14" r="1.4" fill="#b4b4b4" stroke="#4a4a4a" stroke-width="0.6"/>
<circle cx="721.87" cy="606.58" r="1.31" fill="#a6a6a6" stroke="#4a4a4a" stroke-width="0.6"/>
<circle cx="730.96" cy="609.68" r="1.68" fill="#a6a6a6" stroke="#4a4a4a" stroke-width="0.6"/>
<circle cx="726.47" cy="606.76" r="1.26" fill="#a6a6a6" stroke="#4a4a4a" stroke-width="0.6"/>
<circle cx="727.23" cy="610.24" r="1.42" fill="#a6a6a6" stroke="#4a4a4a" stroke-width="0.6"/>
<circle cx="729.89" cy="609.88" r="1.61" fill="#c4c4c4" stroke="#4a4a4a" stroke-width="0.6"/>
<circle cx="753.87" cy="629.9" r="1.19" fill="#c4c4c4" stroke="#4a4a4a" stroke-width="0.6"/>
<circle cx="757.69" cy="629.04" r="1.74" fill="#b4b4b4" stroke="#4a4a4a" stroke-width="0.6"/>
<circle cx="756.54" cy="632.2" r="1.76" fill="#a6a6a6" stroke="#4a4a4a" stroke-width="0.6"/>
<circle cx="752.41" cy="626.28" r="1.55" fill="#c4c4c4" stroke="#4a4a4a" stroke-width="0.6"/>
<circle cx="752.04" cy="631.43" r="1.11" fill="#a6a6a6" stroke="#4a4a4a" stroke-width="0.6"/>
<circle cx="745.5" cy="627.78" r="1.17" fill="#a6a6a6" stroke="#4a4a4a" stroke-width="0.6"/>
<circle cx="754.78" cy="631.91" r="1.13" fill="#a6a6a6" stroke="#4a4a4a" stroke-width="0.6"/>
<circle cx="746.3" cy="629.95" r="1.42" fill="#b4b4b4" stroke="#4a4a4a" stroke-width="0.6"/>
<circle cx="753.33" cy="629.02" r="1.24" fill="#c4c4c4" stroke="#4a4a4a" stroke-width="0.6"/>
<circle cx="748.79" cy="623.45" r="1.45" fill="#b4b4b4" stroke="#4a4a4a" stroke-width="0.6"/>
<circle cx="754.74" cy="630.53" r="1.39" fill="#cecece" stroke="#4a4a4a" stroke-width="0.6"/>
<circle cx="754" cy="630.11" r="1.4" fill="#b4b4b4" stroke="#4a4a4a" stroke-width="0.6"/>
<circle cx="753.99" cy="626.14" r="1.72" fill="#a6a6a6" stroke="#4a4a4a" stroke-width="0.6"/>
<circle cx="755.43" cy="625.82" r="1.26" fill="#c4c4c4" stroke="#4a4a4a" stroke-width="0.6"/>
<circle cx="754.44" cy="633.51" r="1.68" fill="#a6a6a6" stroke="#4a4a4a" stroke-width="0.6"/>
<circle cx="754.2" cy="626.52" r="1.4" fill="#cecece" stroke="#4a4a4a" stroke-width="0.6"/>
<circle cx="755.98" cy="629.23" r="1.31" fill="#c4c4c4" stroke="#4a4a4a" stroke-width="0.6"/>
<circle cx="753.53" cy="629.98" r="1.8" fill="#a6a6a6" stroke="#4a4a4a" stroke-width="0.6"/>
<circle cx="750.47" cy="632.97" r="1.47" fill="#b4b4b4" stroke="#4a4a4a" stroke-width="0.6"/>
<circle cx="746.84" cy="629.6" r="1.45" fill="#a6a6a6" stroke="#4a4a4a" stroke-width="0.6"/>
<circle cx="750.17" cy="628.86" r="1.54" fill="#cecece" stroke="#4a4a4a" stroke-width="0.6"/>
<circle cx="749.23" cy="624.04" r="1.32" fill="#b4b4b4" stroke="#4a4a4a" stroke-width="0.6"/>
<circle cx="746.02" cy="630.09" r="1.61" fill="#c4c4c4" stroke="#4a4a4a" stroke-width="0.6"/>
<circle cx="669.63" cy="637.56" r="1.37" fill="#a6a6a6" stroke="#4a4a4a" stroke-width="0.6"/>
<circle cx="672.61" cy="640.15" r="1.36" fill="#b4b4b4" stroke="#4a4a4a" stroke-width="0.6"/>
<circle cx="673.3" cy="636.97" r="1.16" fill="#a6a6a6" stroke="#4a4a4a" stroke-width="0.6"/>
<circle cx="674.18" cy="635.97" r="1.65" fill="#a6a6a6" stroke="#4a4a4a" stroke-width="0.6"/>
<circle cx="668.43" cy="635.28" r="1.61" fill="#a6a6a6" stroke="#4a4a4a" stroke-width="0.6"/>
<circle cx="670.12" cy="636.49" r="1.8" fill="#cecece" stroke="#4a4a4a" stroke-width="0.6"/>
<circle cx="668.75" cy="639.51" r="1.39" fill="#a6a6a6" stroke="#4a4a4a" stroke-width="0.6"/>
<circle cx="673.1" cy="636.37" r="1.14" fill="#c4c4c4" stroke="#4a4a4a" stroke-width="0.6"/>
<circle cx="730.76" cy="609.09" r="0.85" fill="#484848" opacity="0.7"/>
<circle cx="728.93" cy="607.86" r="1" fill="#484848" opacity="0.7"/>
<circle cx="721.02" cy="609.54" r="0.85" fill="#484848" opacity="0.7"/>
<circle cx="727.61" cy="609.03" r="0.72" fill="#484848" opacity="0.7"/>
<circle cx="722.46" cy="609.88" r="0.87" fill="#484848" opacity="0.7"/>
<circle cx="723.42" cy="607.27" r="0.76" fill="#484848" opacity="0.7"/>
<circle cx="719.72" cy="608.66" r="0.99" fill="#484848" opacity="0.7"/>
<circle cx="722.45" cy="606.62" r="0.71" fill="#484848" opacity="0.7"/>
<circle cx="755.99" cy="629.94" r="0.69" fill="#484848" opacity="0.7"/>
<circle cx="751.06" cy="624.84" r="0.8" fill="#484848" opacity="0.7"/>
<circle cx="752.94" cy="632.97" r="0.96" fill="#484848" opacity="0.7"/>
<circle cx="749.9" cy="626.56" r="0.8" fill="#484848" opacity="0.7"/>
<circle cx="750.96" cy="627.71" r="1.05" fill="#484848" opacity="0.7"/>
<circle cx="757.64" cy="629.47" r="0.67" fill="#484848" opacity="0.7"/>
<circle cx="757.76" cy="627.32" r="0.71" fill="#484848" opacity="0.7"/>
<circle cx="745.69" cy="628.62" r="1.03" fill="#484848" opacity="0.7"/>
<circle cx="749.22" cy="624.42" r="0.97" fill="#484848" opacity="0.7"/>
<circle cx="756.48" cy="626.45" r="0.91" fill="#484848" opacity="0.7"/>
<circle cx="753.64" cy="624.42" r="0.71" fill="#484848" opacity="0.7"/>
<circle cx="748.52" cy="626.93" r="0.96" fill="#484848" opacity="0.7"/>
<circle cx="674.17" cy="637.47" r="1.02" fill="#484848" opacity="0.7"/>
<circle cx="666.53" cy="638.08" r="0.67" fill="#484848" opacity="0.7"/>
<circle cx="673.12" cy="636.41" r="1.04" fill="#484848" opacity="0.7"/>
<circle cx="672.41" cy="639.77" r="0.91" fill="#484848" opacity="0.7"/>
</g>
<g filter="url(#b1)">
<ellipse cx="697.01" cy="615.89" rx="3.68" ry="2.01" fill="#bded6f" opacity="0.88" transform="rotate(-10 697.01 615.89)"/>
<ellipse cx="703.69" cy="615.89" rx="2.51" ry="2.51" fill="#c1ec81" opacity="0.65"/>
<ellipse cx="680.3" cy="622.57" rx="4.18" ry="5.85" fill="#c1ec81" opacity="0.65" transform="rotate(20 680.3 622.57)"/>
<ellipse cx="708.7" cy="625.91" rx="2.67" ry="2.34" fill="#bcee6b" opacity="0.93"/>
<ellipse cx="714.22" cy="622.57" rx="2.67" ry="2.67" fill="#bded6f" opacity="0.88"/>
<ellipse cx="715.39" cy="634.26" rx="8.35" ry="4.68" fill="#bfed7a" opacity="0.74" transform="rotate(35 715.39 634.26)"/>
<ellipse cx="701.18" cy="638.78" rx="3.68" ry="2.34" fill="#beed72" opacity="0.84" transform="rotate(-20 701.18 638.78)"/>
<ellipse cx="673.62" cy="640.11" rx="3.68" ry="3.68" fill="#bcee6b" opacity="0.93"/>
<ellipse cx="681.13" cy="641.45" rx="3.68" ry="3.68" fill="#bbee68" opacity="0.97"/>
<ellipse cx="694.5" cy="647.63" rx="3.01" ry="4.18" fill="#c2ec84" opacity="0.61"/>
<ellipse cx="677.79" cy="649.3" rx="3.01" ry="3.68" fill="#bfed7a" opacity="0.74"/>
<ellipse cx="679.46" cy="658.49" rx="3.01" ry="2.67" fill="#bcee6b" opacity="0.93"/>
<ellipse cx="714.55" cy="653.81" rx="3.34" ry="2.51" fill="#bded6f" opacity="0.88"/>
<ellipse cx="719.23" cy="663.84" rx="2.51" ry="3.01" fill="#bcee6b" opacity="0.93"/>
<ellipse cx="684.14" cy="671.02" rx="2.51" ry="2.34" fill="#bcee6b" opacity="0.93"/>
<ellipse cx="686.98" cy="674.37" rx="1.34" ry="2.01" fill="#bfed7a" opacity="0.74"/>
<ellipse cx="702.86" cy="671.86" rx="3.34" ry="2.01" fill="#bded6f" opacity="0.88"/>
<ellipse cx="701.18" cy="677.21" rx="3.01" ry="2.34" fill="#bcee6b" opacity="0.93"/>
<ellipse cx="724.24" cy="677.21" rx="3.01" ry="3.01" fill="#bcee6b" opacity="0.93"/>
<ellipse cx="731.26" cy="679.38" rx="3.01" ry="3.34" fill="#beed72" opacity="0.84"/>
<ellipse cx="717.89" cy="682.72" rx="5.85" ry="4.18" fill="#c4ec8c" opacity="0.51"/>
</g>
<g filter="url(#b3)"><ellipse cx="697.01" cy="615.89" rx="2.28" ry="1.24" fill="#d2fa82" opacity="0.95" transform="rotate(-10 697.01 615.89)"/><ellipse cx="708.7" cy="625.91" rx="1.66" ry="1.45" fill="#d2fa82" opacity="0.95"/><ellipse cx="714.22" cy="622.57" rx="1.66" ry="1.66" fill="#d2fa82" opacity="0.95"/><ellipse cx="701.18" cy="638.78" rx="2.28" ry="1.45" fill="#d2fa82" opacity="0.95" transform="rotate(-20 701.18 638.78)"/><ellipse cx="673.62" cy="640.11" rx="2.28" ry="2.28" fill="#d2fa82" opacity="0.95"/><ellipse cx="681.13" cy="641.45" rx="2.28" ry="2.28" fill="#d2fa82" opacity="0.95"/><ellipse cx="679.46" cy="658.49" rx="1.86" ry="1.66" fill="#d2fa82" opacity="0.95"/><ellipse cx="714.55" cy="653.81" rx="2.07" ry="1.55" fill="#d2fa82" opacity="0.95"/><ellipse cx="719.23" cy="663.84" rx="1.55" ry="1.86" fill="#d2fa82" opacity="0.95"/><ellipse cx="684.14" cy="671.02" rx="1.55" ry="1.45" fill="#d2fa82" opacity="0.95"/><ellipse cx="702.86" cy="671.86" rx="2.07" ry="1.24" fill="#d2fa82" opacity="0.95"/><ellipse cx="701.18" cy="677.21" rx="1.86" ry="1.45" fill="#d2fa82" opacity="0.95"/><ellipse cx="724.24" cy="677.21" rx="1.86" ry="1.86" fill="#d2fa82" opacity="0.95"/><ellipse cx="731.26" cy="679.38" rx="1.86" ry="2.07" fill="#d2fa82" opacity="0.95"/></g>
<g filter="url(#b0)">
<circle cx="753.79" cy="646.92" r="0.97" fill="#d2d2d2" stroke="#5c5c5c" stroke-width="0.55"/>
<circle cx="755.73" cy="649.64" r="1.34" fill="#d2d2d2" stroke="#5c5c5c" stroke-width="0.55"/>
<circle cx="755.63" cy="649.27" r="1.47" fill="#d2d2d2" stroke="#5c5c5c" stroke-width="0.55"/>
<circle cx="754.3" cy="650.2" r="1.27" fill="#d2d2d2" stroke="#5c5c5c" stroke-width="0.55"/>
<circle cx="753.02" cy="684.54" r="1.47" fill="#d2d2d2" stroke="#5c5c5c" stroke-width="0.55"/>
<circle cx="753.1" cy="686.12" r="1.16" fill="#d2d2d2" stroke="#5c5c5c" stroke-width="0.55"/>
<circle cx="753.23" cy="685.77" r="0.95" fill="#d2d2d2" stroke="#5c5c5c" stroke-width="0.55"/>
<circle cx="753.74" cy="685.38" r="1.31" fill="#d2d2d2" stroke="#5c5c5c" stroke-width="0.55"/>
<circle cx="774.92" cy="615.28" r="1.15" fill="#d2d2d2" stroke="#5c5c5c" stroke-width="0.55"/>
<circle cx="774.71" cy="616.15" r="1.42" fill="#d2d2d2" stroke="#5c5c5c" stroke-width="0.55"/>
<circle cx="722.2" cy="658.01" r="1.41" fill="#d2d2d2" stroke="#5c5c5c" stroke-width="0.55"/>
<circle cx="723.32" cy="659.75" r="1.21" fill="#d2d2d2" stroke="#5c5c5c" stroke-width="0.55"/>
<circle cx="715.56" cy="657.54" r="1.09" fill="#d2d2d2" stroke="#5c5c5c" stroke-width="0.55"/>
<circle cx="717.15" cy="656.39" r="1.08" fill="#d2d2d2" stroke="#5c5c5c" stroke-width="0.55"/>
<circle cx="721.22" cy="660.67" r="1.07" fill="#d2d2d2" stroke="#5c5c5c" stroke-width="0.55"/>
<circle cx="719.59" cy="625.39" r="0.95" fill="#d2d2d2" stroke="#5c5c5c" stroke-width="0.55"/>
<circle cx="720.04" cy="623.76" r="1.27" fill="#d2d2d2" stroke="#5c5c5c" stroke-width="0.55"/>
<circle cx="720.69" cy="628.5" r="1.47" fill="#d2d2d2" stroke="#5c5c5c" stroke-width="0.55"/>
<circle cx="718.56" cy="627.72" r="0.94" fill="#d2d2d2" stroke="#5c5c5c" stroke-width="0.55"/>
<circle cx="682.06" cy="666.34" r="1.06" fill="#d2d2d2" stroke="#5c5c5c" stroke-width="0.55"/>
<circle cx="680.43" cy="670.41" r="1.47" fill="#d2d2d2" stroke="#5c5c5c" stroke-width="0.55"/>
<circle cx="681.22" cy="668.16" r="0.97" fill="#d2d2d2" stroke="#5c5c5c" stroke-width="0.55"/>
<circle cx="741.69" cy="621.19" r="1.47" fill="#d2d2d2" stroke="#5c5c5c" stroke-width="0.55"/>
<circle cx="731.37" cy="645.36" r="1.03" fill="#d2d2d2" stroke="#5c5c5c" stroke-width="0.55"/>
<circle cx="712.84" cy="597.38" r="0.96" fill="#d2d2d2" stroke="#5c5c5c" stroke-width="0.55"/>
<circle cx="703.92" cy="686.38" r="1.38" fill="#d2d2d2" stroke="#5c5c5c" stroke-width="0.55"/>
<circle cx="704.95" cy="668.7" r="1.26" fill="#d2d2d2" stroke="#5c5c5c" stroke-width="0.55"/>
<circle cx="772.18" cy="674.62" r="1.27" fill="#d2d2d2" stroke="#5c5c5c" stroke-width="0.55"/>
<circle cx="676.47" cy="637.73" r="1.01" fill="#d2d2d2" stroke="#5c5c5c" stroke-width="0.55"/>
<circle cx="674.77" cy="615.89" r="1.25" fill="#d2d2d2" stroke="#5c5c5c" stroke-width="0.55"/>
<circle cx="666.97" cy="600.06" r="0.86" fill="#d2d2d2" stroke="#5c5c5c" stroke-width="0.55"/>
<circle cx="739.33" cy="624.28" r="0.91" fill="#d2d2d2" stroke="#5c5c5c" stroke-width="0.55"/>
<circle cx="697.17" cy="600.34" r="0.89" fill="#d2d2d2" stroke="#5c5c5c" stroke-width="0.55"/>
<circle cx="704.02" cy="610.66" r="1.08" fill="#d2d2d2" stroke="#5c5c5c" stroke-width="0.55"/>
<circle cx="760.11" cy="654.96" r="1.02" fill="#d2d2d2" stroke="#5c5c5c" stroke-width="0.55"/>
<circle cx="677.86" cy="634.94" r="1.37" fill="#d2d2d2" stroke="#5c5c5c" stroke-width="0.55"/>
<circle cx="673.69" cy="657.11" r="1.27" fill="#d2d2d2" stroke="#5c5c5c" stroke-width="0.55"/>
<circle cx="746.92" cy="656.02" r="0.9" fill="#d2d2d2" stroke="#5c5c5c" stroke-width="0.55"/>
<circle cx="761.37" cy="682.16" r="1.34" fill="#d2d2d2" stroke="#5c5c5c" stroke-width="0.55"/>
<circle cx="743.98" cy="671.11" r="1.07" fill="#d2d2d2" stroke="#5c5c5c" stroke-width="0.55"/>
<circle cx="708.44" cy="648.56" r="0.86" fill="#d2d2d2" stroke="#5c5c5c" stroke-width="0.55"/>
<circle cx="767.93" cy="636.72" r="1.08" fill="#d2d2d2" stroke="#5c5c5c" stroke-width="0.55"/>
<circle cx="716.04" cy="662.97" r="1.14" fill="#d2d2d2" stroke="#5c5c5c" stroke-width="0.55"/>
<circle cx="662.51" cy="623.75" r="1.05" fill="#d2d2d2" stroke="#5c5c5c" stroke-width="0.55"/>
<circle cx="715.55" cy="609.19" r="1.31" fill="#d2d2d2" stroke="#5c5c5c" stroke-width="0.55"/>
<circle cx="704.16" cy="657.07" r="1.25" fill="#d2d2d2" stroke="#5c5c5c" stroke-width="0.55"/>
<circle cx="703.4" cy="600.9" r="1.36" fill="#d2d2d2" stroke="#5c5c5c" stroke-width="0.55"/>
<circle cx="754.19" cy="616.08" r="1.19" fill="#d2d2d2" stroke="#5c5c5c" stroke-width="0.55"/>
<circle cx="674.45" cy="619.24" r="1.33" fill="#d2d2d2" stroke="#5c5c5c" stroke-width="0.55"/>
</g>
<line x1="757" y1="685.5" x2="771.6" y2="685.5" stroke="#e6e6e6" stroke-width="0.75"/>
<text x="764.7" y="688.4" font-size="2.4" text-anchor="middle" fill="#eee">50 µm</text>
</g>
<g clip-path="url(#c6)">
<clipPath id="c6"><rect x="521.1" y="713.7" width="123.6" height="97.2"/></clipPath>
<rect x="521.1" y="713.7" width="123.6" height="97.2" fill="url(#bgg)"/>
<g filter="url(#b2)">
<ellipse cx="591.38" cy="730.18" rx="4.12" ry="3.63" fill="#5a5a5a" opacity="0.35"/>
<ellipse cx="621.74" cy="744.07" rx="6.92" ry="6.92" fill="#5a5a5a" opacity="0.48"/>
<ellipse cx="548.86" cy="781.37" rx="8.24" ry="8.24" fill="#5a5a5a" opacity="0.35"/>
<ellipse cx="587.04" cy="783.98" rx="7.42" ry="7.42" fill="#5a5a5a" opacity="0.35"/>
<ellipse cx="616.54" cy="801.33" rx="2.97" ry="3.3" fill="#5a5a5a" opacity="0.35"/>
</g>
<g filter="url(#b3)">
<circle cx="587.52" cy="729.71" r="1.77" fill="#cecece" stroke="#4a4a4a" stroke-width="0.6"/>
<circle cx="590.44" cy="733.42" r="1.59" fill="#a6a6a6" stroke="#4a4a4a" stroke-width="0.6"/>
<circle cx="590.61" cy="729.11" r="1.12" fill="#c4c4c4" stroke="#4a4a4a" stroke-width="0.6"/>
<circle cx="588.58" cy="732.38" r="1.28" fill="#a6a6a6" stroke="#4a4a4a" stroke-width="0.6"/>
<circle cx="588.93" cy="730.16" r="1.69" fill="#a6a6a6" stroke="#4a4a4a" stroke-width="0.6"/>
<circle cx="593.96" cy="729.37" r="1.8" fill="#a6a6a6" stroke="#4a4a4a" stroke-width="0.6"/>
<circle cx="594.99" cy="731.5" r="1.71" fill="#b4b4b4" stroke="#4a4a4a" stroke-width="0.6"/>
<circle cx="593.5" cy="732.79" r="1.49" fill="#b4b4b4" stroke="#4a4a4a" stroke-width="0.6"/>
<circle cx="593.29" cy="729.7" r="1.48" fill="#a6a6a6" stroke="#4a4a4a" stroke-width="0.6"/>
<circle cx="593.94" cy="728.13" r="1.32" fill="#a6a6a6" stroke="#4a4a4a" stroke-width="0.6"/>
<circle cx="595.04" cy="732.01" r="1.43" fill="#b4b4b4" stroke="#4a4a4a" stroke-width="0.6"/>
<circle cx="593.01" cy="730.15" r="1.67" fill="#c4c4c4" stroke="#4a4a4a" stroke-width="0.6"/>
<circle cx="592.99" cy="726.81" r="1.11" fill="#c4c4c4" stroke="#4a4a4a" stroke-width="0.6"/>
<circle cx="625.3" cy="742.01" r="1.33" fill="#cecece" stroke="#4a4a4a" stroke-width="0.6"/>
<circle cx="626.4" cy="741.07" r="1.29" fill="#b4b4b4" stroke="#4a4a4a" stroke-width="0.6"/>
<circle cx="628.06" cy="744.45" r="1.34" fill="#a6a6a6" stroke="#4a4a4a" stroke-width="0.6"/>
<circle cx="618.02" cy="744.85" r="1.54" fill="#b4b4b4" stroke="#4a4a4a" stroke-width="0.6"/>
<circle cx="621.21" cy="740.05" r="1.15" fill="#a6a6a6" stroke="#4a4a4a" stroke-width="0.6"/>
<circle cx="628.67" cy="743.49" r="1.11" fill="#b4b4b4" stroke="#4a4a4a" stroke-width="0.6"/>
<circle cx="616.19" cy="741.7" r="1.38" fill="#c4c4c4" stroke="#4a4a4a" stroke-width="0.6"/>
<circle cx="620.92" cy="736.97" r="1.51" fill="#a6a6a6" stroke="#4a4a4a" stroke-width="0.6"/>
<circle cx="619.24" cy="746.1" r="1.28" fill="#a6a6a6" stroke="#4a4a4a" stroke-width="0.6"/>
<circle cx="623.16" cy="746.03" r="1.25" fill="#c4c4c4" stroke="#4a4a4a" stroke-width="0.6"/>
<circle cx="624.66" cy="739.59" r="1.66" fill="#b4b4b4" stroke="#4a4a4a" stroke-width="0.6"/>
<circle cx="627.5" cy="740.91" r="1.13" fill="#a6a6a6" stroke="#4a4a4a" stroke-width="0.6"/>
<circle cx="623.73" cy="743.07" r="1.64" fill="#cecece" stroke="#4a4a4a" stroke-width="0.6"/>
<circle cx="624.88" cy="739.06" r="1.38" fill="#b4b4b4" stroke="#4a4a4a" stroke-width="0.6"/>
<circle cx="623.64" cy="745.03" r="1.55" fill="#a6a6a6" stroke="#4a4a4a" stroke-width="0.6"/>
<circle cx="622.02" cy="749.38" r="1.29" fill="#a6a6a6" stroke="#4a4a4a" stroke-width="0.6"/>
<circle cx="623.79" cy="747.45" r="1.61" fill="#cecece" stroke="#4a4a4a" stroke-width="0.6"/>
<circle cx="617.19" cy="744.44" r="1.44" fill="#c4c4c4" stroke="#4a4a4a" stroke-width="0.6"/>
<circle cx="616.81" cy="742.32" r="1.41" fill="#c4c4c4" stroke="#4a4a4a" stroke-width="0.6"/>
<circle cx="627.93" cy="742.78" r="1.26" fill="#a6a6a6" stroke="#4a4a4a" stroke-width="0.6"/>
<circle cx="620.43" cy="746.95" r="1.35" fill="#b4b4b4" stroke="#4a4a4a" stroke-width="0.6"/>
<circle cx="627.93" cy="745.18" r="1.5" fill="#c4c4c4" stroke="#4a4a4a" stroke-width="0.6"/>
<circle cx="615.65" cy="747.28" r="1.33" fill="#cecece" stroke="#4a4a4a" stroke-width="0.6"/>
<circle cx="615.55" cy="740.74" r="1.49" fill="#a6a6a6" stroke="#4a4a4a" stroke-width="0.6"/>
<circle cx="618.39" cy="741.19" r="1.8" fill="#b4b4b4" stroke="#4a4a4a" stroke-width="0.6"/>
<circle cx="621.86" cy="740.05" r="1.35" fill="#c4c4c4" stroke="#4a4a4a" stroke-width="0.6"/>
<circle cx="617.34" cy="741.21" r="1.47" fill="#b4b4b4" stroke="#4a4a4a" stroke-width="0.6"/>
<circle cx="556.52" cy="780.62" r="1.21" fill="#b4b4b4" stroke="#4a4a4a" stroke-width="0.6"/>
<circle cx="547.31" cy="786.89" r="1.47" fill="#c4c4c4" stroke="#4a4a4a" stroke-width="0.6"/>
<circle cx="544.07" cy="785.42" r="1.63" fill="#c4c4c4" stroke="#4a4a4a" stroke-width="0.6"/>
<circle cx="552.54" cy="786.72" r="1.22" fill="#c4c4c4" stroke="#4a4a4a" stroke-width="0.6"/>
<circle cx="544.09" cy="780.31" r="1.66" fill="#a6a6a6" stroke="#4a4a4a" stroke-width="0.6"/>
<circle cx="555.09" cy="775.6" r="1.39" fill="#a6a6a6" stroke="#4a4a4a" stroke-width="0.6"/>
<circle cx="546.22" cy="778.99" r="1.6" fill="#cecece" stroke="#4a4a4a" stroke-width="0.6"/>
<circle cx="549.86" cy="775.79" r="1.33" fill="#b4b4b4" stroke="#4a4a4a" stroke-width="0.6"/>
<circle cx="549.24" cy="773.87" r="1.66" fill="#b4b4b4" stroke="#4a4a4a" stroke-width="0.6"/>
<circle cx="547.84" cy="785.52" r="1.28" fill="#cecece" stroke="#4a4a4a" stroke-width="0.6"/>
<circle cx="549.13" cy="782.05" r="1.19" fill="#cecece" stroke="#4a4a4a" stroke-width="0.6"/>
<circle cx="543.18" cy="781.63" r="1.72" fill="#c4c4c4" stroke="#4a4a4a" stroke-width="0.6"/>
<circle cx="546.28" cy="783.85" r="1.75" fill="#b4b4b4" stroke="#4a4a4a" stroke-width="0.6"/>
<circle cx="553.4" cy="783.61" r="1.63" fill="#a6a6a6" stroke="#4a4a4a" stroke-width="0.6"/>
<circle cx="545.17" cy="789.05" r="1.62" fill="#cecece" stroke="#4a4a4a" stroke-width="0.6"/>
<circle cx="545.98" cy="788.9" r="1.75" fill="#cecece" stroke="#4a4a4a" stroke-width="0.6"/>
<circle cx="545.59" cy="781.08" r="1.17" fill="#b4b4b4" stroke="#4a4a4a" stroke-width="0.6"/>
<circle cx="552.25" cy="773.93" r="1.56" fill="#cecece" stroke="#4a4a4a" stroke-width="0.6"/>
<circle cx="550.02" cy="773.73" r="1.27" fill="#cecece" stroke="#4a4a4a" stroke-width="0.6"/>
<circle cx="550.71" cy="789.24" r="1.69" fill="#c4c4c4" stroke="#4a4a4a" stroke-width="0.6"/>
<circle cx="544.71" cy="783.13" r="1.16" fill="#b4b4b4" stroke="#4a4a4a" stroke-width="0.6"/>
<circle cx="542.04" cy="786.05" r="1.24" fill="#b4b4b4" stroke="#4a4a4a" stroke-width="0.6"/>
<circle cx="548.21" cy="782.86" r="1.5" fill="#b4b4b4" stroke="#4a4a4a" stroke-width="0.6"/>
<circle cx="590.47" cy="779.71" r="1.43" fill="#a6a6a6" stroke="#4a4a4a" stroke-width="0.6"/>
<circle cx="580.61" cy="788.25" r="1.44" fill="#a6a6a6" stroke="#4a4a4a" stroke-width="0.6"/>
<circle cx="590.28" cy="783.13" r="1.12" fill="#c4c4c4" stroke="#4a4a4a" stroke-width="0.6"/>
<circle cx="583.61" cy="784.58" r="1.28" fill="#c4c4c4" stroke="#4a4a4a" stroke-width="0.6"/>
<circle cx="589.72" cy="784.59" r="1.41" fill="#c4c4c4" stroke="#4a4a4a" stroke-width="0.6"/>
<circle cx="590.66" cy="786.2" r="1.53" fill="#cecece" stroke="#4a4a4a" stroke-width="0.6"/>
<circle cx="586.77" cy="788.32" r="1.36" fill="#b4b4b4" stroke="#4a4a4a" stroke-width="0.6"/>
<circle cx="586.55" cy="789.82" r="1.64" fill="#a6a6a6" stroke="#4a4a4a" stroke-width="0.6"/>
<circle cx="592.65" cy="785.09" r="1.47" fill="#c4c4c4" stroke="#4a4a4a" stroke-width="0.6"/>
<circle cx="592.74" cy="780.76" r="1.29" fill="#c4c4c4" stroke="#4a4a4a" stroke-width="0.6"/>
<circle cx="581.51" cy="779.04" r="1.77" fill="#a6a6a6" stroke="#4a4a4a" stroke-width="0.6"/>
<circle cx="587.32" cy="781.43" r="1.36" fill="#c4c4c4" stroke="#4a4a4a" stroke-width="0.6"/>
<circle cx="582.6" cy="784.57" r="1.63" fill="#a6a6a6" stroke="#4a4a4a" stroke-width="0.6"/>
<circle cx="579.32" cy="784.32" r="1.11" fill="#c4c4c4" stroke="#4a4a4a" stroke-width="0.6"/>
<circle cx="587.97" cy="781.52" r="1.46" fill="#a6a6a6" stroke="#4a4a4a" stroke-width="0.6"/>
<circle cx="589.9" cy="787.86" r="1.53" fill="#b4b4b4" stroke="#4a4a4a" stroke-width="0.6"/>
<circle cx="588.56" cy="783.57" r="1.37" fill="#b4b4b4" stroke="#4a4a4a" stroke-width="0.6"/>
<circle cx="592.24" cy="788.25" r="1.2" fill="#cecece" stroke="#4a4a4a" stroke-width="0.6"/>
<circle cx="589.34" cy="790.61" r="1.13" fill="#a6a6a6" stroke="#4a4a4a" stroke-width="0.6"/>
<circle cx="590.08" cy="781.31" r="1.8" fill="#cecece" stroke="#4a4a4a" stroke-width="0.6"/>
<circle cx="588.94" cy="785.47" r="1.43" fill="#cecece" stroke="#4a4a4a" stroke-width="0.6"/>
<circle cx="584.77" cy="789.82" r="1.31" fill="#a6a6a6" stroke="#4a4a4a" stroke-width="0.6"/>
<circle cx="586.55" cy="784.86" r="1.16" fill="#c4c4c4" stroke="#4a4a4a" stroke-width="0.6"/>
<circle cx="613.71" cy="800.09" r="1.11" fill="#c4c4c4" stroke="#4a4a4a" stroke-width="0.6"/>
<circle cx="614.38" cy="798.82" r="1.33" fill="#c4c4c4" stroke="#4a4a4a" stroke-width="0.6"/>
<circle cx="614.18" cy="799.62" r="1.57" fill="#a6a6a6" stroke="#4a4a4a" stroke-width="0.6"/>
<circle cx="617.83" cy="804.05" r="1.51" fill="#a6a6a6" stroke="#4a4a4a" stroke-width="0.6"/>
<circle cx="615.24" cy="799.06" r="1.68" fill="#cecece" stroke="#4a4a4a" stroke-width="0.6"/>
<circle cx="613.83" cy="799.88" r="1.18" fill="#a6a6a6" stroke="#4a4a4a" stroke-width="0.6"/>
<circle cx="617.68" cy="801.52" r="1.46" fill="#c4c4c4" stroke="#4a4a4a" stroke-width="0.6"/>
<circle cx="615.95" cy="798.07" r="1.11" fill="#c4c4c4" stroke="#4a4a4a" stroke-width="0.6"/>
<circle cx="618.47" cy="801.43" r="1.56" fill="#cecece" stroke="#4a4a4a" stroke-width="0.6"/>
<circle cx="615.21" cy="802.42" r="1.24" fill="#a6a6a6" stroke="#4a4a4a" stroke-width="0.6"/>
<circle cx="590.69" cy="730.81" r="0.98" fill="#484848" opacity="0.7"/>
<circle cx="588.78" cy="733.14" r="0.79" fill="#484848" opacity="0.7"/>
<circle cx="591.99" cy="726.67" r="0.72" fill="#484848" opacity="0.7"/>
<circle cx="587.4" cy="728.88" r="0.86" fill="#484848" opacity="0.7"/>
<circle cx="589.95" cy="731.71" r="0.99" fill="#484848" opacity="0.7"/>
<circle cx="592.56" cy="732.96" r="0.88" fill="#484848" opacity="0.7"/>
<circle cx="589.9" cy="729.73" r="0.93" fill="#484848" opacity="0.7"/>
<circle cx="623.71" cy="749.23" r="0.95" fill="#484848" opacity="0.7"/>
<circle cx="622.2" cy="739.2" r="0.82" fill="#484848" opacity="0.7"/>
<circle cx="616.41" cy="743.92" r="0.84" fill="#484848" opacity="0.7"/>
<circle cx="625.47" cy="744.35" r="1.09" fill="#484848" opacity="0.7"/>
<circle cx="624.04" cy="739.65" r="0.98" fill="#484848" opacity="0.7"/>
<circle cx="622.65" cy="747.72" r="0.86" fill="#484848" opacity="0.7"/>
<circle cx="621.36" cy="742.92" r="0.84" fill="#484848" opacity="0.7"/>
<circle cx="626.48" cy="740.89" r="1.1" fill="#484848" opacity="0.7"/>
<circle cx="627.4" cy="748.1" r="1.02" fill="#484848" opacity="0.7"/>
<circle cx="627.01" cy="744.94" r="0.98" fill="#484848" opacity="0.7"/>
<circle cx="622.77" cy="749.85" r="1.03" fill="#484848" opacity="0.7"/>
<circle cx="623.04" cy="739.48" r="0.63" fill="#484848" opacity="0.7"/>
<circle cx="618.68" cy="743.3" r="0.87" fill="#484848" opacity="0.7"/>
<circle cx="621.22" cy="748.33" r="0.87" fill="#484848" opacity="0.7"/>
<circle cx="555.49" cy="784" r="0.85" fill="#484848" opacity="0.7"/>
<circle cx="544.95" cy="783.42" r="0.75" fill="#484848" opacity="0.7"/>
<circle cx="555.45" cy="776.13" r="0.98" fill="#484848" opacity="0.7"/>
<circle cx="549.78" cy="785.22" r="0.78" fill="#484848" opacity="0.7"/>
<circle cx="554.85" cy="775.45" r="0.71" fill="#484848" opacity="0.7"/>
<circle cx="545.29" cy="777.4" r="0.83" fill="#484848" opacity="0.7"/>
<circle cx="551.24" cy="788.35" r="0.99" fill="#484848" opacity="0.7"/>
<circle cx="554.47" cy="779.13" r="0.82" fill="#484848" opacity="0.7"/>
<circle cx="546.96" cy="778.87" r="1.04" fill="#484848" opacity="0.7"/>
<circle cx="549.33" cy="777.26" r="0.8" fill="#484848" opacity="0.7"/>
<circle cx="540.89" cy="782.07" r="0.95" fill="#484848" opacity="0.7"/>
<circle cx="549.44" cy="789.81" r="1.06" fill="#484848" opacity="0.7"/>
<circle cx="592.34" cy="784.08" r="1.04" fill="#484848" opacity="0.7"/>
<circle cx="582.72" cy="782.96" r="0.83" fill="#484848" opacity="0.7"/>
<circle cx="587.76" cy="776.73" r="0.65" fill="#484848" opacity="0.7"/>
<circle cx="584.46" cy="780.59" r="1.06" fill="#484848" opacity="0.7"/>
<circle cx="586.1" cy="778.05" r="0.93" fill="#484848" opacity="0.7"/>
<circle cx="587.19" cy="781.9" r="0.76" fill="#484848" opacity="0.7"/>
<circle cx="590.01" cy="784.72" r="1.06" fill="#484848" opacity="0.7"/>
<circle cx="583.9" cy="782.45" r="0.75" fill="#484848" opacity="0.7"/>
<circle cx="585.04" cy="785.08" r="1.01" fill="#484848" opacity="0.7"/>
<circle cx="585.68" cy="785.24" r="0.86" fill="#484848" opacity="0.7"/>
<circle cx="581.19" cy="787.49" r="0.73" fill="#484848" opacity="0.7"/>
<circle cx="587.44" cy="789.49" r="0.8" fill="#484848" opacity="0.7"/>
<circle cx="615.97" cy="798.7" r="1.08" fill="#484848" opacity="0.7"/>
<circle cx="615.53" cy="803.45" r="1.08" fill="#484848" opacity="0.7"/>
<circle cx="616.04" cy="799.64" r="0.96" fill="#484848" opacity="0.7"/>
<circle cx="615.65" cy="801.67" r="0.65" fill="#484848" opacity="0.7"/>
<circle cx="614.79" cy="801.35" r="0.73" fill="#484848" opacity="0.7"/>
</g>
<g filter="url(#b1)">
<ellipse cx="549.21" cy="735.39" rx="3.12" ry="3.12" fill="#bbee68" opacity="0.97"/>
<ellipse cx="565.69" cy="735.91" rx="3.12" ry="2.6" fill="#bcee6b" opacity="0.93"/>
<ellipse cx="537.58" cy="758.82" rx="3.12" ry="2.6" fill="#beed72" opacity="0.84"/>
<ellipse cx="533.25" cy="758.82" rx="1.74" ry="1.74" fill="#c3ec88" opacity="0.56"/>
<ellipse cx="569.34" cy="757.6" rx="3.47" ry="3.12" fill="#bded6f" opacity="0.88"/>
<ellipse cx="587.38" cy="756.56" rx="4.16" ry="3.82" fill="#bbee68" opacity="0.97"/>
<ellipse cx="554.07" cy="783.98" rx="4.86" ry="5.21" fill="#baee64" opacity="1"/>
<ellipse cx="543.66" cy="785.71" rx="3.12" ry="2.6" fill="#bded6f" opacity="0.88"/>
<ellipse cx="549.73" cy="793.52" rx="3.12" ry="2.43" fill="#bcee6b" opacity="0.93"/>
<ellipse cx="546.26" cy="776.17" rx="2.6" ry="2.08" fill="#c3ec88" opacity="0.56"/>
<ellipse cx="586.17" cy="776.51" rx="2.6" ry="2.08" fill="#bded6f" opacity="0.88"/>
<ellipse cx="580.1" cy="787.97" rx="3.47" ry="3.12" fill="#bbee68" opacity="0.97"/>
<ellipse cx="586.69" cy="791.26" rx="3.12" ry="3.47" fill="#bcee6b" opacity="0.93"/>
<ellipse cx="570.9" cy="790.57" rx="3.12" ry="2.08" fill="#bded6f" opacity="0.88"/>
<ellipse cx="568.82" cy="796.12" rx="2.6" ry="2.78" fill="#bcee6b" opacity="0.93"/>
</g>
<g filter="url(#b3)"><ellipse cx="549.21" cy="735.39" rx="1.94" ry="1.94" fill="#d2fa82" opacity="0.95"/><ellipse cx="565.69" cy="735.91" rx="1.94" ry="1.61" fill="#d2fa82" opacity="0.95"/><ellipse cx="537.58" cy="758.82" rx="1.94" ry="1.61" fill="#d2fa82" opacity="0.95"/><ellipse cx="569.34" cy="757.6" rx="2.15" ry="1.94" fill="#d2fa82" opacity="0.95"/><ellipse cx="587.38" cy="756.56" rx="2.58" ry="2.37" fill="#d2fa82" opacity="0.95"/><ellipse cx="554.07" cy="783.98" rx="3.01" ry="3.23" fill="#d2fa82" opacity="0.95"/><ellipse cx="543.66" cy="785.71" rx="1.94" ry="1.61" fill="#d2fa82" opacity="0.95"/><ellipse cx="549.73" cy="793.52" rx="1.94" ry="1.51" fill="#d2fa82" opacity="0.95"/><ellipse cx="586.17" cy="776.51" rx="1.61" ry="1.29" fill="#d2fa82" opacity="0.95"/><ellipse cx="580.1" cy="787.97" rx="2.15" ry="1.94" fill="#d2fa82" opacity="0.95"/><ellipse cx="586.69" cy="791.26" rx="1.94" ry="2.15" fill="#d2fa82" opacity="0.95"/><ellipse cx="570.9" cy="790.57" rx="1.94" ry="1.29" fill="#d2fa82" opacity="0.95"/><ellipse cx="568.82" cy="796.12" rx="1.61" ry="1.72" fill="#d2fa82" opacity="0.95"/></g>
<g filter="url(#b0)">
<circle cx="585.97" cy="741.05" r="1.14" fill="#d2d2d2" stroke="#5c5c5c" stroke-width="0.55"/>
<circle cx="589.46" cy="745.11" r="1.1" fill="#d2d2d2" stroke="#5c5c5c" stroke-width="0.55"/>
<circle cx="583.04" cy="740.98" r="0.92" fill="#d2d2d2" stroke="#5c5c5c" stroke-width="0.55"/>
<circle cx="582.2" cy="742.64" r="1.09" fill="#d2d2d2" stroke="#5c5c5c" stroke-width="0.55"/>
<circle cx="579.81" cy="747.68" r="1.05" fill="#d2d2d2" stroke="#5c5c5c" stroke-width="0.55"/>
<circle cx="578.55" cy="745.01" r="0.97" fill="#d2d2d2" stroke="#5c5c5c" stroke-width="0.55"/>
<circle cx="582.7" cy="748.51" r="1.09" fill="#d2d2d2" stroke="#5c5c5c" stroke-width="0.55"/>
<circle cx="584.15" cy="747.43" r="1.03" fill="#d2d2d2" stroke="#5c5c5c" stroke-width="0.55"/>
<circle cx="623.17" cy="767.05" r="1.42" fill="#d2d2d2" stroke="#5c5c5c" stroke-width="0.55"/>
<circle cx="622.7" cy="764.28" r="1.18" fill="#d2d2d2" stroke="#5c5c5c" stroke-width="0.55"/>
<circle cx="622.02" cy="764.83" r="0.96" fill="#d2d2d2" stroke="#5c5c5c" stroke-width="0.55"/>
<circle cx="622.24" cy="767.21" r="1.02" fill="#d2d2d2" stroke="#5c5c5c" stroke-width="0.55"/>
<circle cx="626.67" cy="786.45" r="1.27" fill="#d2d2d2" stroke="#5c5c5c" stroke-width="0.55"/>
<circle cx="628.95" cy="786.4" r="0.9" fill="#d2d2d2" stroke="#5c5c5c" stroke-width="0.55"/>
<circle cx="629.86" cy="786.05" r="1.33" fill="#d2d2d2" stroke="#5c5c5c" stroke-width="0.55"/>
<circle cx="629.41" cy="784.57" r="0.93" fill="#d2d2d2" stroke="#5c5c5c" stroke-width="0.55"/>
<circle cx="577.29" cy="807.23" r="1.17" fill="#d2d2d2" stroke="#5c5c5c" stroke-width="0.55"/>
<circle cx="577.28" cy="808.26" r="1.38" fill="#d2d2d2" stroke="#5c5c5c" stroke-width="0.55"/>
<circle cx="577.39" cy="809.1" r="1.21" fill="#d2d2d2" stroke="#5c5c5c" stroke-width="0.55"/>
<circle cx="577.59" cy="808.63" r="0.97" fill="#d2d2d2" stroke="#5c5c5c" stroke-width="0.55"/>
<circle cx="602.59" cy="715.94" r="1.1" fill="#d2d2d2" stroke="#5c5c5c" stroke-width="0.55"/>
<circle cx="601.93" cy="716.2" r="1.41" fill="#d2d2d2" stroke="#5c5c5c" stroke-width="0.55"/>
<circle cx="641.36" cy="722.5" r="0.91" fill="#d2d2d2" stroke="#5c5c5c" stroke-width="0.55"/>
<circle cx="642.84" cy="723.07" r="1.36" fill="#d2d2d2" stroke="#5c5c5c" stroke-width="0.55"/>
<circle cx="641.93" cy="722.15" r="1.1" fill="#d2d2d2" stroke="#5c5c5c" stroke-width="0.55"/>
<circle cx="553.02" cy="735.75" r="1.41" fill="#d2d2d2" stroke="#5c5c5c" stroke-width="0.55"/>
<circle cx="555.66" cy="736.53" r="1.27" fill="#d2d2d2" stroke="#5c5c5c" stroke-width="0.55"/>
<circle cx="554.51" cy="738.19" r="1.13" fill="#d2d2d2" stroke="#5c5c5c" stroke-width="0.55"/>
<circle cx="572.4" cy="736.59" r="1.01" fill="#d2d2d2" stroke="#5c5c5c" stroke-width="0.55"/>
<circle cx="569.65" cy="737.55" r="1.45" fill="#d2d2d2" stroke="#5c5c5c" stroke-width="0.55"/>
<circle cx="538.09" cy="754.24" r="1.09" fill="#d2d2d2" stroke="#5c5c5c" stroke-width="0.55"/>
<circle cx="535.34" cy="757.97" r="1.4" fill="#d2d2d2" stroke="#5c5c5c" stroke-width="0.55"/>
<circle cx="532.55" cy="754.55" r="1.32" fill="#d2d2d2" stroke="#5c5c5c" stroke-width="0.55"/>
<circle cx="535.81" cy="758.13" r="1.16" fill="#d2d2d2" stroke="#5c5c5c" stroke-width="0.55"/>
<circle cx="537.1" cy="755.22" r="1.23" fill="#d2d2d2" stroke="#5c5c5c" stroke-width="0.55"/>
<circle cx="611.61" cy="721.73" r="1.37" fill="#d2d2d2" stroke="#5c5c5c" stroke-width="0.55"/>
<circle cx="609.59" cy="794.07" r="1.48" fill="#d2d2d2" stroke="#5c5c5c" stroke-width="0.55"/>
<circle cx="619.86" cy="786.75" r="1.08" fill="#d2d2d2" stroke="#5c5c5c" stroke-width="0.55"/>
<circle cx="566.95" cy="730.73" r="0.97" fill="#d2d2d2" stroke="#5c5c5c" stroke-width="0.55"/>
<circle cx="620.23" cy="750.19" r="1.12" fill="#d2d2d2" stroke="#5c5c5c" stroke-width="0.55"/>
<circle cx="561.82" cy="732.57" r="1.09" fill="#d2d2d2" stroke="#5c5c5c" stroke-width="0.55"/>
<circle cx="637.97" cy="772.36" r="1.29" fill="#d2d2d2" stroke="#5c5c5c" stroke-width="0.55"/>
<circle cx="615.42" cy="792.32" r="1.35" fill="#d2d2d2" stroke="#5c5c5c" stroke-width="0.55"/>
<circle cx="585.53" cy="727.18" r="1.17" fill="#d2d2d2" stroke="#5c5c5c" stroke-width="0.55"/>
<circle cx="593.13" cy="767.72" r="1.04" fill="#d2d2d2" stroke="#5c5c5c" stroke-width="0.55"/>
<circle cx="562.23" cy="789.69" r="1" fill="#d2d2d2" stroke="#5c5c5c" stroke-width="0.55"/>
<circle cx="623.42" cy="740.28" r="1.1" fill="#d2d2d2" stroke="#5c5c5c" stroke-width="0.55"/>
<circle cx="524.19" cy="787.46" r="1.07" fill="#d2d2d2" stroke="#5c5c5c" stroke-width="0.55"/>
<circle cx="526.46" cy="778.1" r="0.88" fill="#d2d2d2" stroke="#5c5c5c" stroke-width="0.55"/>
<circle cx="595.73" cy="776.74" r="1.05" fill="#d2d2d2" stroke="#5c5c5c" stroke-width="0.55"/>
<circle cx="567.23" cy="747.35" r="0.98" fill="#d2d2d2" stroke="#5c5c5c" stroke-width="0.55"/>
<circle cx="582.32" cy="787.2" r="1.3" fill="#d2d2d2" stroke="#5c5c5c" stroke-width="0.55"/>
</g>
<line x1="624" y1="803.5" x2="638.6" y2="803.5" stroke="#e6e6e6" stroke-width="0.75"/>
<text x="631.5" y="806.4" font-size="2.4" text-anchor="middle" fill="#eee">50 µm</text>
</g>
<g clip-path="url(#c7)">
<clipPath id="c7"><rect x="653.9" y="713.7" width="124" height="97.2"/></clipPath>
<rect x="653.9" y="713.7" width="124" height="97.2" fill="url(#bgg)"/>
<g filter="url(#b2)">
<ellipse cx="684.48" cy="735.09" rx="5.08" ry="4.44" fill="#5a5a5a" opacity="0.35"/>
<ellipse cx="712.88" cy="744.28" rx="11.11" ry="9.84" fill="#5a5a5a" opacity="0.35"/>
<ellipse cx="755.49" cy="740.93" rx="7.14" ry="7.14" fill="#5a5a5a" opacity="0.48"/>
<ellipse cx="666.1" cy="757.64" rx="3.49" ry="3.17" fill="#5a5a5a" opacity="0.35"/>
<ellipse cx="685.31" cy="783.54" rx="7.94" ry="6.67" fill="#5a5a5a" opacity="0.35"/>
<ellipse cx="718.73" cy="776.86" rx="8.25" ry="7.14" fill="#5a5a5a" opacity="0.35"/>
<ellipse cx="752.98" cy="800.25" rx="2.86" ry="3.17" fill="#5a5a5a" opacity="0.35"/>
<ellipse cx="709.54" cy="806.93" rx="2.86" ry="1.9" fill="#5a5a5a" opacity="0.35"/>
</g>
<g filter="url(#b3)">
<circle cx="686.3" cy="738.54" r="1.33" fill="#b4b4b4" stroke="#4a4a4a" stroke-width="0.6"/>
<circle cx="685.68" cy="738.19" r="1.45" fill="#cecece" stroke="#4a4a4a" stroke-width="0.6"/>
<circle cx="680.89" cy="735.49" r="1.29" fill="#a6a6a6" stroke="#4a4a4a" stroke-width="0.6"/>
<circle cx="684.37" cy="738.98" r="1.33" fill="#b4b4b4" stroke="#4a4a4a" stroke-width="0.6"/>
<circle cx="682.32" cy="731.39" r="1.71" fill="#b4b4b4" stroke="#4a4a4a" stroke-width="0.6"/>
<circle cx="686.91" cy="734.31" r="1.27" fill="#c4c4c4" stroke="#4a4a4a" stroke-width="0.6"/>
<circle cx="684.09" cy="731.55" r="1.24" fill="#b4b4b4" stroke="#4a4a4a" stroke-width="0.6"/>
<circle cx="682.28" cy="731.16" r="1.69" fill="#c4c4c4" stroke="#4a4a4a" stroke-width="0.6"/>
<circle cx="685.09" cy="737.59" r="1.1" fill="#c4c4c4" stroke="#4a4a4a" stroke-width="0.6"/>
<circle cx="686.96" cy="734.75" r="1.61" fill="#a6a6a6" stroke="#4a4a4a" stroke-width="0.6"/>
<circle cx="680.47" cy="734.24" r="1.47" fill="#cecece" stroke="#4a4a4a" stroke-width="0.6"/>
<circle cx="686.37" cy="731.86" r="1.31" fill="#b4b4b4" stroke="#4a4a4a" stroke-width="0.6"/>
<circle cx="687.25" cy="737.22" r="1.75" fill="#c4c4c4" stroke="#4a4a4a" stroke-width="0.6"/>
<circle cx="687.18" cy="738.15" r="1.54" fill="#a6a6a6" stroke="#4a4a4a" stroke-width="0.6"/>
<circle cx="685.78" cy="736.89" r="1.58" fill="#cecece" stroke="#4a4a4a" stroke-width="0.6"/>
<circle cx="717.12" cy="743.91" r="1.58" fill="#cecece" stroke="#4a4a4a" stroke-width="0.6"/>
<circle cx="718.92" cy="739.51" r="1.67" fill="#a6a6a6" stroke="#4a4a4a" stroke-width="0.6"/>
<circle cx="716.04" cy="750.35" r="1.29" fill="#c4c4c4" stroke="#4a4a4a" stroke-width="0.6"/>
<circle cx="705.07" cy="749.51" r="1.2" fill="#a6a6a6" stroke="#4a4a4a" stroke-width="0.6"/>
<circle cx="707.2" cy="752.37" r="1.31" fill="#b4b4b4" stroke="#4a4a4a" stroke-width="0.6"/>
<circle cx="721.07" cy="751.63" r="1.48" fill="#cecece" stroke="#4a4a4a" stroke-width="0.6"/>
<circle cx="721.66" cy="745.17" r="1.2" fill="#b4b4b4" stroke="#4a4a4a" stroke-width="0.6"/>
<circle cx="718.12" cy="751.88" r="1.56" fill="#c4c4c4" stroke="#4a4a4a" stroke-width="0.6"/>
<circle cx="705.37" cy="747.59" r="1.49" fill="#c4c4c4" stroke="#4a4a4a" stroke-width="0.6"/>
<circle cx="709.28" cy="745.12" r="1.64" fill="#a6a6a6" stroke="#4a4a4a" stroke-width="0.6"/>
<circle cx="713.85" cy="737.6" r="1.38" fill="#b4b4b4" stroke="#4a4a4a" stroke-width="0.6"/>
<circle cx="706.7" cy="739.72" r="1.39" fill="#cecece" stroke="#4a4a4a" stroke-width="0.6"/>
<circle cx="720.8" cy="737.36" r="1.21" fill="#a6a6a6" stroke="#4a4a4a" stroke-width="0.6"/>
<circle cx="717.75" cy="752.38" r="1.77" fill="#a6a6a6" stroke="#4a4a4a" stroke-width="0.6"/>
<circle cx="712.09" cy="738.68" r="1.14" fill="#a6a6a6" stroke="#4a4a4a" stroke-width="0.6"/>
<circle cx="718.15" cy="735.44" r="1.63" fill="#c4c4c4" stroke="#4a4a4a" stroke-width="0.6"/>
<circle cx="711.86" cy="734.1" r="1.47" fill="#a6a6a6" stroke="#4a4a4a" stroke-width="0.6"/>
<circle cx="718.3" cy="742.02" r="1.15" fill="#cecece" stroke="#4a4a4a" stroke-width="0.6"/>
<circle cx="718.09" cy="736.95" r="1.66" fill="#cecece" stroke="#4a4a4a" stroke-width="0.6"/>
<circle cx="717.26" cy="748.42" r="1.51" fill="#cecece" stroke="#4a4a4a" stroke-width="0.6"/>
<circle cx="719.04" cy="746.62" r="1.52" fill="#a6a6a6" stroke="#4a4a4a" stroke-width="0.6"/>
<circle cx="722.03" cy="740.88" r="1.38" fill="#a6a6a6" stroke="#4a4a4a" stroke-width="0.6"/>
<circle cx="705.87" cy="748.33" r="1.62" fill="#c4c4c4" stroke="#4a4a4a" stroke-width="0.6"/>
<circle cx="714.11" cy="744.25" r="1.75" fill="#a6a6a6" stroke="#4a4a4a" stroke-width="0.6"/>
<circle cx="713.69" cy="742.18" r="1.28" fill="#c4c4c4" stroke="#4a4a4a" stroke-width="0.6"/>
<circle cx="712.08" cy="749.03" r="1.21" fill="#cecece" stroke="#4a4a4a" stroke-width="0.6"/>
<circle cx="719.18" cy="750.71" r="1.41" fill="#b4b4b4" stroke="#4a4a4a" stroke-width="0.6"/>
<circle cx="721.28" cy="750.21" r="1.68" fill="#b4b4b4" stroke="#4a4a4a" stroke-width="0.6"/>
<circle cx="712.2" cy="753.69" r="1.64" fill="#b4b4b4" stroke="#4a4a4a" stroke-width="0.6"/>
<circle cx="709.48" cy="743.7" r="1.6" fill="#a6a6a6" stroke="#4a4a4a" stroke-width="0.6"/>
<circle cx="720.65" cy="737.36" r="1.76" fill="#cecece" stroke="#4a4a4a" stroke-width="0.6"/>
<circle cx="718.93" cy="753" r="1.17" fill="#cecece" stroke="#4a4a4a" stroke-width="0.6"/>
<circle cx="707.25" cy="750.02" r="1.55" fill="#a6a6a6" stroke="#4a4a4a" stroke-width="0.6"/>
<circle cx="701.93" cy="742.45" r="1.64" fill="#c4c4c4" stroke="#4a4a4a" stroke-width="0.6"/>
<circle cx="718.97" cy="737.68" r="1.42" fill="#b4b4b4" stroke="#4a4a4a" stroke-width="0.6"/>
<circle cx="722.21" cy="745.35" r="1.75" fill="#b4b4b4" stroke="#4a4a4a" stroke-width="0.6"/>
<circle cx="717.15" cy="753.9" r="1.11" fill="#b4b4b4" stroke="#4a4a4a" stroke-width="0.6"/>
<circle cx="704.79" cy="749.68" r="1.6" fill="#b4b4b4" stroke="#4a4a4a" stroke-width="0.6"/>
<circle cx="707.4" cy="741.71" r="1.27" fill="#c4c4c4" stroke="#4a4a4a" stroke-width="0.6"/>
<circle cx="718.87" cy="750.69" r="1.11" fill="#c4c4c4" stroke="#4a4a4a" stroke-width="0.6"/>
<circle cx="719.7" cy="750.64" r="1.41" fill="#b4b4b4" stroke="#4a4a4a" stroke-width="0.6"/>
<circle cx="720.46" cy="745" r="1.75" fill="#cecece" stroke="#4a4a4a" stroke-width="0.6"/>
<circle cx="706.84" cy="743.88" r="1.2" fill="#b4b4b4" stroke="#4a4a4a" stroke-width="0.6"/>
<circle cx="707.12" cy="744.3" r="1.29" fill="#b4b4b4" stroke="#4a4a4a" stroke-width="0.6"/>
<circle cx="721.33" cy="747.29" r="1.66" fill="#b4b4b4" stroke="#4a4a4a" stroke-width="0.6"/>
<circle cx="703.74" cy="743.95" r="1.3" fill="#a6a6a6" stroke="#4a4a4a" stroke-width="0.6"/>
<circle cx="719.14" cy="744.01" r="1.74" fill="#a6a6a6" stroke="#4a4a4a" stroke-width="0.6"/>
<circle cx="722.35" cy="745.03" r="1.71" fill="#c4c4c4" stroke="#4a4a4a" stroke-width="0.6"/>
<circle cx="707.95" cy="742.25" r="1.22" fill="#cecece" stroke="#4a4a4a" stroke-width="0.6"/>
<circle cx="724.51" cy="743.54" r="1.27" fill="#a6a6a6" stroke="#4a4a4a" stroke-width="0.6"/>
<circle cx="703.82" cy="749.23" r="1.71" fill="#cecece" stroke="#4a4a4a" stroke-width="0.6"/>
<circle cx="749.83" cy="738.23" r="1.8" fill="#b4b4b4" stroke="#4a4a4a" stroke-width="0.6"/>
<circle cx="756.3" cy="747.45" r="1.77" fill="#a6a6a6" stroke="#4a4a4a" stroke-width="0.6"/>
<circle cx="751.23" cy="744.3" r="1.18" fill="#b4b4b4" stroke="#4a4a4a" stroke-width="0.6"/>
<circle cx="754.65" cy="739.38" r="1.65" fill="#c4c4c4" stroke="#4a4a4a" stroke-width="0.6"/>
<circle cx="755.73" cy="734.08" r="1.69" fill="#a6a6a6" stroke="#4a4a4a" stroke-width="0.6"/>
<circle cx="761.87" cy="743.9" r="1.59" fill="#b4b4b4" stroke="#4a4a4a" stroke-width="0.6"/>
<circle cx="762.24" cy="738.63" r="1.44" fill="#c4c4c4" stroke="#4a4a4a" stroke-width="0.6"/>
<circle cx="757.58" cy="738.31" r="1.78" fill="#b4b4b4" stroke="#4a4a4a" stroke-width="0.6"/>
<circle cx="752.41" cy="734.9" r="1.48" fill="#cecece" stroke="#4a4a4a" stroke-width="0.6"/>
<circle cx="752.18" cy="739.28" r="1.66" fill="#b4b4b4" stroke="#4a4a4a" stroke-width="0.6"/>
<circle cx="751.97" cy="740.38" r="1.63" fill="#c4c4c4" stroke="#4a4a4a" stroke-width="0.6"/>
<circle cx="751.2" cy="738.51" r="1.66" fill="#cecece" stroke="#4a4a4a" stroke-width="0.6"/>
<circle cx="750.02" cy="743.83" r="1.48" fill="#a6a6a6" stroke="#4a4a4a" stroke-width="0.6"/>
<circle cx="752.51" cy="744.28" r="1.51" fill="#a6a6a6" stroke="#4a4a4a" stroke-width="0.6"/>
<circle cx="756.75" cy="743.79" r="1.32" fill="#cecece" stroke="#4a4a4a" stroke-width="0.6"/>
<circle cx="754.74" cy="737.76" r="1.64" fill="#b4b4b4" stroke="#4a4a4a" stroke-width="0.6"/>
<circle cx="752.06" cy="747.39" r="1.18" fill="#a6a6a6" stroke="#4a4a4a" stroke-width="0.6"/>
<circle cx="759.57" cy="735.47" r="1.68" fill="#b4b4b4" stroke="#4a4a4a" stroke-width="0.6"/>
<circle cx="752.68" cy="737.95" r="1.77" fill="#c4c4c4" stroke="#4a4a4a" stroke-width="0.6"/>
<circle cx="756.57" cy="747.14" r="1.38" fill="#b4b4b4" stroke="#4a4a4a" stroke-width="0.6"/>
<circle cx="759.87" cy="743" r="1.32" fill="#cecece" stroke="#4a4a4a" stroke-width="0.6"/>
<circle cx="756.3" cy="737.62" r="1.68" fill="#c4c4c4" stroke="#4a4a4a" stroke-width="0.6"/>
<circle cx="757.66" cy="741.36" r="1.54" fill="#c4c4c4" stroke="#4a4a4a" stroke-width="0.6"/>
<circle cx="760.81" cy="738.41" r="1.21" fill="#a6a6a6" stroke="#4a4a4a" stroke-width="0.6"/>
<circle cx="760.72" cy="737.67" r="1.1" fill="#a6a6a6" stroke="#4a4a4a" stroke-width="0.6"/>
<circle cx="758.65" cy="744.4" r="1.47" fill="#cecece" stroke="#4a4a4a" stroke-width="0.6"/>
<circle cx="749.18" cy="738.18" r="1.53" fill="#b4b4b4" stroke="#4a4a4a" stroke-width="0.6"/>
<circle cx="664.93" cy="759.91" r="1.11" fill="#a6a6a6" stroke="#4a4a4a" stroke-width="0.6"/>
<circle cx="669.03" cy="756.38" r="1.63" fill="#cecece" stroke="#4a4a4a" stroke-width="0.6"/>
<circle cx="664.62" cy="756.08" r="1.69" fill="#b4b4b4" stroke="#4a4a4a" stroke-width="0.6"/>
<circle cx="663.11" cy="757.53" r="1.29" fill="#a6a6a6" stroke="#4a4a4a" stroke-width="0.6"/>
<circle cx="667.35" cy="760.24" r="1.32" fill="#a6a6a6" stroke="#4a4a4a" stroke-width="0.6"/>
<circle cx="668.03" cy="758.15" r="1.4" fill="#a6a6a6" stroke="#4a4a4a" stroke-width="0.6"/>
<circle cx="666.61" cy="758.8" r="1.6" fill="#b4b4b4" stroke="#4a4a4a" stroke-width="0.6"/>
<circle cx="663.55" cy="758.19" r="1.6" fill="#a6a6a6" stroke="#4a4a4a" stroke-width="0.6"/>
<circle cx="668.62" cy="758.35" r="1.79" fill="#b4b4b4" stroke="#4a4a4a" stroke-width="0.6"/>
<circle cx="665.58" cy="760.4" r="1.22" fill="#a6a6a6" stroke="#4a4a4a" stroke-width="0.6"/>
<circle cx="680.66" cy="783.62" r="1.77" fill="#b4b4b4" stroke="#4a4a4a" stroke-width="0.6"/>
<circle cx="691.29" cy="788.04" r="1.31" fill="#a6a6a6" stroke="#4a4a4a" stroke-width="0.6"/>
<circle cx="686.85" cy="782.8" r="1.59" fill="#cecece" stroke="#4a4a4a" stroke-width="0.6"/>
<circle cx="678.83" cy="784.3" r="1.16" fill="#c4c4c4" stroke="#4a4a4a" stroke-width="0.6"/>
<circle cx="681.73" cy="786.52" r="1.49" fill="#a6a6a6" stroke="#4a4a4a" stroke-width="0.6"/>
<circle cx="683.72" cy="776.83" r="1.3" fill="#b4b4b4" stroke="#4a4a4a" stroke-width="0.6"/>
<circle cx="688.74" cy="784.4" r="1.74" fill="#c4c4c4" stroke="#4a4a4a" stroke-width="0.6"/>
<circle cx="678.81" cy="781.8" r="1.8" fill="#cecece" stroke="#4a4a4a" stroke-width="0.6"/>
<circle cx="687.09" cy="778.36" r="1.64" fill="#cecece" stroke="#4a4a4a" stroke-width="0.6"/>
<circle cx="689.06" cy="789.06" r="1.22" fill="#cecece" stroke="#4a4a4a" stroke-width="0.6"/>
<circle cx="690.98" cy="779.16" r="1.5" fill="#a6a6a6" stroke="#4a4a4a" stroke-width="0.6"/>
<circle cx="684.78" cy="785.99" r="1.44" fill="#a6a6a6" stroke="#4a4a4a" stroke-width="0.6"/>
<circle cx="686.54" cy="787.67" r="1.21" fill="#b4b4b4" stroke="#4a4a4a" stroke-width="0.6"/>
<circle cx="691.74" cy="786.67" r="1.65" fill="#a6a6a6" stroke="#4a4a4a" stroke-width="0.6"/>
<circle cx="679.83" cy="780.46" r="1.67" fill="#a6a6a6" stroke="#4a4a4a" stroke-width="0.6"/>
<circle cx="679.81" cy="780.4" r="1.14" fill="#cecece" stroke="#4a4a4a" stroke-width="0.6"/>
<circle cx="691.45" cy="786.29" r="1.48" fill="#cecece" stroke="#4a4a4a" stroke-width="0.6"/>
<circle cx="683.72" cy="789.71" r="1.42" fill="#a6a6a6" stroke="#4a4a4a" stroke-width="0.6"/>
<circle cx="678.17" cy="780.2" r="1.41" fill="#cecece" stroke="#4a4a4a" stroke-width="0.6"/>
<circle cx="689.87" cy="780.41" r="1.57" fill="#a6a6a6" stroke="#4a4a4a" stroke-width="0.6"/>
<circle cx="685.1" cy="778.53" r="1.47" fill="#b4b4b4" stroke="#4a4a4a" stroke-width="0.6"/>
<circle cx="690.08" cy="778.9" r="1.53" fill="#cecece" stroke="#4a4a4a" stroke-width="0.6"/>
<circle cx="684.29" cy="780.07" r="1.49" fill="#c4c4c4" stroke="#4a4a4a" stroke-width="0.6"/>
<circle cx="718.14" cy="781.76" r="1.39" fill="#c4c4c4" stroke="#4a4a4a" stroke-width="0.6"/>
<circle cx="719.05" cy="772.49" r="1.57" fill="#c4c4c4" stroke="#4a4a4a" stroke-width="0.6"/>
<circle cx="724.78" cy="781.82" r="1.57" fill="#b4b4b4" stroke="#4a4a4a" stroke-width="0.6"/>
<circle cx="714.26" cy="780.58" r="1.58" fill="#c4c4c4" stroke="#4a4a4a" stroke-width="0.6"/>
<circle cx="715.79" cy="775.89" r="1.21" fill="#b4b4b4" stroke="#4a4a4a" stroke-width="0.6"/>
<circle cx="724.22" cy="780.49" r="1.8" fill="#a6a6a6" stroke="#4a4a4a" stroke-width="0.6"/>
<circle cx="724.72" cy="781.52" r="1.64" fill="#c4c4c4" stroke="#4a4a4a" stroke-width="0.6"/>
<circle cx="718.45" cy="782" r="1.16" fill="#c4c4c4" stroke="#4a4a4a" stroke-width="0.6"/>
<circle cx="721.06" cy="772.13" r="1.68" fill="#b4b4b4" stroke="#4a4a4a" stroke-width="0.6"/>
<circle cx="713.62" cy="779.14" r="1.48" fill="#c4c4c4" stroke="#4a4a4a" stroke-width="0.6"/>
<circle cx="720.28" cy="771.34" r="1.55" fill="#cecece" stroke="#4a4a4a" stroke-width="0.6"/>
<circle cx="715.54" cy="778.66" r="1.27" fill="#c4c4c4" stroke="#4a4a4a" stroke-width="0.6"/>
<circle cx="719.22" cy="775.98" r="1.67" fill="#a6a6a6" stroke="#4a4a4a" stroke-width="0.6"/>
<circle cx="713.72" cy="775.83" r="1.42" fill="#cecece" stroke="#4a4a4a" stroke-width="0.6"/>
<circle cx="712.53" cy="780.32" r="1.61" fill="#b4b4b4" stroke="#4a4a4a" stroke-width="0.6"/>
<circle cx="724.07" cy="774.44" r="1.55" fill="#c4c4c4" stroke="#4a4a4a" stroke-width="0.6"/>
<circle cx="721.28" cy="782.74" r="1.11" fill="#a6a6a6" stroke="#4a4a4a" stroke-width="0.6"/>
<circle cx="723.48" cy="770.93" r="1.41" fill="#a6a6a6" stroke="#4a4a4a" stroke-width="0.6"/>
<circle cx="721.35" cy="779.09" r="1.52" fill="#a6a6a6" stroke="#4a4a4a" stroke-width="0.6"/>
<circle cx="723.58" cy="777.13" r="1.1" fill="#a6a6a6" stroke="#4a4a4a" stroke-width="0.6"/>
<circle cx="721.27" cy="777.87" r="1.75" fill="#b4b4b4" stroke="#4a4a4a" stroke-width="0.6"/>
<circle cx="719.37" cy="771.79" r="1.59" fill="#b4b4b4" stroke="#4a4a4a" stroke-width="0.6"/>
<circle cx="724.27" cy="781.06" r="1.27" fill="#cecece" stroke="#4a4a4a" stroke-width="0.6"/>
<circle cx="717.15" cy="772.46" r="1.7" fill="#c4c4c4" stroke="#4a4a4a" stroke-width="0.6"/>
<circle cx="720.73" cy="777.6" r="1.71" fill="#b4b4b4" stroke="#4a4a4a" stroke-width="0.6"/>
<circle cx="721.13" cy="772.99" r="1.19" fill="#c4c4c4" stroke="#4a4a4a" stroke-width="0.6"/>
<circle cx="712.73" cy="775.59" r="1.38" fill="#c4c4c4" stroke="#4a4a4a" stroke-width="0.6"/>
<circle cx="753.17" cy="802.32" r="1.67" fill="#a6a6a6" stroke="#4a4a4a" stroke-width="0.6"/>
<circle cx="755.94" cy="799.92" r="1.72" fill="#b4b4b4" stroke="#4a4a4a" stroke-width="0.6"/>
<circle cx="755.34" cy="800.94" r="1.56" fill="#c4c4c4" stroke="#4a4a4a" stroke-width="0.6"/>
<circle cx="753.35" cy="800.67" r="1.44" fill="#c4c4c4" stroke="#4a4a4a" stroke-width="0.6"/>
<circle cx="751.99" cy="803.17" r="1.58" fill="#cecece" stroke="#4a4a4a" stroke-width="0.6"/>
<circle cx="751.02" cy="802.26" r="1.11" fill="#cecece" stroke="#4a4a4a" stroke-width="0.6"/>
<circle cx="751.43" cy="799.94" r="1.3" fill="#b4b4b4" stroke="#4a4a4a" stroke-width="0.6"/>
<circle cx="750.69" cy="799.2" r="1.77" fill="#c4c4c4" stroke="#4a4a4a" stroke-width="0.6"/>
<circle cx="751.59" cy="800.24" r="1.74" fill="#b4b4b4" stroke="#4a4a4a" stroke-width="0.6"/>
<circle cx="754.41" cy="797.58" r="1.47" fill="#a6a6a6" stroke="#4a4a4a" stroke-width="0.6"/>
<circle cx="709.24" cy="807.84" r="1.64" fill="#a6a6a6" stroke="#4a4a4a" stroke-width="0.6"/>
<circle cx="708.27" cy="808.55" r="1.78" fill="#cecece" stroke="#4a4a4a" stroke-width="0.6"/>
<circle cx="708.73" cy="805.57" r="1.77" fill="#b4b4b4" stroke="#4a4a4a" stroke-width="0.6"/>
<circle cx="709.26" cy="805.38" r="1.53" fill="#cecece" stroke="#4a4a4a" stroke-width="0.6"/>
<circle cx="707.92" cy="806.69" r="1.14" fill="#a6a6a6" stroke="#4a4a4a" stroke-width="0.6"/>
<circle cx="709.05" cy="806.54" r="1.4" fill="#cecece" stroke="#4a4a4a" stroke-width="0.6"/>
<circle cx="707.68" cy="808.2" r="1.57" fill="#b4b4b4" stroke="#4a4a4a" stroke-width="0.6"/>
<circle cx="711.19" cy="805.83" r="1.46" fill="#cecece" stroke="#4a4a4a" stroke-width="0.6"/>
<circle cx="681.33" cy="736.24" r="0.84" fill="#484848" opacity="0.7"/>
<circle cx="688.09" cy="737.42" r="0.89" fill="#484848" opacity="0.7"/>
<circle cx="681.43" cy="734.51" r="1.01" fill="#484848" opacity="0.7"/>
<circle cx="686.25" cy="732" r="0.64" fill="#484848" opacity="0.7"/>
<circle cx="685.72" cy="736.55" r="0.64" fill="#484848" opacity="0.7"/>
<circle cx="682.13" cy="732.32" r="0.7" fill="#484848" opacity="0.7"/>
<circle cx="688.06" cy="733.1" r="1" fill="#484848" opacity="0.7"/>
<circle cx="686.31" cy="731.57" r="0.86" fill="#484848" opacity="0.7"/>
<circle cx="721.37" cy="745.67" r="0.72" fill="#484848" opacity="0.7"/>
<circle cx="721.3" cy="748.6" r="0.84" fill="#484848" opacity="0.7"/>
<circle cx="715.51" cy="753" r="0.76" fill="#484848" opacity="0.7"/>
<circle cx="712.35" cy="749.92" r="0.7" fill="#484848" opacity="0.7"/>
<circle cx="716.57" cy="739.31" r="1.07" fill="#484848" opacity="0.7"/>
<circle cx="709.58" cy="737.26" r="1.05" fill="#484848" opacity="0.7"/>
<circle cx="711.35" cy="745.67" r="0.93" fill="#484848" opacity="0.7"/>
<circle cx="723.27" cy="748.14" r="1.09" fill="#484848" opacity="0.7"/>
<circle cx="710.16" cy="746.24" r="1.08" fill="#484848" opacity="0.7"/>
<circle cx="712.27" cy="754.45" r="0.84" fill="#484848" opacity="0.7"/>
<circle cx="721.1" cy="737.89" r="0.68" fill="#484848" opacity="0.7"/>
<circle cx="709" cy="750.15" r="0.7" fill="#484848" opacity="0.7"/>
<circle cx="717.72" cy="742.24" r="0.72" fill="#484848" opacity="0.7"/>
<circle cx="714.75" cy="747.95" r="1.01" fill="#484848" opacity="0.7"/>
<circle cx="715.51" cy="751.88" r="0.66" fill="#484848" opacity="0.7"/>
<circle cx="716.77" cy="735.77" r="1.07" fill="#484848" opacity="0.7"/>
<circle cx="721.88" cy="747.15" r="0.96" fill="#484848" opacity="0.7"/>
<circle cx="707.74" cy="751.57" r="0.76" fill="#484848" opacity="0.7"/>
<circle cx="703.57" cy="739.43" r="1.01" fill="#484848" opacity="0.7"/>
<circle cx="709.94" cy="748.86" r="1.08" fill="#484848" opacity="0.7"/>
<circle cx="713.7" cy="751.36" r="0.81" fill="#484848" opacity="0.7"/>
<circle cx="707.23" cy="749.96" r="0.66" fill="#484848" opacity="0.7"/>
<circle cx="703.52" cy="746.12" r="1.02" fill="#484848" opacity="0.7"/>
<circle cx="707.27" cy="744.58" r="0.74" fill="#484848" opacity="0.7"/>
<circle cx="714.5" cy="747.97" r="0.75" fill="#484848" opacity="0.7"/>
<circle cx="704.41" cy="750.99" r="0.98" fill="#484848" opacity="0.7"/>
<circle cx="720.11" cy="740.84" r="0.7" fill="#484848" opacity="0.7"/>
<circle cx="760.12" cy="739.71" r="0.77" fill="#484848" opacity="0.7"/>
<circle cx="751.68" cy="734.9" r="0.82" fill="#484848" opacity="0.7"/>
<circle cx="759.91" cy="742.3" r="0.7" fill="#484848" opacity="0.7"/>
<circle cx="758.92" cy="738.33" r="0.83" fill="#484848" opacity="0.7"/>
<circle cx="754.16" cy="739.72" r="0.65" fill="#484848" opacity="0.7"/>
<circle cx="751.74" cy="740.51" r="0.63" fill="#484848" opacity="0.7"/>
<circle cx="755.26" cy="734.49" r="0.91" fill="#484848" opacity="0.7"/>
<circle cx="760.16" cy="745.85" r="1.1" fill="#484848" opacity="0.7"/>
<circle cx="760.23" cy="744.93" r="0.63" fill="#484848" opacity="0.7"/>
<circle cx="758.82" cy="743.72" r="1.08" fill="#484848" opacity="0.7"/>
<circle cx="750.17" cy="742.42" r="1.04" fill="#484848" opacity="0.7"/>
<circle cx="752.32" cy="743.45" r="0.64" fill="#484848" opacity="0.7"/>
<circle cx="756.11" cy="746.79" r="1.04" fill="#484848" opacity="0.7"/>
<circle cx="759.33" cy="740.66" r="0.93" fill="#484848" opacity="0.7"/>
<circle cx="664.32" cy="759.19" r="0.71" fill="#484848" opacity="0.7"/>
<circle cx="666.25" cy="759.56" r="0.84" fill="#484848" opacity="0.7"/>
<circle cx="664.1" cy="759.14" r="0.72" fill="#484848" opacity="0.7"/>
<circle cx="663" cy="756.85" r="0.84" fill="#484848" opacity="0.7"/>
<circle cx="663.97" cy="759.98" r="0.91" fill="#484848" opacity="0.7"/>
<circle cx="689.01" cy="778.45" r="1.06" fill="#484848" opacity="0.7"/>
<circle cx="688.53" cy="784.49" r="0.71" fill="#484848" opacity="0.7"/>
<circle cx="692.85" cy="781.51" r="0.74" fill="#484848" opacity="0.7"/>
<circle cx="689.7" cy="785.22" r="1.01" fill="#484848" opacity="0.7"/>
<circle cx="688.71" cy="778.79" r="1.07" fill="#484848" opacity="0.7"/>
<circle cx="685.42" cy="782.77" r="0.69" fill="#484848" opacity="0.7"/>
<circle cx="688.77" cy="778.14" r="1.03" fill="#484848" opacity="0.7"/>
<circle cx="678.61" cy="779.89" r="0.6" fill="#484848" opacity="0.7"/>
<circle cx="684.12" cy="784.48" r="1.09" fill="#484848" opacity="0.7"/>
<circle cx="689.86" cy="779.35" r="0.87" fill="#484848" opacity="0.7"/>
<circle cx="679" cy="782.75" r="0.74" fill="#484848" opacity="0.7"/>
<circle cx="691.21" cy="787.7" r="1.01" fill="#484848" opacity="0.7"/>
<circle cx="719.99" cy="774.93" r="0.79" fill="#484848" opacity="0.7"/>
<circle cx="714.87" cy="772.7" r="0.81" fill="#484848" opacity="0.7"/>
<circle cx="715.92" cy="774.88" r="0.85" fill="#484848" opacity="0.7"/>
<circle cx="722.96" cy="778.13" r="0.62" fill="#484848" opacity="0.7"/>
<circle cx="718.36" cy="778.34" r="1.1" fill="#484848" opacity="0.7"/>
<circle cx="720.3" cy="776.33" r="0.67" fill="#484848" opacity="0.7"/>
<circle cx="726.32" cy="773.6" r="1.07" fill="#484848" opacity="0.7"/>
<circle cx="725" cy="776.61" r="1.1" fill="#484848" opacity="0.7"/>
<circle cx="723.41" cy="776.17" r="0.85" fill="#484848" opacity="0.7"/>
<circle cx="710.22" cy="777.31" r="0.91" fill="#484848" opacity="0.7"/>
<circle cx="714.92" cy="782.63" r="0.77" fill="#484848" opacity="0.7"/>
<circle cx="714.97" cy="774.25" r="0.82" fill="#484848" opacity="0.7"/>
<circle cx="716.44" cy="776.59" r="0.94" fill="#484848" opacity="0.7"/>
<circle cx="719.87" cy="775.44" r="0.71" fill="#484848" opacity="0.7"/>
<circle cx="755.61" cy="800.31" r="0.65" fill="#484848" opacity="0.7"/>
<circle cx="751.65" cy="800.61" r="0.96" fill="#484848" opacity="0.7"/>
<circle cx="750.26" cy="801.35" r="1.05" fill="#484848" opacity="0.7"/>
<circle cx="752.45" cy="801.88" r="0.96" fill="#484848" opacity="0.7"/>
<circle cx="755.25" cy="798.22" r="0.85" fill="#484848" opacity="0.7"/>
<circle cx="709.6" cy="808.01" r="0.81" fill="#484848" opacity="0.7"/>
<circle cx="707.51" cy="806.7" r="0.69" fill="#484848" opacity="0.7"/>
<circle cx="709.41" cy="808.78" r="0.91" fill="#484848" opacity="0.7"/>
<circle cx="710.03" cy="807.97" r="0.76" fill="#484848" opacity="0.7"/>
</g>
<g filter="url(#b1)">
<ellipse cx="672.28" cy="758.14" rx="3.01" ry="3.01" fill="#bbee68" opacity="0.97"/>
<ellipse cx="702.52" cy="753.8" rx="3.34" ry="3.68" fill="#c2ec84" opacity="0.61"/>
<ellipse cx="714.55" cy="781.04" rx="4.18" ry="3.68" fill="#bbee68" opacity="0.97"/>
<ellipse cx="678.63" cy="785.21" rx="2.51" ry="3.34" fill="#beed72" opacity="0.84"/>
<ellipse cx="691.16" cy="792.73" rx="4.18" ry="5.01" fill="#baee64" opacity="1"/>
<ellipse cx="681.97" cy="793.23" rx="2.67" ry="2.51" fill="#bbee68" opacity="0.97"/>
<ellipse cx="704.19" cy="788.22" rx="3.01" ry="2.01" fill="#bcee6b" opacity="0.93"/>
<ellipse cx="701.69" cy="793.57" rx="2.51" ry="2.51" fill="#bcee6b" opacity="0.93"/>
</g>
<g filter="url(#b3)"><ellipse cx="672.28" cy="758.14" rx="1.86" ry="1.86" fill="#d2fa82" opacity="0.95"/><ellipse cx="714.55" cy="781.04" rx="2.59" ry="2.28" fill="#d2fa82" opacity="0.95"/><ellipse cx="678.63" cy="785.21" rx="1.55" ry="2.07" fill="#d2fa82" opacity="0.95"/><ellipse cx="691.16" cy="792.73" rx="2.59" ry="3.11" fill="#d2fa82" opacity="0.95"/><ellipse cx="681.97" cy="793.23" rx="1.66" ry="1.55" fill="#d2fa82" opacity="0.95"/><ellipse cx="704.19" cy="788.22" rx="1.86" ry="1.24" fill="#d2fa82" opacity="0.95"/><ellipse cx="701.69" cy="793.57" rx="1.55" ry="1.55" fill="#d2fa82" opacity="0.95"/></g>
<g filter="url(#b0)">
<circle cx="755.89" cy="765.03" r="0.92" fill="#d2d2d2" stroke="#5c5c5c" stroke-width="0.55"/>
<circle cx="756.78" cy="767.01" r="1.47" fill="#d2d2d2" stroke="#5c5c5c" stroke-width="0.55"/>
<circle cx="757.29" cy="765.3" r="1.18" fill="#d2d2d2" stroke="#5c5c5c" stroke-width="0.55"/>
<circle cx="758.47" cy="764.95" r="1.05" fill="#d2d2d2" stroke="#5c5c5c" stroke-width="0.55"/>
<circle cx="776.48" cy="732.31" r="1.21" fill="#d2d2d2" stroke="#5c5c5c" stroke-width="0.55"/>
<circle cx="774.47" cy="732.26" r="1.29" fill="#d2d2d2" stroke="#5c5c5c" stroke-width="0.55"/>
<circle cx="740.89" cy="736.43" r="1.31" fill="#d2d2d2" stroke="#5c5c5c" stroke-width="0.55"/>
<circle cx="741.94" cy="739.71" r="1.48" fill="#d2d2d2" stroke="#5c5c5c" stroke-width="0.55"/>
<circle cx="692.2" cy="768.92" r="1.42" fill="#d2d2d2" stroke="#5c5c5c" stroke-width="0.55"/>
<circle cx="691.64" cy="768.31" r="1.31" fill="#d2d2d2" stroke="#5c5c5c" stroke-width="0.55"/>
<circle cx="745.67" cy="788.39" r="1.31" fill="#d2d2d2" stroke="#5c5c5c" stroke-width="0.55"/>
<circle cx="748.04" cy="787.12" r="1.17" fill="#d2d2d2" stroke="#5c5c5c" stroke-width="0.55"/>
<circle cx="769.91" cy="745.12" r="1.19" fill="#d2d2d2" stroke="#5c5c5c" stroke-width="0.55"/>
<circle cx="766.37" cy="744.63" r="1.31" fill="#d2d2d2" stroke="#5c5c5c" stroke-width="0.55"/>
<circle cx="687.79" cy="731.99" r="1.34" fill="#d2d2d2" stroke="#5c5c5c" stroke-width="0.55"/>
<circle cx="669.78" cy="805.99" r="1.2" fill="#d2d2d2" stroke="#5c5c5c" stroke-width="0.55"/>
<circle cx="775.83" cy="718.66" r="1.15" fill="#d2d2d2" stroke="#5c5c5c" stroke-width="0.55"/>
<circle cx="748.41" cy="728.18" r="0.93" fill="#d2d2d2" stroke="#5c5c5c" stroke-width="0.55"/>
<circle cx="761.61" cy="787.34" r="1.01" fill="#d2d2d2" stroke="#5c5c5c" stroke-width="0.55"/>
<circle cx="695.66" cy="762.91" r="1.08" fill="#d2d2d2" stroke="#5c5c5c" stroke-width="0.55"/>
<circle cx="756.67" cy="753.16" r="1.17" fill="#d2d2d2" stroke="#5c5c5c" stroke-width="0.55"/>
<circle cx="691.93" cy="800.1" r="0.94" fill="#d2d2d2" stroke="#5c5c5c" stroke-width="0.55"/>
<circle cx="744.7" cy="761.06" r="1.09" fill="#d2d2d2" stroke="#5c5c5c" stroke-width="0.55"/>
<circle cx="675.31" cy="761.8" r="1.03" fill="#d2d2d2" stroke="#5c5c5c" stroke-width="0.55"/>
</g>
<line x1="757" y1="803.5" x2="771.6" y2="803.5" stroke="#e6e6e6" stroke-width="0.75"/>
<text x="764.7" y="806.4" font-size="2.4" text-anchor="middle" fill="#eee">50 µm</text>
</g>
</g>
</svg></body></html>
